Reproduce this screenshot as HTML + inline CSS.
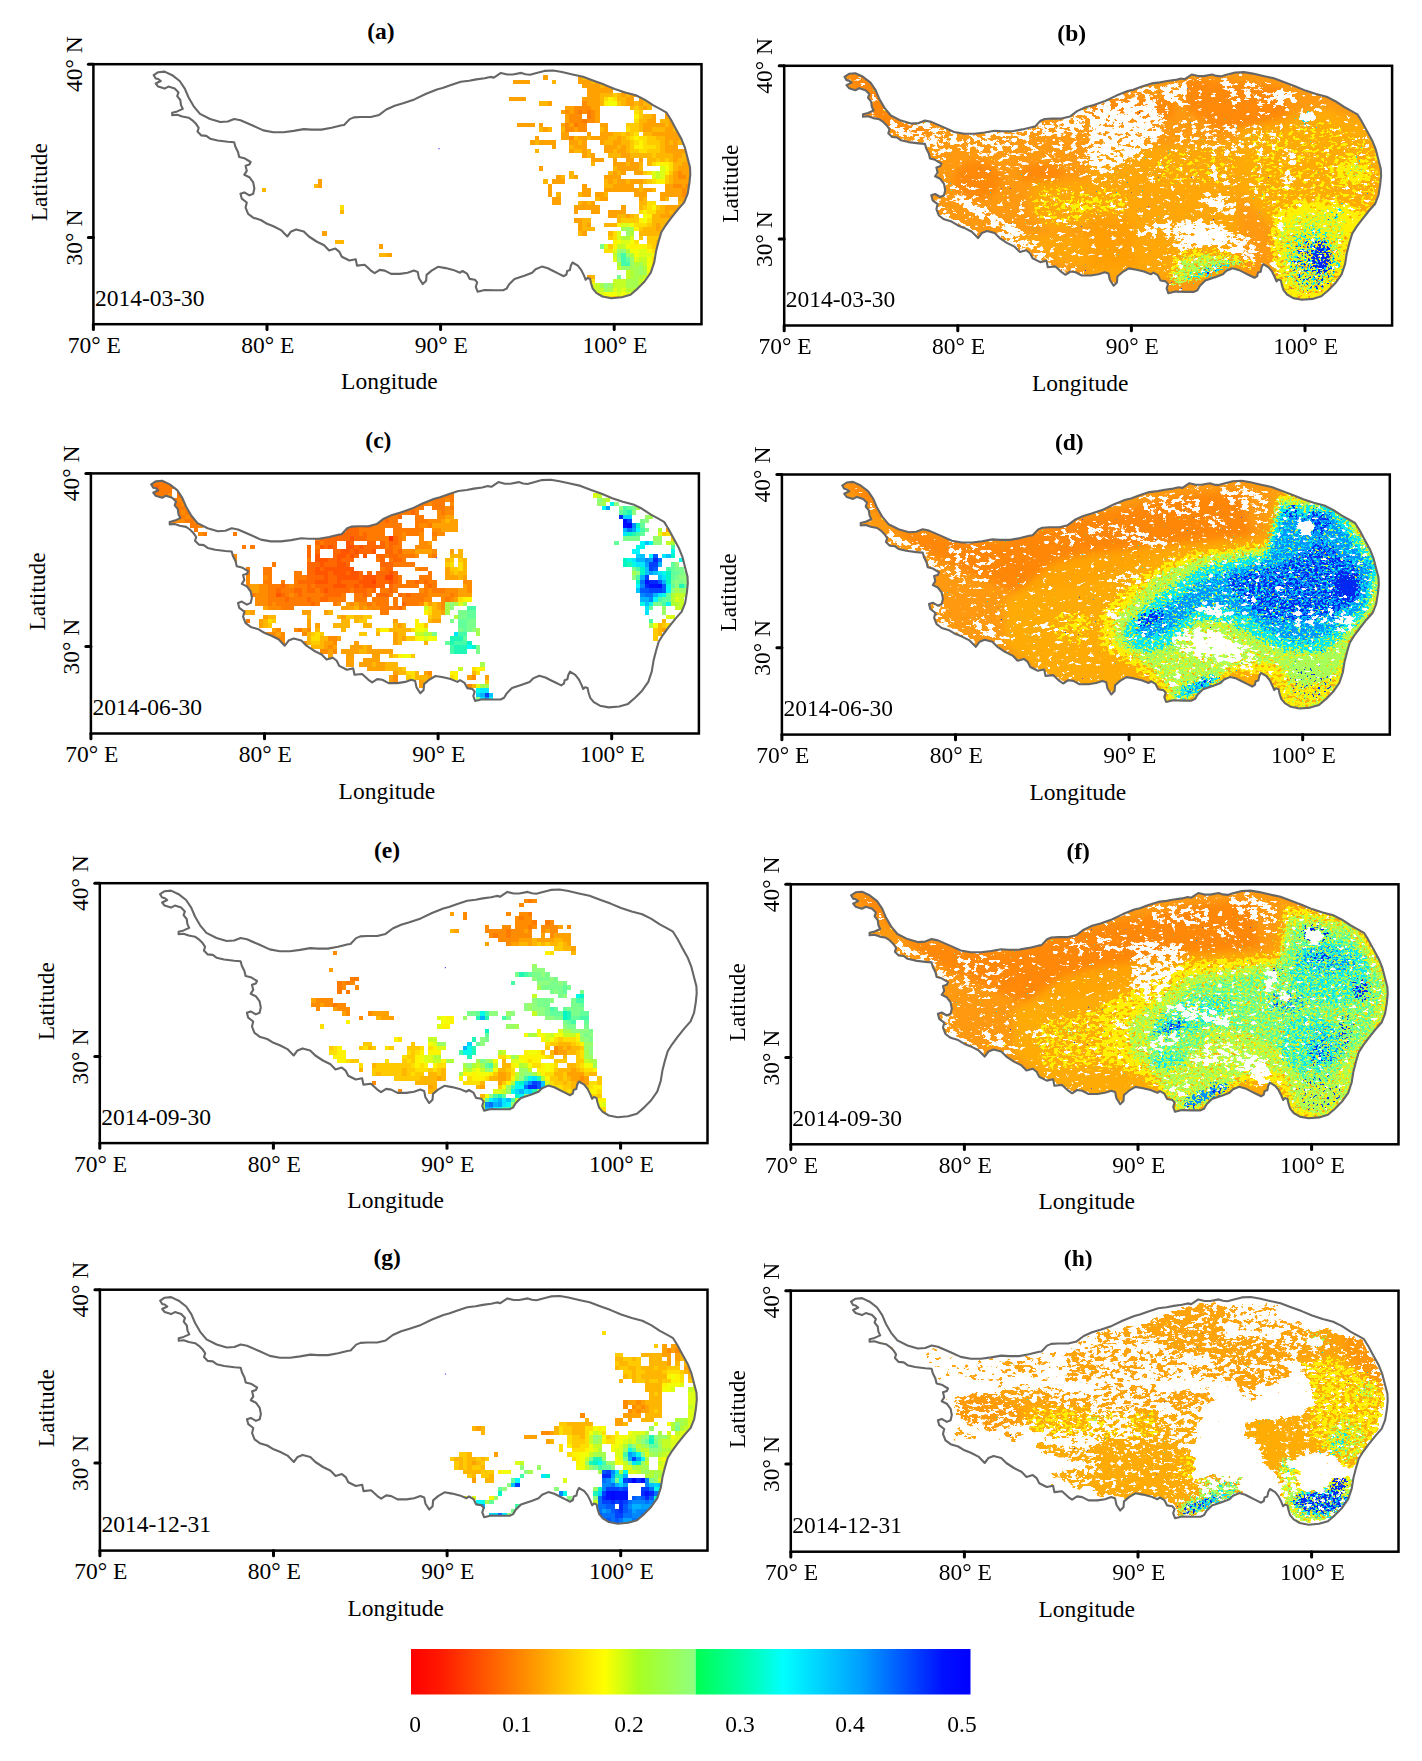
<!DOCTYPE html>
<html lang="en"><head><meta charset="utf-8"><title>Figure</title>
<style>html,body{margin:0;padding:0;background:#fff}svg{display:block}text{font-family:"Liberation Serif","Times New Roman",serif;font-size:23.5px;fill:#000}</style></head><body>
<svg width="1422" height="1761" viewBox="0 0 1422 1761">
<rect width="1422" height="1761" fill="#fff"/>
<defs><clipPath id="oc"><path d="M60.3 11.0L64.8 8.0L71.2 7.4L78.8 11.0L86.3 16.8L91.4 24.4L95.2 33.3L100.3 42.1L106.6 49.7L116.7 54.8L126.9 57.8L134.4 57.3L140.8 54.8L147.1 56.1L159.8 61.6L169.9 66.2L180.0 68.0L190.1 68.0L200.3 66.7L210.4 64.9L218.0 65.4L228.1 65.4L238.2 63.6L248.4 61.1L250.7 60.8L256.3 54.9L260.5 53.2L267.5 52.8L277.4 52.8L285.8 50.7L292.9 45.3L301.3 41.5L309.7 39.1L321.0 35.2L332.2 29.8L343.5 25.3L349.1 23.9L357.6 20.8L367.4 17.6L375.8 16.6L382.9 15.2L391.3 14.1L396.9 12.7L400.5 13.4L407.5 8.7L413.8 10.3L419.4 10.3L427.9 8.7L432.1 10.1L436.6 10.6L442.2 9.0L451.0 6.7L459.8 6.3L468.6 7.8L479.1 10.2L489.7 12.5L500.2 16.5L510.8 20.4L521.3 24.8L531.9 28.3L542.4 31.0L551.2 35.4L560.0 41.2L567.0 45.0L573.2 48.5L577.6 55.6L582.8 65.2L588.1 74.9L591.6 83.7L594.3 94.3L596.6 103.0L596.9 110.1L596.0 118.9L594.3 129.4L590.8 138.2L584.6 145.2L577.6 154.0L572.3 161.1L567.9 168.1L565.3 176.9L562.6 187.4L560.9 198.0L557.4 208.5L551.2 217.3L544.2 224.4L537.1 230.5L528.3 233.1L517.8 234.0L509.0 232.3L502.9 228.7L499.3 224.4L497.6 219.1L496.7 214.7L494.1 213.8L492.3 215.6L490.5 211.2L487.9 205.9L484.4 201.5L479.1 198.3L477.4 201.5L476.5 205.9L473.8 206.8L473.0 210.3L470.3 212.0L465.1 209.4L459.8 206.8L454.5 204.1L448.4 202.4L442.2 205.0L438.7 208.5L431.6 211.2L421.1 214.7L415.8 220.0L413.2 224.4L409.7 226.1L401.8 226.1L391.2 225.8L384.2 227.5L382.4 222.6L383.8 218.2L381.5 215.6L376.3 214.7L373.6 209.4L369.2 206.8L366.6 208.5L359.8 205.7L352.2 203.9L344.6 202.6L338.2 206.4L333.2 210.7L332.7 216.6L329.4 219.9L325.6 214.0L324.3 207.7L320.5 206.4L314.2 208.5L306.6 209.7L297.7 209.7L291.4 206.4L286.3 205.7L281.3 209.0L277.5 206.4L271.2 200.6L263.6 201.4L262.3 195.0L256.0 196.3L248.4 192.5L245.8 187.4L242.0 184.4L235.7 186.2L230.7 181.1L223.1 177.3L215.5 172.3L210.4 167.2L202.8 165.2L197.7 167.2L193.9 172.3L187.6 165.9L180.0 162.1L173.7 159.6L167.4 155.8L159.8 153.5L154.7 149.7L152.2 143.4L153.4 138.3L148.4 134.5L147.1 129.5L150.9 128.2L156.0 131.2L159.8 129.5L161.0 124.4L159.8 118.1L156.0 113.0L150.9 110.5L153.4 106.7L152.2 101.6L156.0 100.4L157.2 97.8L150.9 94.0L145.8 92.8L144.6 87.7L142.0 82.6L140.8 78.1L134.4 77.6L124.3 76.3L116.7 74.5L112.9 71.7L107.9 71.2L104.1 67.4L105.3 63.6L102.8 59.9L99.0 56.1L95.2 53.5L88.9 52.3L83.8 50.5L78.8 51.0L78.8 48.5L83.8 47.2L89.4 44.7L87.6 40.9L86.9 35.8L83.8 32.0L85.1 28.2L81.3 24.4L75.0 22.4L71.2 24.4L64.8 22.4L62.3 19.3L67.4 16.8L64.8 14.8L62.3 14.3Z"/></clipPath><filter id="f-dorange" filterUnits="userSpaceOnUse" x="0" y="0" width="608" height="260"><feGaussianBlur stdDeviation="3.5"/></filter>
<filter id="f-lorange" filterUnits="userSpaceOnUse" x="0" y="0" width="608" height="260"><feGaussianBlur stdDeviation="3.5"/></filter>
<filter id="f-yellow" filterUnits="userSpaceOnUse" x="0" y="0" width="608" height="260" color-interpolation-filters="sRGB">
<feGaussianBlur in="SourceAlpha" stdDeviation="3.5" result="den"/>
<feTurbulence type="fractalNoise" baseFrequency="0.22 0.32" numOctaves="3" seed="17" result="n"/>
<feColorMatrix in="n" type="matrix" values="0 0 0 0 0 0 0 0 0 0 0 0 0 0 0 0 0 0 1 0" result="na"/>
<feComposite in="den" in2="na" operator="arithmetic" k1="0" k2="1" k3="1.4" k4="-0.7" result="s"/>
<feComponentTransfer in="s" result="t"><feFuncA type="linear" slope="14" intercept="-6.5"/></feComponentTransfer>
<feFlood flood-color="#fff200" result="c"/>
<feComposite in="c" in2="t" operator="in"/>
</filter>
<filter id="f-lgreen" filterUnits="userSpaceOnUse" x="0" y="0" width="608" height="260" color-interpolation-filters="sRGB">
<feGaussianBlur in="SourceAlpha" stdDeviation="3.0" result="den"/>
<feTurbulence type="fractalNoise" baseFrequency="0.35 0.45" numOctaves="2" seed="24" result="n"/>
<feColorMatrix in="n" type="matrix" values="0 0 0 0 0 0 0 0 0 0 0 0 0 0 0 0 0 0 1 0" result="na"/>
<feComposite in="den" in2="na" operator="arithmetic" k1="0" k2="1" k3="1.4" k4="-0.7" result="s"/>
<feComponentTransfer in="s" result="t"><feFuncA type="linear" slope="14" intercept="-6.5"/></feComponentTransfer>
<feFlood flood-color="#a8ff58" result="c"/>
<feComposite in="c" in2="t" operator="in"/>
</filter>
<filter id="f-green" filterUnits="userSpaceOnUse" x="0" y="0" width="608" height="260" color-interpolation-filters="sRGB">
<feGaussianBlur in="SourceAlpha" stdDeviation="3.0" result="den"/>
<feTurbulence type="fractalNoise" baseFrequency="0.35 0.45" numOctaves="2" seed="31" result="n"/>
<feColorMatrix in="n" type="matrix" values="0 0 0 0 0 0 0 0 0 0 0 0 0 0 0 0 0 0 1 0" result="na"/>
<feComposite in="den" in2="na" operator="arithmetic" k1="0" k2="1" k3="1.4" k4="-0.7" result="s"/>
<feComponentTransfer in="s" result="t"><feFuncA type="linear" slope="14" intercept="-6.5"/></feComponentTransfer>
<feFlood flood-color="#4cffa8" result="c"/>
<feComposite in="c" in2="t" operator="in"/>
</filter>
<filter id="f-cyan" filterUnits="userSpaceOnUse" x="0" y="0" width="608" height="260" color-interpolation-filters="sRGB">
<feGaussianBlur in="SourceAlpha" stdDeviation="3.0" result="den"/>
<feTurbulence type="fractalNoise" baseFrequency="0.35 0.45" numOctaves="2" seed="38" result="n"/>
<feColorMatrix in="n" type="matrix" values="0 0 0 0 0 0 0 0 0 0 0 0 0 0 0 0 0 0 1 0" result="na"/>
<feComposite in="den" in2="na" operator="arithmetic" k1="0" k2="1" k3="1.4" k4="-0.7" result="s"/>
<feComponentTransfer in="s" result="t"><feFuncA type="linear" slope="14" intercept="-6.5"/></feComponentTransfer>
<feFlood flood-color="#00e4f4" result="c"/>
<feComposite in="c" in2="t" operator="in"/>
</filter>
<filter id="f-sky" filterUnits="userSpaceOnUse" x="0" y="0" width="608" height="260" color-interpolation-filters="sRGB">
<feGaussianBlur in="SourceAlpha" stdDeviation="3.0" result="den"/>
<feTurbulence type="fractalNoise" baseFrequency="0.35 0.45" numOctaves="2" seed="45" result="n"/>
<feColorMatrix in="n" type="matrix" values="0 0 0 0 0 0 0 0 0 0 0 0 0 0 0 0 0 0 1 0" result="na"/>
<feComposite in="den" in2="na" operator="arithmetic" k1="0" k2="1" k3="1.4" k4="-0.7" result="s"/>
<feComponentTransfer in="s" result="t"><feFuncA type="linear" slope="14" intercept="-6.5"/></feComponentTransfer>
<feFlood flood-color="#0090ff" result="c"/>
<feComposite in="c" in2="t" operator="in"/>
</filter>
<filter id="f-blue" filterUnits="userSpaceOnUse" x="0" y="0" width="608" height="260" color-interpolation-filters="sRGB">
<feGaussianBlur in="SourceAlpha" stdDeviation="3.0" result="den"/>
<feTurbulence type="fractalNoise" baseFrequency="0.35 0.45" numOctaves="2" seed="52" result="n"/>
<feColorMatrix in="n" type="matrix" values="0 0 0 0 0 0 0 0 0 0 0 0 0 0 0 0 0 0 1 0" result="na"/>
<feComposite in="den" in2="na" operator="arithmetic" k1="0" k2="1" k3="1.4" k4="-0.7" result="s"/>
<feComponentTransfer in="s" result="t"><feFuncA type="linear" slope="14" intercept="-6.5"/></feComponentTransfer>
<feFlood flood-color="#0028f0" result="c"/>
<feComposite in="c" in2="t" operator="in"/>
</filter>
<filter id="f-whiteinv" filterUnits="userSpaceOnUse" x="0" y="0" width="608" height="260" color-interpolation-filters="sRGB">
<feComponentTransfer in="SourceAlpha" result="inv"><feFuncA type="table" tableValues="1 0"/></feComponentTransfer><feGaussianBlur in="inv" stdDeviation="2.0" result="den"/>
<feTurbulence type="fractalNoise" baseFrequency="0.15 0.24" numOctaves="4" seed="59" result="n"/>
<feColorMatrix in="n" type="matrix" values="0 0 0 0 0 0 0 0 0 0 0 0 0 0 0 0 0 0 1 0" result="na"/>
<feComposite in="den" in2="na" operator="arithmetic" k1="0" k2="1" k3="1.4" k4="-0.7" result="s"/>
<feComponentTransfer in="s" result="t"><feFuncA type="linear" slope="14" intercept="-6.5"/></feComponentTransfer>
<feFlood flood-color="#ffffff" result="c"/>
<feComposite in="c" in2="t" operator="in"/>
</filter>
<filter id="f-white" filterUnits="userSpaceOnUse" x="0" y="0" width="608" height="260" color-interpolation-filters="sRGB">
<feGaussianBlur in="SourceAlpha" stdDeviation="2.0" result="den"/>
<feTurbulence type="fractalNoise" baseFrequency="0.15 0.24" numOctaves="4" seed="66" result="n"/>
<feColorMatrix in="n" type="matrix" values="0 0 0 0 0 0 0 0 0 0 0 0 0 0 0 0 0 0 1 0" result="na"/>
<feComposite in="den" in2="na" operator="arithmetic" k1="0" k2="1" k3="1.4" k4="-0.5" result="s"/>
<feComponentTransfer in="s" result="t"><feFuncA type="linear" slope="14" intercept="-6.5"/></feComponentTransfer>
<feFlood flood-color="#ffffff" result="c"/>
<feComposite in="c" in2="t" operator="in"/>
</filter></defs>
<g id="panel-a">
<g transform="translate(93.4 64.2)">
<g clip-path="url(#oc)" shape-rendering="crispEdges"><path fill="#ffa100" d="M484.6 -1.9H493.3V2.4H484.6ZM497.6 -1.9H523.6V2.4H497.6ZM527.9 -1.9H540.9V2.4H527.9ZM545.3 -1.9H554.0V2.4H545.3ZM562.6 -1.9H610.3V2.4H562.6ZM488.9 2.4H514.9V6.8H488.9ZM527.9 2.4H549.6V6.8H527.9ZM554.0 2.4H558.3V6.8H554.0ZM562.6 2.4H567.0V6.8H562.6ZM575.6 2.4H584.3V6.8H575.6ZM588.6 2.4H593.0V6.8H588.6ZM597.3 2.4H610.3V6.8H597.3ZM488.9 6.8H501.9V11.1H488.9ZM510.6 6.8H527.9V11.1H510.6ZM532.3 6.8H580.0V11.1H532.3ZM588.6 6.8H593.0V11.1H588.6ZM597.3 6.8H606.0V11.1H597.3ZM449.9 11.1H454.2V15.4H449.9ZM484.6 11.1H488.9V15.4H484.6ZM493.3 11.1H501.9V15.4H493.3ZM506.3 11.1H545.3V15.4H506.3ZM549.6 11.1H558.3V15.4H549.6ZM562.6 11.1H571.3V15.4H562.6ZM580.0 11.1H588.6V15.4H580.0ZM597.3 11.1H601.6V15.4H597.3ZM419.6 15.4H436.9V19.8H419.6ZM484.6 15.4H497.6V19.8H484.6ZM501.9 15.4H532.3V19.8H501.9ZM536.6 15.4H545.3V19.8H536.6ZM549.6 15.4H593.0V19.8H549.6ZM601.6 15.4H610.3V19.8H601.6ZM488.9 19.8H506.3V24.1H488.9ZM510.6 19.8H514.9V24.1H510.6ZM519.3 19.8H540.9V24.1H519.3ZM545.3 19.8H554.0V24.1H545.3ZM567.0 19.8H571.3V24.1H567.0ZM580.0 19.8H588.6V24.1H580.0ZM597.3 19.8H601.6V24.1H597.3ZM493.3 24.1H519.3V28.4H493.3ZM527.9 24.1H532.3V28.4H527.9ZM540.9 24.1H549.6V28.4H540.9ZM554.0 24.1H562.6V28.4H554.0ZM567.0 24.1H571.3V28.4H567.0ZM575.6 24.1H606.0V28.4H575.6ZM493.3 28.4H506.3V32.8H493.3ZM527.9 28.4H532.3V32.8H527.9ZM536.6 28.4H554.0V32.8H536.6ZM567.0 28.4H588.6V32.8H567.0ZM597.3 28.4H601.6V32.8H597.3ZM606.0 28.4H610.3V32.8H606.0ZM415.2 32.8H432.6V37.1H415.2ZM488.9 32.8H506.3V37.1H488.9ZM532.3 32.8H540.9V37.1H532.3ZM545.3 32.8H554.0V37.1H545.3ZM558.3 32.8H575.6V37.1H558.3ZM580.0 32.8H610.3V37.1H580.0ZM454.2 37.1H458.6V41.5H454.2ZM493.3 37.1H506.3V41.5H493.3ZM532.3 37.1H540.9V41.5H532.3ZM545.3 37.1H549.6V41.5H545.3ZM558.3 37.1H562.6V41.5H558.3ZM567.0 37.1H584.3V41.5H567.0ZM588.6 37.1H597.3V41.5H588.6ZM471.6 41.5H480.3V45.8H471.6ZM497.6 41.5H506.3V45.8H497.6ZM549.6 41.5H554.0V45.8H549.6ZM567.0 41.5H571.3V45.8H567.0ZM580.0 41.5H597.3V45.8H580.0ZM601.6 41.5H610.3V45.8H601.6ZM467.2 45.8H471.6V50.1H467.2ZM475.9 45.8H480.3V50.1H475.9ZM501.9 45.8H506.3V50.1H501.9ZM571.3 45.8H575.6V50.1H571.3ZM580.0 45.8H584.3V50.1H580.0ZM588.6 45.8H610.3V50.1H588.6ZM471.6 50.1H475.9V54.5H471.6ZM501.9 50.1H506.3V54.5H501.9ZM558.3 50.1H562.6V54.5H558.3ZM571.3 50.1H597.3V54.5H571.3ZM601.6 50.1H610.3V54.5H601.6ZM471.6 54.5H475.9V58.8H471.6ZM501.9 54.5H506.3V58.8H501.9ZM554.0 54.5H562.6V58.8H554.0ZM575.6 54.5H593.0V58.8H575.6ZM597.3 54.5H601.6V58.8H597.3ZM606.0 54.5H610.3V58.8H606.0ZM423.9 58.8H441.2V63.1H423.9ZM445.6 58.8H449.9V63.1H445.6ZM467.2 58.8H471.6V63.1H467.2ZM475.9 58.8H480.3V63.1H475.9ZM506.3 58.8H514.9V63.1H506.3ZM549.6 58.8H571.3V63.1H549.6ZM575.6 58.8H580.0V63.1H575.6ZM584.3 58.8H588.6V63.1H584.3ZM601.6 58.8H610.3V63.1H601.6ZM449.9 63.1H454.2V67.5H449.9ZM480.3 63.1H484.6V67.5H480.3ZM510.6 63.1H514.9V67.5H510.6ZM549.6 63.1H558.3V67.5H549.6ZM571.3 63.1H580.0V67.5H571.3ZM584.3 63.1H610.3V67.5H584.3ZM467.2 67.5H475.9V71.8H467.2ZM493.3 67.5H497.6V71.8H493.3ZM506.3 67.5H519.3V71.8H506.3ZM558.3 67.5H588.6V71.8H558.3ZM593.0 67.5H601.6V71.8H593.0ZM606.0 67.5H610.3V71.8H606.0ZM441.2 71.8H445.6V76.1H441.2ZM467.2 71.8H475.9V76.1H467.2ZM484.6 71.8H493.3V76.1H484.6ZM497.6 71.8H514.9V76.1H497.6ZM523.6 71.8H527.9V76.1H523.6ZM571.3 71.8H610.3V76.1H571.3ZM436.9 76.1H441.2V80.5H436.9ZM445.6 76.1H462.9V80.5H445.6ZM475.9 76.1H484.6V80.5H475.9ZM488.9 76.1H493.3V80.5H488.9ZM506.3 76.1H510.6V80.5H506.3ZM519.3 76.1H527.9V80.5H519.3ZM571.3 76.1H575.6V80.5H571.3ZM580.0 76.1H584.3V80.5H580.0ZM588.6 76.1H593.0V80.5H588.6ZM597.3 76.1H606.0V80.5H597.3ZM458.6 80.5H462.9V84.8H458.6ZM480.3 80.5H493.3V84.8H480.3ZM510.6 80.5H523.6V84.8H510.6ZM527.9 80.5H532.3V84.8H527.9ZM571.3 80.5H584.3V84.8H571.3ZM593.0 80.5H597.3V84.8H593.0ZM601.6 80.5H606.0V84.8H601.6ZM475.9 84.8H480.3V89.1H475.9ZM488.9 84.8H493.3V89.1H488.9ZM510.6 84.8H519.3V89.1H510.6ZM523.6 84.8H532.3V89.1H523.6ZM571.3 84.8H610.3V89.1H571.3ZM488.9 89.1H493.3V93.5H488.9ZM497.6 89.1H501.9V93.5H497.6ZM527.9 89.1H536.6V93.5H527.9ZM580.0 89.1H588.6V93.5H580.0ZM601.6 89.1H610.3V93.5H601.6ZM497.6 93.5H510.6V97.8H497.6ZM519.3 93.5H523.6V97.8H519.3ZM532.3 93.5H540.9V97.8H532.3ZM545.3 93.5H549.6V97.8H545.3ZM580.0 93.5H584.3V97.8H580.0ZM593.0 93.5H601.6V97.8H593.0ZM606.0 93.5H610.3V97.8H606.0ZM519.3 97.8H532.3V102.1H519.3ZM536.6 97.8H545.3V102.1H536.6ZM588.6 97.8H610.3V102.1H588.6ZM445.6 102.1H449.9V106.5H445.6ZM523.6 102.1H545.3V106.5H523.6ZM584.3 102.1H606.0V106.5H584.3ZM519.3 106.5H523.6V110.8H519.3ZM527.9 106.5H532.3V110.8H527.9ZM540.9 106.5H549.6V110.8H540.9ZM580.0 106.5H584.3V110.8H580.0ZM588.6 106.5H601.6V110.8H588.6ZM606.0 106.5H610.3V110.8H606.0ZM462.9 110.8H467.2V115.1H462.9ZM480.3 110.8H484.6V115.1H480.3ZM510.6 110.8H527.9V115.1H510.6ZM580.0 110.8H584.3V115.1H580.0ZM593.0 110.8H610.3V115.1H593.0ZM224.5 115.1H228.8V119.5H224.5ZM458.6 115.1H471.6V119.5H458.6ZM514.9 115.1H519.3V119.5H514.9ZM523.6 115.1H532.3V119.5H523.6ZM536.6 115.1H549.6V119.5H536.6ZM580.0 115.1H610.3V119.5H580.0ZM224.5 119.5H228.8V123.8H224.5ZM454.2 119.5H458.6V123.8H454.2ZM488.9 119.5H493.3V123.8H488.9ZM519.3 119.5H540.9V123.8H519.3ZM571.3 119.5H580.0V123.8H571.3ZM588.6 119.5H593.0V123.8H588.6ZM601.6 119.5H610.3V123.8H601.6ZM454.2 123.8H458.6V128.2H454.2ZM488.9 123.8H497.6V128.2H488.9ZM510.6 123.8H545.3V128.2H510.6ZM549.6 123.8H558.3V128.2H549.6ZM571.3 123.8H588.6V128.2H571.3ZM593.0 123.8H610.3V128.2H593.0ZM454.2 128.2H458.6V132.5H454.2ZM488.9 128.2H497.6V132.5H488.9ZM501.9 128.2H510.6V132.5H501.9ZM540.9 128.2H554.0V132.5H540.9ZM567.0 128.2H588.6V132.5H567.0ZM597.3 128.2H606.0V132.5H597.3ZM458.6 132.5H467.2V136.8H458.6ZM506.3 132.5H514.9V136.8H506.3ZM545.3 132.5H549.6V136.8H545.3ZM567.0 132.5H571.3V136.8H567.0ZM584.3 132.5H593.0V136.8H584.3ZM597.3 132.5H610.3V136.8H597.3ZM458.6 136.8H467.2V141.2H458.6ZM488.9 136.8H493.3V141.2H488.9ZM497.6 136.8H501.9V141.2H497.6ZM588.6 136.8H606.0V141.2H588.6ZM480.3 141.2H506.3V145.5H480.3ZM527.9 141.2H532.3V145.5H527.9ZM571.3 141.2H601.6V145.5H571.3ZM480.3 145.5H484.6V149.8H480.3ZM497.6 145.5H506.3V149.8H497.6ZM514.9 145.5H532.3V149.8H514.9ZM571.3 145.5H575.6V149.8H571.3ZM580.0 145.5H584.3V149.8H580.0ZM588.6 145.5H610.3V149.8H588.6ZM514.9 149.8H523.6V154.2H514.9ZM532.3 149.8H536.6V154.2H532.3ZM567.0 149.8H580.0V154.2H567.0ZM588.6 149.8H606.0V154.2H588.6ZM480.3 154.2H488.9V158.5H480.3ZM575.6 154.2H580.0V158.5H575.6ZM588.6 154.2H606.0V158.5H588.6ZM484.6 158.5H488.9V162.8H484.6ZM493.3 158.5H497.6V162.8H493.3ZM562.6 158.5H567.0V162.8H562.6ZM571.3 158.5H575.6V162.8H571.3ZM580.0 158.5H584.3V162.8H580.0ZM588.6 158.5H601.6V162.8H588.6ZM484.6 162.8H488.9V167.2H484.6ZM562.6 162.8H567.0V167.2H562.6ZM571.3 162.8H584.3V167.2H571.3ZM593.0 162.8H601.6V167.2H593.0ZM228.8 167.2H233.2V171.5H228.8ZM488.9 167.2H493.3V171.5H488.9ZM567.0 167.2H597.3V171.5H567.0ZM575.6 171.5H588.6V175.8H575.6ZM593.0 171.5H597.3V175.8H593.0ZM571.3 175.8H593.0V180.2H571.3ZM285.2 180.2H289.5V184.5H285.2ZM571.3 180.2H575.6V184.5H571.3ZM580.0 180.2H584.3V184.5H580.0ZM588.6 180.2H593.0V184.5H588.6ZM567.0 184.5H571.3V188.8H567.0ZM575.6 184.5H584.3V188.8H575.6ZM293.8 188.8H298.2V193.2H293.8ZM571.3 188.8H575.6V193.2H571.3ZM580.0 188.8H588.6V193.2H580.0ZM567.0 193.2H571.3V197.5H567.0ZM575.6 193.2H584.3V197.5H575.6ZM571.3 197.5H584.3V201.8H571.3ZM567.0 201.8H571.3V206.2H567.0ZM575.6 201.8H580.0V206.2H575.6ZM567.0 206.2H571.3V210.5H567.0ZM575.6 206.2H580.0V210.5H575.6ZM493.3 210.5H497.6V214.8H493.3ZM571.3 210.5H575.6V214.8H571.3ZM567.0 214.8H575.6V219.2H567.0ZM567.0 219.2H575.6V223.5H567.0ZM562.6 223.5H571.3V227.9H562.6ZM558.3 227.9H571.3V232.2H558.3ZM497.6 232.2H501.9V236.5H497.6ZM558.3 232.2H567.0V236.5H558.3Z"/><path fill="#ffb600" d="M493.3 -1.9H497.6V2.4H493.3ZM523.6 -1.9H527.9V2.4H523.6ZM540.9 -1.9H545.3V2.4H540.9ZM554.0 -1.9H562.6V2.4H554.0ZM484.6 2.4H488.9V6.8H484.6ZM514.9 2.4H527.9V6.8H514.9ZM549.6 2.4H554.0V6.8H549.6ZM558.3 2.4H562.6V6.8H558.3ZM567.0 2.4H575.6V6.8H567.0ZM584.3 2.4H588.6V6.8H584.3ZM593.0 2.4H597.3V6.8H593.0ZM484.6 6.8H488.9V11.1H484.6ZM501.9 6.8H510.6V11.1H501.9ZM527.9 6.8H532.3V11.1H527.9ZM580.0 6.8H588.6V11.1H580.0ZM593.0 6.8H597.3V11.1H593.0ZM606.0 6.8H610.3V11.1H606.0ZM488.9 11.1H493.3V15.4H488.9ZM501.9 11.1H506.3V15.4H501.9ZM545.3 11.1H549.6V15.4H545.3ZM558.3 11.1H562.6V15.4H558.3ZM571.3 11.1H580.0V15.4H571.3ZM588.6 11.1H597.3V15.4H588.6ZM601.6 11.1H610.3V15.4H601.6ZM458.6 15.4H462.9V19.8H458.6ZM497.6 15.4H501.9V19.8H497.6ZM532.3 15.4H536.6V19.8H532.3ZM545.3 15.4H549.6V19.8H545.3ZM593.0 15.4H601.6V19.8H593.0ZM506.3 19.8H510.6V24.1H506.3ZM514.9 19.8H519.3V24.1H514.9ZM540.9 19.8H545.3V24.1H540.9ZM554.0 19.8H567.0V24.1H554.0ZM571.3 19.8H580.0V24.1H571.3ZM588.6 19.8H597.3V24.1H588.6ZM601.6 19.8H610.3V24.1H601.6ZM532.3 24.1H540.9V28.4H532.3ZM549.6 24.1H554.0V28.4H549.6ZM562.6 24.1H567.0V28.4H562.6ZM571.3 24.1H575.6V28.4H571.3ZM606.0 24.1H610.3V28.4H606.0ZM506.3 28.4H519.3V32.8H506.3ZM523.6 28.4H527.9V32.8H523.6ZM532.3 28.4H536.6V32.8H532.3ZM554.0 28.4H567.0V32.8H554.0ZM588.6 28.4H597.3V32.8H588.6ZM601.6 28.4H606.0V32.8H601.6ZM506.3 32.8H510.6V37.1H506.3ZM523.6 32.8H532.3V37.1H523.6ZM554.0 32.8H558.3V37.1H554.0ZM575.6 32.8H580.0V37.1H575.6ZM445.6 37.1H454.2V41.5H445.6ZM506.3 37.1H510.6V41.5H506.3ZM527.9 37.1H532.3V41.5H527.9ZM540.9 37.1H545.3V41.5H540.9ZM549.6 37.1H558.3V41.5H549.6ZM562.6 37.1H567.0V41.5H562.6ZM584.3 37.1H588.6V41.5H584.3ZM597.3 37.1H610.3V41.5H597.3ZM536.6 41.5H540.9V45.8H536.6ZM545.3 41.5H549.6V45.8H545.3ZM554.0 41.5H558.3V45.8H554.0ZM571.3 41.5H580.0V45.8H571.3ZM597.3 41.5H601.6V45.8H597.3ZM575.6 45.8H580.0V50.1H575.6ZM584.3 45.8H588.6V50.1H584.3ZM549.6 50.1H558.3V54.5H549.6ZM597.3 50.1H601.6V54.5H597.3ZM545.3 54.5H554.0V58.8H545.3ZM567.0 54.5H575.6V58.8H567.0ZM593.0 54.5H597.3V58.8H593.0ZM601.6 54.5H606.0V58.8H601.6ZM545.3 58.8H549.6V63.1H545.3ZM571.3 58.8H575.6V63.1H571.3ZM580.0 58.8H584.3V63.1H580.0ZM588.6 58.8H601.6V63.1H588.6ZM445.6 63.1H449.9V67.5H445.6ZM454.2 63.1H458.6V67.5H454.2ZM467.2 63.1H471.6V67.5H467.2ZM506.3 63.1H510.6V67.5H506.3ZM545.3 63.1H549.6V67.5H545.3ZM558.3 63.1H571.3V67.5H558.3ZM580.0 63.1H584.3V67.5H580.0ZM519.3 67.5H527.9V71.8H519.3ZM532.3 67.5H536.6V71.8H532.3ZM549.6 67.5H558.3V71.8H549.6ZM588.6 67.5H593.0V71.8H588.6ZM601.6 67.5H606.0V71.8H601.6ZM480.3 71.8H484.6V76.1H480.3ZM493.3 71.8H497.6V76.1H493.3ZM514.9 71.8H523.6V76.1H514.9ZM527.9 71.8H532.3V76.1H527.9ZM562.6 71.8H571.3V76.1H562.6ZM441.2 76.1H445.6V80.5H441.2ZM484.6 76.1H488.9V80.5H484.6ZM510.6 76.1H519.3V80.5H510.6ZM527.9 76.1H536.6V80.5H527.9ZM567.0 76.1H571.3V80.5H567.0ZM575.6 76.1H580.0V80.5H575.6ZM584.3 76.1H588.6V80.5H584.3ZM593.0 76.1H597.3V80.5H593.0ZM606.0 76.1H610.3V80.5H606.0ZM475.9 80.5H480.3V84.8H475.9ZM523.6 80.5H527.9V84.8H523.6ZM532.3 80.5H536.6V84.8H532.3ZM567.0 80.5H571.3V84.8H567.0ZM597.3 80.5H601.6V84.8H597.3ZM606.0 80.5H610.3V84.8H606.0ZM441.2 84.8H445.6V89.1H441.2ZM480.3 84.8H488.9V89.1H480.3ZM493.3 84.8H497.6V89.1H493.3ZM519.3 84.8H523.6V89.1H519.3ZM532.3 84.8H536.6V89.1H532.3ZM567.0 84.8H571.3V89.1H567.0ZM493.3 89.1H497.6V93.5H493.3ZM514.9 89.1H527.9V93.5H514.9ZM536.6 89.1H558.3V93.5H536.6ZM562.6 89.1H580.0V93.5H562.6ZM588.6 89.1H601.6V93.5H588.6ZM554.0 93.5H562.6V97.8H554.0ZM567.0 93.5H571.3V97.8H567.0ZM575.6 93.5H580.0V97.8H575.6ZM584.3 93.5H593.0V97.8H584.3ZM601.6 93.5H606.0V97.8H601.6ZM497.6 97.8H501.9V102.1H497.6ZM532.3 97.8H536.6V102.1H532.3ZM545.3 97.8H549.6V102.1H545.3ZM554.0 97.8H558.3V102.1H554.0ZM580.0 97.8H588.6V102.1H580.0ZM519.3 102.1H523.6V106.5H519.3ZM545.3 102.1H549.6V106.5H545.3ZM580.0 102.1H584.3V106.5H580.0ZM606.0 102.1H610.3V106.5H606.0ZM475.9 106.5H480.3V110.8H475.9ZM514.9 106.5H519.3V110.8H514.9ZM523.6 106.5H527.9V110.8H523.6ZM601.6 106.5H606.0V110.8H601.6ZM467.2 110.8H471.6V115.1H467.2ZM475.9 110.8H480.3V115.1H475.9ZM575.6 110.8H580.0V115.1H575.6ZM449.9 115.1H454.2V119.5H449.9ZM510.6 115.1H514.9V119.5H510.6ZM519.3 115.1H523.6V119.5H519.3ZM532.3 115.1H536.6V119.5H532.3ZM549.6 115.1H554.0V119.5H549.6ZM575.6 115.1H580.0V119.5H575.6ZM220.2 119.5H224.5V123.8H220.2ZM510.6 119.5H519.3V123.8H510.6ZM545.3 119.5H549.6V123.8H545.3ZM168.1 123.8H172.5V128.2H168.1ZM545.3 123.8H549.6V128.2H545.3ZM558.3 123.8H562.6V128.2H558.3ZM462.9 128.2H467.2V132.5H462.9ZM484.6 128.2H488.9V132.5H484.6ZM510.6 128.2H514.9V132.5H510.6ZM606.0 128.2H610.3V132.5H606.0ZM501.9 132.5H506.3V136.8H501.9ZM549.6 132.5H554.0V136.8H549.6ZM571.3 132.5H575.6V136.8H571.3ZM484.6 136.8H488.9V141.2H484.6ZM493.3 136.8H497.6V141.2H493.3ZM545.3 136.8H554.0V141.2H545.3ZM584.3 136.8H588.6V141.2H584.3ZM606.0 136.8H610.3V141.2H606.0ZM545.3 141.2H549.6V145.5H545.3ZM567.0 141.2H571.3V145.5H567.0ZM601.6 141.2H610.3V145.5H601.6ZM246.2 145.5H250.5V149.8H246.2ZM562.6 145.5H571.3V149.8H562.6ZM575.6 145.5H580.0V149.8H575.6ZM584.3 145.5H588.6V149.8H584.3ZM523.6 149.8H532.3V154.2H523.6ZM536.6 149.8H540.9V154.2H536.6ZM558.3 149.8H567.0V154.2H558.3ZM580.0 149.8H588.6V154.2H580.0ZM488.9 154.2H497.6V158.5H488.9ZM523.6 154.2H527.9V158.5H523.6ZM558.3 154.2H575.6V158.5H558.3ZM580.0 154.2H588.6V158.5H580.0ZM488.9 158.5H493.3V162.8H488.9ZM510.6 158.5H523.6V162.8H510.6ZM558.3 158.5H562.6V162.8H558.3ZM567.0 158.5H571.3V162.8H567.0ZM575.6 158.5H580.0V162.8H575.6ZM584.3 158.5H588.6V162.8H584.3ZM488.9 162.8H501.9V167.2H488.9ZM549.6 162.8H562.6V167.2H549.6ZM567.0 162.8H571.3V167.2H567.0ZM584.3 162.8H593.0V167.2H584.3ZM484.6 167.2H488.9V171.5H484.6ZM514.9 167.2H519.3V171.5H514.9ZM545.3 167.2H567.0V171.5H545.3ZM567.0 171.5H575.6V175.8H567.0ZM588.6 171.5H593.0V175.8H588.6ZM241.8 175.8H250.5V180.2H241.8ZM562.6 175.8H571.3V180.2H562.6ZM562.6 180.2H571.3V184.5H562.6ZM575.6 180.2H580.0V184.5H575.6ZM584.3 180.2H588.6V184.5H584.3ZM562.6 184.5H567.0V188.8H562.6ZM571.3 184.5H575.6V188.8H571.3ZM584.3 184.5H588.6V188.8H584.3ZM285.2 188.8H293.8V193.2H285.2ZM562.6 188.8H571.3V193.2H562.6ZM575.6 188.8H580.0V193.2H575.6ZM562.6 193.2H567.0V197.5H562.6ZM571.3 193.2H575.6V197.5H571.3ZM567.0 197.5H571.3V201.8H567.0ZM562.6 201.8H567.0V206.2H562.6ZM571.3 201.8H575.6V206.2H571.3ZM571.3 206.2H575.6V210.5H571.3ZM497.6 210.5H501.9V214.8H497.6ZM562.6 210.5H571.3V214.8H562.6ZM575.6 210.5H580.0V214.8H575.6ZM562.6 214.8H567.0V219.2H562.6ZM558.3 219.2H567.0V223.5H558.3ZM558.3 223.5H562.6V227.9H558.3ZM554.0 227.9H558.3V232.2H554.0ZM501.9 232.2H506.3V236.5H501.9ZM549.6 232.2H558.3V236.5H549.6Z"/><path fill="#ffca00" d="M519.3 28.4H523.6V32.8H519.3ZM523.6 37.1H527.9V41.5H523.6ZM540.9 41.5H545.3V45.8H540.9ZM545.3 45.8H549.6V50.1H545.3ZM545.3 50.1H549.6V54.5H545.3ZM532.3 58.8H545.3V63.1H532.3ZM536.6 63.1H545.3V67.5H536.6ZM527.9 67.5H532.3V71.8H527.9ZM536.6 67.5H540.9V71.8H536.6ZM532.3 71.8H536.6V76.1H532.3ZM554.0 71.8H562.6V76.1H554.0ZM536.6 76.1H540.9V80.5H536.6ZM554.0 76.1H567.0V80.5H554.0ZM536.6 80.5H540.9V84.8H536.6ZM562.6 80.5H567.0V84.8H562.6ZM536.6 84.8H545.3V89.1H536.6ZM554.0 84.8H567.0V89.1H554.0ZM558.3 89.1H562.6V93.5H558.3ZM562.6 93.5H567.0V97.8H562.6ZM571.3 93.5H575.6V97.8H571.3ZM549.6 106.5H554.0V110.8H549.6ZM575.6 106.5H580.0V110.8H575.6ZM571.3 110.8H575.6V115.1H571.3ZM554.0 115.1H558.3V119.5H554.0ZM571.3 115.1H575.6V119.5H571.3ZM549.6 141.2H554.0V145.5H549.6ZM562.6 141.2H567.0V145.5H562.6ZM540.9 149.8H545.3V154.2H540.9ZM527.9 154.2H545.3V158.5H527.9ZM554.0 158.5H558.3V162.8H554.0ZM545.3 162.8H549.6V167.2H545.3ZM514.9 171.5H519.3V175.8H514.9ZM545.3 171.5H549.6V175.8H545.3ZM554.0 171.5H567.0V175.8H554.0ZM554.0 175.8H562.6V180.2H554.0ZM514.9 180.2H519.3V184.5H514.9ZM558.3 180.2H562.6V184.5H558.3ZM562.6 197.5H567.0V201.8H562.6ZM562.6 206.2H567.0V210.5H562.6ZM558.3 214.8H562.6V219.2H558.3ZM554.0 219.2H558.3V223.5H554.0ZM554.0 223.5H558.3V227.9H554.0ZM549.6 227.9H554.0V232.2H549.6ZM519.3 232.2H527.9V236.5H519.3ZM545.3 232.2H549.6V236.5H545.3Z"/><path fill="#ffdf00" d="M510.6 32.8H514.9V37.1H510.6ZM519.3 32.8H523.6V37.1H519.3ZM540.9 45.8H545.3V50.1H540.9ZM540.9 54.5H545.3V58.8H540.9ZM532.3 63.1H536.6V67.5H532.3ZM540.9 67.5H545.3V71.8H540.9ZM536.6 71.8H540.9V76.1H536.6ZM545.3 71.8H554.0V76.1H545.3ZM540.9 76.1H545.3V80.5H540.9ZM549.6 76.1H554.0V80.5H549.6ZM549.6 80.5H562.6V84.8H549.6ZM545.3 84.8H554.0V89.1H545.3ZM558.3 97.8H562.6V102.1H558.3ZM575.6 97.8H580.0V102.1H575.6ZM575.6 102.1H580.0V106.5H575.6ZM554.0 106.5H558.3V110.8H554.0ZM558.3 115.1H562.6V119.5H558.3ZM554.0 136.8H562.6V141.2H554.0ZM246.2 141.2H250.5V145.5H246.2ZM554.0 141.2H558.3V145.5H554.0ZM545.3 145.5H549.6V149.8H545.3ZM554.0 145.5H562.6V149.8H554.0ZM554.0 154.2H558.3V158.5H554.0ZM540.9 158.5H554.0V162.8H540.9ZM519.3 167.2H523.6V171.5H519.3ZM519.3 171.5H523.6V175.8H519.3ZM540.9 175.8H545.3V180.2H540.9ZM554.0 180.2H558.3V184.5H554.0ZM510.6 184.5H519.3V188.8H510.6ZM558.3 184.5H562.6V188.8H558.3ZM558.3 193.2H562.6V197.5H558.3ZM558.3 197.5H562.6V201.8H558.3ZM558.3 206.2H562.6V210.5H558.3ZM558.3 210.5H562.6V214.8H558.3ZM497.6 214.8H501.9V219.2H497.6ZM554.0 214.8H558.3V219.2H554.0ZM549.6 223.5H554.0V227.9H549.6ZM497.6 227.9H501.9V232.2H497.6ZM545.3 227.9H549.6V232.2H545.3ZM506.3 232.2H519.3V236.5H506.3ZM527.9 232.2H545.3V236.5H527.9Z"/><path fill="#fff400" d="M514.9 32.8H519.3V37.1H514.9ZM510.6 37.1H514.9V41.5H510.6ZM540.9 50.1H545.3V54.5H540.9ZM540.9 71.8H545.3V76.1H540.9ZM545.3 76.1H549.6V80.5H545.3ZM540.9 80.5H549.6V84.8H540.9ZM562.6 97.8H575.6V102.1H562.6ZM571.3 106.5H575.6V110.8H571.3ZM562.6 115.1H571.3V119.5H562.6ZM558.3 141.2H562.6V145.5H558.3ZM549.6 145.5H554.0V149.8H549.6ZM554.0 149.8H558.3V154.2H554.0ZM545.3 154.2H549.6V158.5H545.3ZM523.6 158.5H527.9V162.8H523.6ZM540.9 162.8H545.3V167.2H540.9ZM519.3 175.8H523.6V180.2H519.3ZM519.3 180.2H523.6V184.5H519.3ZM536.6 180.2H554.0V184.5H536.6ZM554.0 184.5H558.3V188.8H554.0ZM558.3 188.8H562.6V193.2H558.3ZM558.3 201.8H562.6V206.2H558.3ZM501.9 227.9H506.3V232.2H501.9ZM540.9 227.9H545.3V232.2H540.9Z"/><path fill="#ff8c00" d="M488.9 37.1H493.3V41.5H488.9ZM480.3 41.5H497.6V45.8H480.3ZM471.6 45.8H475.9V50.1H471.6ZM480.3 45.8H484.6V50.1H480.3ZM488.9 45.8H493.3V50.1H488.9ZM497.6 45.8H501.9V50.1H497.6ZM475.9 50.1H488.9V54.5H475.9ZM497.6 50.1H501.9V54.5H497.6ZM475.9 54.5H488.9V58.8H475.9ZM493.3 54.5H501.9V58.8H493.3ZM471.6 58.8H475.9V63.1H471.6ZM484.6 58.8H493.3V63.1H484.6ZM471.6 63.1H480.3V67.5H471.6ZM484.6 63.1H493.3V67.5H484.6ZM475.9 71.8H480.3V76.1H475.9ZM584.3 106.5H588.6V110.8H584.3ZM584.3 110.8H593.0V115.1H584.3ZM580.0 119.5H588.6V123.8H580.0ZM593.0 119.5H601.6V123.8H593.0ZM588.6 123.8H593.0V128.2H588.6ZM588.6 128.2H597.3V132.5H588.6ZM593.0 132.5H597.3V136.8H593.0Z"/><path fill="#f3ff07" d="M514.9 37.1H523.6V41.5H514.9ZM571.3 102.1H575.6V106.5H571.3ZM549.6 149.8H554.0V154.2H549.6ZM549.6 154.2H554.0V158.5H549.6ZM536.6 158.5H540.9V162.8H536.6ZM523.6 175.8H527.9V180.2H523.6ZM536.6 175.8H540.9V180.2H536.6ZM532.3 180.2H536.6V184.5H532.3ZM536.6 184.5H545.3V188.8H536.6ZM540.9 188.8H545.3V193.2H540.9ZM554.0 193.2H558.3V197.5H554.0ZM554.0 197.5H558.3V201.8H554.0ZM554.0 201.8H558.3V206.2H554.0ZM554.0 206.2H558.3V210.5H554.0ZM554.0 210.5H558.3V214.8H554.0ZM549.6 219.2H554.0V223.5H549.6ZM545.3 223.5H549.6V227.9H545.3ZM510.6 227.9H523.6V232.2H510.6ZM527.9 227.9H532.3V232.2H527.9Z"/><path fill="#ff7a00" d="M484.6 45.8H488.9V50.1H484.6ZM493.3 45.8H497.6V50.1H493.3ZM493.3 50.1H497.6V54.5H493.3ZM488.9 54.5H493.3V58.8H488.9ZM480.3 58.8H484.6V63.1H480.3Z"/><path fill="#dbff16" d="M567.0 102.1H571.3V106.5H567.0ZM558.3 106.5H562.6V110.8H558.3ZM567.0 106.5H571.3V110.8H567.0ZM558.3 110.8H562.6V115.1H558.3ZM567.0 110.8H571.3V115.1H567.0ZM527.9 158.5H536.6V162.8H527.9ZM523.6 167.2H527.9V171.5H523.6ZM523.6 171.5H527.9V175.8H523.6ZM536.6 171.5H540.9V175.8H536.6ZM527.9 175.8H536.6V180.2H527.9ZM510.6 180.2H514.9V184.5H510.6ZM519.3 184.5H523.6V188.8H519.3ZM545.3 184.5H554.0V188.8H545.3ZM545.3 188.8H558.3V193.2H545.3ZM519.3 193.2H523.6V197.5H519.3ZM540.9 193.2H545.3V197.5H540.9ZM549.6 214.8H554.0V219.2H549.6ZM497.6 219.2H501.9V223.5H497.6ZM545.3 219.2H549.6V223.5H545.3ZM519.3 223.5H523.6V227.9H519.3ZM527.9 223.5H532.3V227.9H527.9ZM506.3 227.9H510.6V232.2H506.3ZM523.6 227.9H527.9V232.2H523.6ZM532.3 227.9H540.9V232.2H532.3Z"/><path fill="#c3ff24" d="M562.6 106.5H567.0V110.8H562.6ZM562.6 110.8H567.0V115.1H562.6ZM523.6 180.2H532.3V184.5H523.6ZM519.3 188.8H523.6V193.2H519.3ZM545.3 193.2H554.0V197.5H545.3ZM549.6 197.5H554.0V201.8H549.6ZM523.6 201.8H527.9V206.2H523.6ZM532.3 206.2H536.6V210.5H532.3ZM532.3 210.5H536.6V214.8H532.3ZM549.6 210.5H554.0V214.8H549.6ZM519.3 214.8H532.3V219.2H519.3ZM545.3 214.8H549.6V219.2H545.3ZM501.9 219.2H506.3V223.5H501.9ZM519.3 219.2H532.3V223.5H519.3ZM497.6 223.5H510.6V227.9H497.6ZM523.6 223.5H527.9V227.9H523.6ZM540.9 223.5H545.3V227.9H540.9Z"/><path fill="#a4ff4e" d="M527.9 162.8H532.3V167.2H527.9ZM536.6 162.8H540.9V167.2H536.6ZM545.3 197.5H549.6V201.8H545.3ZM536.6 201.8H545.3V206.2H536.6ZM540.9 206.2H545.3V210.5H540.9ZM549.6 206.2H554.0V210.5H549.6ZM540.9 210.5H545.3V214.8H540.9ZM532.3 214.8H545.3V219.2H532.3ZM506.3 219.2H510.6V223.5H506.3ZM532.3 219.2H545.3V223.5H532.3ZM514.9 223.5H519.3V227.9H514.9Z"/><path fill="#9aff67" d="M532.3 162.8H536.6V167.2H532.3ZM532.3 167.2H536.6V171.5H532.3ZM523.6 184.5H527.9V188.8H523.6ZM532.3 188.8H536.6V193.2H532.3ZM536.6 193.2H540.9V197.5H536.6ZM536.6 197.5H540.9V201.8H536.6ZM527.9 201.8H536.6V206.2H527.9ZM545.3 201.8H549.6V206.2H545.3ZM545.3 206.2H549.6V210.5H545.3ZM514.9 219.2H519.3V223.5H514.9ZM510.6 223.5H514.9V227.9H510.6Z"/><path fill="#aeff35" d="M536.6 167.2H540.9V171.5H536.6ZM527.9 171.5H536.6V175.8H527.9ZM532.3 184.5H536.6V188.8H532.3ZM536.6 188.8H540.9V193.2H536.6ZM523.6 197.5H527.9V201.8H523.6ZM540.9 197.5H545.3V201.8H540.9ZM549.6 201.8H554.0V206.2H549.6ZM536.6 206.2H540.9V210.5H536.6ZM536.6 210.5H540.9V214.8H536.6ZM545.3 210.5H549.6V214.8H545.3ZM532.3 223.5H540.9V227.9H532.3Z"/><path fill="#7aff8d" d="M506.3 180.2H510.6V184.5H506.3ZM523.6 188.8H527.9V193.2H523.6ZM523.6 210.5H527.9V214.8H523.6Z"/><path fill="#90ff80" d="M527.9 184.5H532.3V188.8H527.9ZM523.6 193.2H527.9V197.5H523.6ZM510.6 219.2H514.9V223.5H510.6Z"/><path fill="#44fca7" d="M527.9 188.8H532.3V193.2H527.9ZM527.9 193.2H532.3V197.5H527.9ZM527.9 197.5H536.6V201.8H527.9Z"/><path fill="#63ff9b" d="M532.3 193.2H536.6V197.5H532.3Z"/></g><rect x="345" y="83.8" width="1.2" height="1.2" fill="#5050ff"/>
<path d="M60.3 11.0L64.8 8.0L71.2 7.4L78.8 11.0L86.3 16.8L91.4 24.4L95.2 33.3L100.3 42.1L106.6 49.7L116.7 54.8L126.9 57.8L134.4 57.3L140.8 54.8L147.1 56.1L159.8 61.6L169.9 66.2L180.0 68.0L190.1 68.0L200.3 66.7L210.4 64.9L218.0 65.4L228.1 65.4L238.2 63.6L248.4 61.1L250.7 60.8L256.3 54.9L260.5 53.2L267.5 52.8L277.4 52.8L285.8 50.7L292.9 45.3L301.3 41.5L309.7 39.1L321.0 35.2L332.2 29.8L343.5 25.3L349.1 23.9L357.6 20.8L367.4 17.6L375.8 16.6L382.9 15.2L391.3 14.1L396.9 12.7L400.5 13.4L407.5 8.7L413.8 10.3L419.4 10.3L427.9 8.7L432.1 10.1L436.6 10.6L442.2 9.0L451.0 6.7L459.8 6.3L468.6 7.8L479.1 10.2L489.7 12.5L500.2 16.5L510.8 20.4L521.3 24.8L531.9 28.3L542.4 31.0L551.2 35.4L560.0 41.2L567.0 45.0L573.2 48.5L577.6 55.6L582.8 65.2L588.1 74.9L591.6 83.7L594.3 94.3L596.6 103.0L596.9 110.1L596.0 118.9L594.3 129.4L590.8 138.2L584.6 145.2L577.6 154.0L572.3 161.1L567.9 168.1L565.3 176.9L562.6 187.4L560.9 198.0L557.4 208.5L551.2 217.3L544.2 224.4L537.1 230.5L528.3 233.1L517.8 234.0L509.0 232.3L502.9 228.7L499.3 224.4L497.6 219.1L496.7 214.7L494.1 213.8L492.3 215.6L490.5 211.2L487.9 205.9L484.4 201.5L479.1 198.3L477.4 201.5L476.5 205.9L473.8 206.8L473.0 210.3L470.3 212.0L465.1 209.4L459.8 206.8L454.5 204.1L448.4 202.4L442.2 205.0L438.7 208.5L431.6 211.2L421.1 214.7L415.8 220.0L413.2 224.4L409.7 226.1L401.8 226.1L391.2 225.8L384.2 227.5L382.4 222.6L383.8 218.2L381.5 215.6L376.3 214.7L373.6 209.4L369.2 206.8L366.6 208.5L359.8 205.7L352.2 203.9L344.6 202.6L338.2 206.4L333.2 210.7L332.7 216.6L329.4 219.9L325.6 214.0L324.3 207.7L320.5 206.4L314.2 208.5L306.6 209.7L297.7 209.7L291.4 206.4L286.3 205.7L281.3 209.0L277.5 206.4L271.2 200.6L263.6 201.4L262.3 195.0L256.0 196.3L248.4 192.5L245.8 187.4L242.0 184.4L235.7 186.2L230.7 181.1L223.1 177.3L215.5 172.3L210.4 167.2L202.8 165.2L197.7 167.2L193.9 172.3L187.6 165.9L180.0 162.1L173.7 159.6L167.4 155.8L159.8 153.5L154.7 149.7L152.2 143.4L153.4 138.3L148.4 134.5L147.1 129.5L150.9 128.2L156.0 131.2L159.8 129.5L161.0 124.4L159.8 118.1L156.0 113.0L150.9 110.5L153.4 106.7L152.2 101.6L156.0 100.4L157.2 97.8L150.9 94.0L145.8 92.8L144.6 87.7L142.0 82.6L140.8 78.1L134.4 77.6L124.3 76.3L116.7 74.5L112.9 71.7L107.9 71.2L104.1 67.4L105.3 63.6L102.8 59.9L99.0 56.1L95.2 53.5L88.9 52.3L83.8 50.5L78.8 51.0L78.8 48.5L83.8 47.2L89.4 44.7L87.6 40.9L86.9 35.8L83.8 32.0L85.1 28.2L81.3 24.4L75.0 22.4L71.2 24.4L64.8 22.4L62.3 19.3L67.4 16.8L64.8 14.8L62.3 14.3Z" fill="none" stroke="#666" stroke-width="2.1" stroke-linejoin="round"/>
</g>
<rect x="93.4" y="64.2" width="608.1" height="260.0" fill="none" stroke="#000" stroke-width="2.5"/>
<line x1="93.4" y1="324.2" x2="93.4" y2="329.4" stroke="#000" stroke-width="3" stroke-linecap="round"/>
<text x="94.2" y="352.7" text-anchor="middle">70° E</text>
<line x1="267.0" y1="324.2" x2="267.0" y2="329.4" stroke="#000" stroke-width="3" stroke-linecap="round"/>
<text x="267.8" y="352.7" text-anchor="middle">80° E</text>
<line x1="440.6" y1="324.2" x2="440.6" y2="329.4" stroke="#000" stroke-width="3" stroke-linecap="round"/>
<text x="441.4" y="352.7" text-anchor="middle">90° E</text>
<line x1="614.2" y1="324.2" x2="614.2" y2="329.4" stroke="#000" stroke-width="3" stroke-linecap="round"/>
<text x="615.0" y="352.7" text-anchor="middle">100° E</text>
<line x1="88.4" y1="64.2" x2="93.4" y2="64.2" stroke="#000" stroke-width="3" stroke-linecap="round"/>
<text transform="translate(81.6 64.2) rotate(-90)" text-anchor="middle">40° N</text>
<line x1="88.4" y1="237.5" x2="93.4" y2="237.5" stroke="#000" stroke-width="3" stroke-linecap="round"/>
<text transform="translate(81.6 237.5) rotate(-90)" text-anchor="middle">30° N</text>
<text x="389.4" y="389.2" text-anchor="middle">Longitude</text>
<text transform="translate(47.4 182.2) rotate(-90)" text-anchor="middle">Latitude</text>
<text x="94.9" y="305.8">2014-03-30</text>
<text x="380.9" y="39.2" text-anchor="middle" font-weight="bold" font-size="20">(a)</text>
</g>
<g id="panel-b">
<g transform="translate(784.2 65.8)">
<g clip-path="url(#oc)"><rect x="0" y="0" width="608" height="260" fill="#ff9a10"/><g filter="url(#f-dorange)" fill="#ff7400"><path d="M60.7 5.6L90.6 12.0L112.0 54.8L150.4 63.3L137.6 69.7L103.4 63.3L82.0 48.4Z" fill-opacity="0.515"/><ellipse cx="193.2" cy="114.6" rx="23.5" ry="19.2" fill-opacity="0.436"/><ellipse cx="257.3" cy="108.2" rx="21.4" ry="10.7" fill-opacity="0.436"/><path d="M401.0 12.0L497.2 20.6L507.9 63.3L433.1 63.3L401.0 42.0Z" fill-opacity="0.436"/><path d="M304.8 31.3L390.3 31.3L390.3 52.6L304.8 52.6Z" fill-opacity="0.388"/><path d="M304.8 148.8L347.6 153.1L351.8 202.3L304.8 202.3Z" fill-opacity="0.414"/></g><g filter="url(#f-lorange)" fill="#ffb400"><path d="M246.6 114.6L304.8 114.6L304.8 161.7L268.0 165.9L246.6 148.8Z" fill-opacity="0.475"/><path d="M225.3 168.1L304.8 170.2L304.8 204.4L278.7 198.0L246.6 183.0Z" fill-opacity="0.475"/><path d="M454.4 63.3L539.9 42.0L604.1 63.3L604.1 148.8L561.3 170.2L497.2 170.2L454.4 127.5Z" fill-opacity="0.621"/><path d="M304.8 84.7L454.4 74.0L454.4 213.0L304.8 213.0Z" fill-opacity="0.515"/></g><g filter="url(#f-yellow)" fill="#fff200"><path d="M246.6 118.9L304.8 118.9L304.8 157.4L268.0 161.7L246.6 148.8Z" fill-opacity="0.388"/><ellipse cx="295.8" cy="141.4" rx="17.1" ry="3.0" fill-opacity="0.565"/><ellipse cx="209.2" cy="92.2" rx="6.4" ry="3.8" fill-opacity="0.388"/><path d="M465.1 69.7L539.9 52.6L604.1 84.7L604.1 148.8L561.3 170.2L497.2 165.9L465.1 127.5Z" fill-opacity="0.356"/><ellipse cx="567.7" cy="106.1" rx="19.2" ry="12.8" fill-opacity="0.493"/><ellipse cx="324.0" cy="136.0" rx="21.4" ry="12.8" fill-opacity="0.475"/><path d="M368.9 84.7L454.4 84.7L454.4 118.9L368.9 118.9Z" fill-opacity="0.337"/><path d="M386.0 185.2L411.7 180.9L441.6 183.0L467.3 191.6L475.8 204.4L454.4 200.1L433.1 204.4L416.0 213.0L390.3 221.5L381.8 213.0Z" fill-opacity="0.515"/><path d="M488.6 148.8L518.6 136.0L550.6 136.0L582.7 148.8L582.7 191.6L561.3 234.3L518.6 245.0L497.2 234.3L488.6 204.4L484.4 178.8Z" fill-opacity="0.658"/></g><g filter="url(#f-lgreen)" fill="#a8ff58"><ellipse cx="572.0" cy="103.9" rx="8.6" ry="8.6" fill-opacity="0.436"/><path d="M394.6 191.6L424.5 187.3L454.4 191.6L467.3 200.1L441.6 202.3L420.2 213.0L390.3 221.5L383.9 215.1Z" fill-opacity="0.565"/><path d="M492.9 157.4L518.6 144.6L548.5 144.6L563.5 153.1L557.0 191.6L546.4 219.4L518.6 230.1L503.6 223.7L497.2 204.4L492.9 178.8Z" fill-opacity="0.414"/></g><g filter="url(#f-green)" fill="#4cffa8"><ellipse cx="334.7" cy="146.3" rx="6.4" ry="1.3" fill-opacity="0.515"/></g><g filter="url(#f-cyan)" fill="#00e4f4"><ellipse cx="575.2" cy="96.5" rx="8.6" ry="3.0" fill-opacity="0.436" transform="rotate(10 575.2 96.5)"/><ellipse cx="424.5" cy="205.5" rx="27.8" ry="5.6" fill-opacity="0.493" transform="rotate(-20 424.5 205.5)"/><ellipse cx="527.1" cy="191.6" rx="27.8" ry="34.2" fill-opacity="0.356"/><ellipse cx="556.0" cy="200.1" rx="3.0" ry="6.4" fill-opacity="0.515"/><ellipse cx="552.8" cy="146.7" rx="8.6" ry="8.6" fill-opacity="0.414"/><ellipse cx="521.8" cy="52.6" rx="9.6" ry="6.4" fill-opacity="0.475"/></g><g filter="url(#f-sky)" fill="#0090ff"><ellipse cx="531.4" cy="195.9" rx="19.2" ry="23.5" fill-opacity="0.25"/></g><g filter="url(#f-blue)" fill="#0028f0"><ellipse cx="430.9" cy="202.3" rx="12.8" ry="3.0" fill-opacity="0.457" transform="rotate(-25 430.9 202.3)"/><ellipse cx="396.7" cy="221.5" rx="8.6" ry="1.7" fill-opacity="0.436"/><ellipse cx="529.3" cy="198.0" rx="23.5" ry="27.8" fill-opacity="0.325"/><ellipse cx="536.7" cy="191.6" rx="9.0" ry="15.0" fill-opacity="0.457"/><ellipse cx="547.4" cy="148.8" rx="4.3" ry="5.3" fill-opacity="0.356"/><ellipse cx="520.7" cy="56.9" rx="5.3" ry="1.7" fill-opacity="0.515"/></g><g filter="url(#f-white)" fill="#ffffff"><path d="M60.7 5.6L90.6 12.0L103.4 52.6L90.6 54.8L64.9 24.9Z" fill-opacity="0.067"/><path d="M101.3 50.5L120.5 56.9L137.6 54.8L150.4 56.9L167.5 65.5L178.2 67.6L171.8 80.4L159.0 93.3L150.4 89.0L141.9 78.3L120.5 74.0L103.4 63.3Z" fill-opacity="0.315"/><path d="M178.2 67.6L206.0 64.4L235.9 63.3L257.3 54.8L278.7 50.5L304.8 39.8L304.8 63.3L278.7 69.7L246.6 69.7L214.6 84.7L193.2 89.0L180.4 84.7Z" fill-opacity="0.315"/><path d="M193.2 89.0L214.6 84.7L246.6 69.7L304.8 63.3L304.8 110.4L257.3 99.7L214.6 106.1Z" fill-opacity="0.156"/><ellipse cx="178.2" cy="122.8" rx="15.0" ry="1.9" fill-opacity="0.421"/><path d="M150.4 99.7L159.0 101.8L163.3 118.9L159.0 129.6L150.4 127.5Z" fill-opacity="0.275"/><path d="M165.4 127.5L180.4 129.6L197.5 140.3L214.6 153.1L227.4 157.4L235.9 165.9L227.4 172.4L214.6 163.8L201.7 155.2L184.6 146.7L171.8 138.1Z" fill-opacity="0.458"/><path d="M150.4 129.6L159.0 138.1L163.3 148.8L180.4 157.4L197.5 165.9L210.3 168.1L223.1 170.2L235.9 183.0L257.3 193.7L278.7 202.3L304.8 207.6L304.8 215.1L274.4 210.8L253.0 198.0L231.7 187.3L210.3 176.6L193.2 172.4L171.8 161.7L154.7 151.0Z" fill-opacity="0.458"/><path d="M223.1 168.1L235.9 163.8L253.0 176.6L270.1 187.3L265.9 195.9L248.8 189.5L231.7 180.9Z" fill-opacity="0.293"/><ellipse cx="274.4" cy="153.1" rx="8.6" ry="3.0" fill-opacity="0.315"/><ellipse cx="238.1" cy="142.4" rx="6.4" ry="6.4" fill-opacity="0.236"/><path d="M304.8 42.0L326.2 37.7L347.6 33.4L368.9 37.7L381.8 50.5L377.5 69.7L364.7 84.7L347.6 93.3L330.5 101.8L317.6 106.1L304.8 101.8Z" fill-opacity="0.436"/><path d="M375.3 20.6L403.1 14.2L405.3 24.9L398.9 39.8L386.0 35.5Z" fill-opacity="0.458"/><path d="M304.8 20.6L375.3 20.6L386.0 35.5L368.9 37.7L347.6 33.4L304.8 42.0Z" fill-opacity="0.257"/><path d="M433.1 14.2L441.6 12.0L458.7 35.5L450.2 39.8Z" fill-opacity="0.365"/><path d="M452.3 18.4L467.3 16.3L484.4 33.4L475.8 39.8L463.0 31.3Z" fill-opacity="0.315"/><ellipse cx="497.2" cy="31.3" rx="15.0" ry="8.1" fill-opacity="0.39"/><ellipse cx="521.8" cy="51.6" rx="7.1" ry="4.3" fill-opacity="0.8"/><ellipse cx="535.7" cy="43.0" rx="4.3" ry="5.3" fill-opacity="0.275"/><ellipse cx="504.7" cy="91.1" rx="5.1" ry="9.6" fill-opacity="0.458" transform="rotate(-15 504.7 91.1)"/><ellipse cx="503.6" cy="113.6" rx="5.8" ry="8.1" fill-opacity="0.421"/><ellipse cx="364.7" cy="112.5" rx="4.3" ry="4.7" fill-opacity="0.5"/><ellipse cx="435.2" cy="110.4" rx="10.7" ry="5.1" fill-opacity="0.39" transform="rotate(35 435.2 110.4)"/><path d="M416.0 131.7L424.5 125.3L441.6 131.7L452.3 144.6L445.9 148.8L433.1 144.6L420.2 140.3Z" fill-opacity="0.421"/><ellipse cx="475.8" cy="125.3" rx="12.8" ry="6.0" fill-opacity="0.236" transform="rotate(35 475.8 125.3)"/><path d="M349.7 168.1L368.9 157.4L394.6 153.1L416.0 153.1L441.6 161.7L463.0 170.2L473.7 183.0L471.5 195.9L454.4 191.6L437.3 183.0L420.2 180.9L403.1 185.2L390.3 183.0L386.0 170.2L368.9 168.1L356.1 172.4Z" fill-opacity="0.375"/><ellipse cx="420.2" cy="168.1" rx="23.5" ry="8.1" fill-opacity="0.458" transform="rotate(10 420.2 168.1)"/><ellipse cx="328.3" cy="139.2" rx="4.7" ry="3.6" fill-opacity="0.5"/><path d="M304.8 101.8L317.6 106.1L330.5 101.8L326.2 118.9L304.8 114.6Z" fill-opacity="0.188"/><ellipse cx="558.1" cy="144.6" rx="11.8" ry="4.7" fill-opacity="0.188"/><ellipse cx="497.2" cy="159.5" rx="4.3" ry="6.4" fill-opacity="0.275"/><ellipse cx="490.8" cy="204.4" rx="6.0" ry="7.5" fill-opacity="0.275"/><path d="M390.3 52.6L497.2 63.3L492.9 84.7L454.4 89.0L394.6 80.4Z" fill-opacity="0.188"/></g></g>
<path d="M60.3 11.0L64.8 8.0L71.2 7.4L78.8 11.0L86.3 16.8L91.4 24.4L95.2 33.3L100.3 42.1L106.6 49.7L116.7 54.8L126.9 57.8L134.4 57.3L140.8 54.8L147.1 56.1L159.8 61.6L169.9 66.2L180.0 68.0L190.1 68.0L200.3 66.7L210.4 64.9L218.0 65.4L228.1 65.4L238.2 63.6L248.4 61.1L250.7 60.8L256.3 54.9L260.5 53.2L267.5 52.8L277.4 52.8L285.8 50.7L292.9 45.3L301.3 41.5L309.7 39.1L321.0 35.2L332.2 29.8L343.5 25.3L349.1 23.9L357.6 20.8L367.4 17.6L375.8 16.6L382.9 15.2L391.3 14.1L396.9 12.7L400.5 13.4L407.5 8.7L413.8 10.3L419.4 10.3L427.9 8.7L432.1 10.1L436.6 10.6L442.2 9.0L451.0 6.7L459.8 6.3L468.6 7.8L479.1 10.2L489.7 12.5L500.2 16.5L510.8 20.4L521.3 24.8L531.9 28.3L542.4 31.0L551.2 35.4L560.0 41.2L567.0 45.0L573.2 48.5L577.6 55.6L582.8 65.2L588.1 74.9L591.6 83.7L594.3 94.3L596.6 103.0L596.9 110.1L596.0 118.9L594.3 129.4L590.8 138.2L584.6 145.2L577.6 154.0L572.3 161.1L567.9 168.1L565.3 176.9L562.6 187.4L560.9 198.0L557.4 208.5L551.2 217.3L544.2 224.4L537.1 230.5L528.3 233.1L517.8 234.0L509.0 232.3L502.9 228.7L499.3 224.4L497.6 219.1L496.7 214.7L494.1 213.8L492.3 215.6L490.5 211.2L487.9 205.9L484.4 201.5L479.1 198.3L477.4 201.5L476.5 205.9L473.8 206.8L473.0 210.3L470.3 212.0L465.1 209.4L459.8 206.8L454.5 204.1L448.4 202.4L442.2 205.0L438.7 208.5L431.6 211.2L421.1 214.7L415.8 220.0L413.2 224.4L409.7 226.1L401.8 226.1L391.2 225.8L384.2 227.5L382.4 222.6L383.8 218.2L381.5 215.6L376.3 214.7L373.6 209.4L369.2 206.8L366.6 208.5L359.8 205.7L352.2 203.9L344.6 202.6L338.2 206.4L333.2 210.7L332.7 216.6L329.4 219.9L325.6 214.0L324.3 207.7L320.5 206.4L314.2 208.5L306.6 209.7L297.7 209.7L291.4 206.4L286.3 205.7L281.3 209.0L277.5 206.4L271.2 200.6L263.6 201.4L262.3 195.0L256.0 196.3L248.4 192.5L245.8 187.4L242.0 184.4L235.7 186.2L230.7 181.1L223.1 177.3L215.5 172.3L210.4 167.2L202.8 165.2L197.7 167.2L193.9 172.3L187.6 165.9L180.0 162.1L173.7 159.6L167.4 155.8L159.8 153.5L154.7 149.7L152.2 143.4L153.4 138.3L148.4 134.5L147.1 129.5L150.9 128.2L156.0 131.2L159.8 129.5L161.0 124.4L159.8 118.1L156.0 113.0L150.9 110.5L153.4 106.7L152.2 101.6L156.0 100.4L157.2 97.8L150.9 94.0L145.8 92.8L144.6 87.7L142.0 82.6L140.8 78.1L134.4 77.6L124.3 76.3L116.7 74.5L112.9 71.7L107.9 71.2L104.1 67.4L105.3 63.6L102.8 59.9L99.0 56.1L95.2 53.5L88.9 52.3L83.8 50.5L78.8 51.0L78.8 48.5L83.8 47.2L89.4 44.7L87.6 40.9L86.9 35.8L83.8 32.0L85.1 28.2L81.3 24.4L75.0 22.4L71.2 24.4L64.8 22.4L62.3 19.3L67.4 16.8L64.8 14.8L62.3 14.3Z" fill="none" stroke="#666" stroke-width="2.1" stroke-linejoin="round"/>
</g>
<rect x="784.2" y="65.8" width="607.9" height="259.7" fill="none" stroke="#000" stroke-width="2.5"/>
<line x1="784.2" y1="325.5" x2="784.2" y2="330.7" stroke="#000" stroke-width="3" stroke-linecap="round"/>
<text x="785.0" y="354.0" text-anchor="middle">70° E</text>
<line x1="957.8" y1="325.5" x2="957.8" y2="330.7" stroke="#000" stroke-width="3" stroke-linecap="round"/>
<text x="958.6" y="354.0" text-anchor="middle">80° E</text>
<line x1="1131.4" y1="325.5" x2="1131.4" y2="330.7" stroke="#000" stroke-width="3" stroke-linecap="round"/>
<text x="1132.2" y="354.0" text-anchor="middle">90° E</text>
<line x1="1305.0" y1="325.5" x2="1305.0" y2="330.7" stroke="#000" stroke-width="3" stroke-linecap="round"/>
<text x="1305.8" y="354.0" text-anchor="middle">100° E</text>
<line x1="779.2" y1="65.8" x2="784.2" y2="65.8" stroke="#000" stroke-width="3" stroke-linecap="round"/>
<text transform="translate(772.4 65.8) rotate(-90)" text-anchor="middle">40° N</text>
<line x1="779.2" y1="239.1" x2="784.2" y2="239.1" stroke="#000" stroke-width="3" stroke-linecap="round"/>
<text transform="translate(772.4 239.1) rotate(-90)" text-anchor="middle">30° N</text>
<text x="1080.2" y="390.5" text-anchor="middle">Longitude</text>
<text transform="translate(738.2 183.7) rotate(-90)" text-anchor="middle">Latitude</text>
<text x="785.7" y="307.1">2014-03-30</text>
<text x="1071.7" y="40.8" text-anchor="middle" font-weight="bold" font-size="20">(b)</text>
</g>
<g id="panel-c">
<g transform="translate(90.9 473.4)">
<g clip-path="url(#oc)" shape-rendering="crispEdges"><path fill="#ff8c00" d="M254.8 -1.9H267.8V2.4H254.8ZM341.5 -1.9H345.9V2.4H341.5ZM358.9 -1.9H363.2V2.4H358.9ZM293.8 2.4H298.2V6.8H293.8ZM324.2 2.4H328.5V6.8H324.2ZM345.9 2.4H350.2V6.8H345.9ZM81.4 6.8H85.8V11.1H81.4ZM254.8 6.8H259.2V11.1H254.8ZM263.5 6.8H267.8V11.1H263.5ZM280.8 6.8H285.2V11.1H280.8ZM289.5 6.8H302.5V11.1H289.5ZM306.9 6.8H311.2V11.1H306.9ZM319.9 6.8H324.2V11.1H319.9ZM345.9 6.8H354.5V11.1H345.9ZM85.8 11.1H90.1V15.4H85.8ZM259.2 11.1H272.2V15.4H259.2ZM285.2 11.1H289.5V15.4H285.2ZM319.9 11.1H324.2V15.4H319.9ZM341.5 11.1H345.9V15.4H341.5ZM350.2 11.1H354.5V15.4H350.2ZM259.2 15.4H263.5V19.8H259.2ZM267.8 15.4H272.2V19.8H267.8ZM328.5 15.4H332.9V19.8H328.5ZM337.2 15.4H345.9V19.8H337.2ZM350.2 15.4H354.5V19.8H350.2ZM77.1 19.8H81.4V24.1H77.1ZM254.8 19.8H259.2V24.1H254.8ZM289.5 19.8H293.8V24.1H289.5ZM328.5 19.8H332.9V24.1H328.5ZM337.2 19.8H341.5V24.1H337.2ZM350.2 19.8H354.5V24.1H350.2ZM85.8 24.1H90.1V28.4H85.8ZM254.8 24.1H263.5V28.4H254.8ZM328.5 24.1H332.9V28.4H328.5ZM354.5 24.1H358.9V28.4H354.5ZM59.8 28.4H64.1V32.8H59.8ZM68.4 28.4H81.4V32.8H68.4ZM90.1 28.4H98.8V32.8H90.1ZM337.2 28.4H341.5V32.8H337.2ZM358.9 28.4H363.2V32.8H358.9ZM68.4 32.8H72.8V37.1H68.4ZM94.4 32.8H103.1V37.1H94.4ZM354.5 32.8H358.9V37.1H354.5ZM68.4 37.1H72.8V41.5H68.4ZM77.1 37.1H81.4V41.5H77.1ZM90.1 37.1H94.4V41.5H90.1ZM103.1 37.1H107.4V41.5H103.1ZM285.2 37.1H289.5V41.5H285.2ZM345.9 37.1H350.2V41.5H345.9ZM354.5 37.1H363.2V41.5H354.5ZM68.4 41.5H72.8V45.8H68.4ZM77.1 41.5H85.8V45.8H77.1ZM94.4 41.5H98.8V45.8H94.4ZM345.9 41.5H354.5V45.8H345.9ZM81.4 45.8H94.4V50.1H81.4ZM103.1 45.8H107.4V50.1H103.1ZM285.2 45.8H289.5V50.1H285.2ZM337.2 45.8H350.2V50.1H337.2ZM107.4 50.1H111.8V54.5H107.4ZM328.5 50.1H337.2V54.5H328.5ZM341.5 54.5H350.2V58.8H341.5ZM107.4 58.8H111.8V63.1H107.4ZM311.2 58.8H315.5V63.1H311.2ZM328.5 58.8H332.9V63.1H328.5ZM345.9 58.8H354.5V63.1H345.9ZM311.2 63.1H315.5V67.5H311.2ZM328.5 63.1H332.9V67.5H328.5ZM341.5 63.1H345.9V67.5H341.5ZM328.5 67.5H337.2V71.8H328.5ZM324.2 71.8H341.5V76.1H324.2ZM311.2 76.1H324.2V80.5H311.2ZM341.5 76.1H345.9V80.5H341.5ZM142.1 80.5H146.5V84.8H142.1ZM324.2 80.5H328.5V84.8H324.2ZM337.2 80.5H341.5V84.8H337.2ZM142.1 84.8H146.5V89.1H142.1ZM324.2 93.5H328.5V97.8H324.2ZM155.1 102.1H159.5V106.5H155.1ZM172.5 102.1H176.8V106.5H172.5ZM155.1 106.5H159.5V110.8H155.1ZM371.9 106.5H380.6V110.8H371.9ZM155.1 110.8H159.5V115.1H155.1ZM168.1 110.8H176.8V115.1H168.1ZM198.5 110.8H202.8V115.1H198.5ZM376.2 110.8H380.6V115.1H376.2ZM168.1 115.1H176.8V119.5H168.1ZM328.5 115.1H332.9V119.5H328.5ZM337.2 115.1H341.5V119.5H337.2ZM354.5 115.1H367.5V119.5H354.5ZM376.2 115.1H380.6V119.5H376.2ZM163.8 119.5H176.8V123.8H163.8ZM198.5 119.5H202.8V123.8H198.5ZM337.2 119.5H358.9V123.8H337.2ZM363.2 119.5H367.5V123.8H363.2ZM163.8 123.8H176.8V128.2H163.8ZM332.9 123.8H341.5V128.2H332.9ZM350.2 123.8H354.5V128.2H350.2ZM358.9 123.8H363.2V128.2H358.9ZM163.8 128.2H176.8V132.5H163.8ZM181.1 128.2H185.5V132.5H181.1ZM246.2 128.2H250.5V132.5H246.2ZM259.2 128.2H263.5V132.5H259.2ZM267.8 128.2H276.5V132.5H267.8ZM280.8 128.2H285.2V132.5H280.8ZM328.5 128.2H332.9V132.5H328.5ZM350.2 128.2H354.5V132.5H350.2ZM176.8 132.5H189.8V136.8H176.8ZM267.8 132.5H272.2V136.8H267.8ZM276.5 132.5H289.5V136.8H276.5ZM311.2 132.5H315.5V136.8H311.2ZM350.2 132.5H354.5V136.8H350.2ZM185.5 154.2H189.8V158.5H185.5ZM202.8 154.2H207.1V158.5H202.8ZM215.8 154.2H220.2V158.5H215.8ZM172.5 158.5H185.5V162.8H172.5ZM189.8 158.5H194.1V162.8H189.8ZM211.5 158.5H215.8V162.8H211.5ZM181.1 162.8H194.1V167.2H181.1ZM237.5 162.8H246.2V167.2H237.5ZM189.8 167.2H194.1V171.5H189.8ZM211.5 167.2H215.8V171.5H211.5ZM241.8 167.2H246.2V171.5H241.8ZM237.5 171.5H241.8V175.8H237.5ZM228.8 175.8H237.5V180.2H228.8ZM241.8 175.8H246.2V180.2H241.8ZM337.2 197.5H341.5V201.8H337.2ZM302.5 201.8H306.9V206.2H302.5ZM380.6 201.8H384.9V206.2H380.6ZM302.5 206.2H306.9V210.5H302.5ZM376.2 210.5H380.6V214.8H376.2Z"/><path fill="#ff7a00" d="M267.8 -1.9H341.5V2.4H267.8ZM345.9 -1.9H358.9V2.4H345.9ZM59.8 2.4H85.8V6.8H59.8ZM254.8 2.4H293.8V6.8H254.8ZM298.2 2.4H324.2V6.8H298.2ZM328.5 2.4H345.9V6.8H328.5ZM350.2 2.4H363.2V6.8H350.2ZM59.8 6.8H81.4V11.1H59.8ZM85.8 6.8H90.1V11.1H85.8ZM259.2 6.8H263.5V11.1H259.2ZM267.8 6.8H280.8V11.1H267.8ZM285.2 6.8H289.5V11.1H285.2ZM302.5 6.8H306.9V11.1H302.5ZM311.2 6.8H319.9V11.1H311.2ZM324.2 6.8H345.9V11.1H324.2ZM354.5 6.8H363.2V11.1H354.5ZM59.8 11.1H64.1V15.4H59.8ZM68.4 11.1H85.8V15.4H68.4ZM90.1 11.1H94.4V15.4H90.1ZM254.8 11.1H259.2V15.4H254.8ZM272.2 11.1H285.2V15.4H272.2ZM289.5 11.1H319.9V15.4H289.5ZM324.2 11.1H341.5V15.4H324.2ZM345.9 11.1H350.2V15.4H345.9ZM354.5 11.1H363.2V15.4H354.5ZM59.8 15.4H64.1V19.8H59.8ZM68.4 15.4H81.4V19.8H68.4ZM85.8 15.4H90.1V19.8H85.8ZM254.8 15.4H259.2V19.8H254.8ZM263.5 15.4H267.8V19.8H263.5ZM272.2 15.4H328.5V19.8H272.2ZM332.9 15.4H337.2V19.8H332.9ZM345.9 15.4H350.2V19.8H345.9ZM354.5 15.4H363.2V19.8H354.5ZM59.8 19.8H77.1V24.1H59.8ZM85.8 19.8H98.8V24.1H85.8ZM259.2 19.8H289.5V24.1H259.2ZM293.8 19.8H298.2V24.1H293.8ZM302.5 19.8H306.9V24.1H302.5ZM311.2 19.8H328.5V24.1H311.2ZM332.9 19.8H337.2V24.1H332.9ZM341.5 19.8H350.2V24.1H341.5ZM354.5 19.8H363.2V24.1H354.5ZM64.1 24.1H85.8V28.4H64.1ZM90.1 24.1H98.8V28.4H90.1ZM263.5 24.1H315.5V28.4H263.5ZM332.9 24.1H354.5V28.4H332.9ZM358.9 24.1H363.2V28.4H358.9ZM64.1 28.4H68.4V32.8H64.1ZM81.4 28.4H90.1V32.8H81.4ZM98.8 28.4H103.1V32.8H98.8ZM254.8 28.4H306.9V32.8H254.8ZM315.5 28.4H324.2V32.8H315.5ZM328.5 28.4H337.2V32.8H328.5ZM341.5 28.4H354.5V32.8H341.5ZM64.1 32.8H68.4V37.1H64.1ZM72.8 32.8H94.4V37.1H72.8ZM254.8 32.8H276.5V37.1H254.8ZM280.8 32.8H293.8V37.1H280.8ZM302.5 32.8H306.9V37.1H302.5ZM311.2 32.8H315.5V37.1H311.2ZM319.9 32.8H332.9V37.1H319.9ZM341.5 32.8H354.5V37.1H341.5ZM358.9 32.8H363.2V37.1H358.9ZM72.8 37.1H77.1V41.5H72.8ZM81.4 37.1H90.1V41.5H81.4ZM94.4 37.1H103.1V41.5H94.4ZM254.8 37.1H259.2V41.5H254.8ZM263.5 37.1H267.8V41.5H263.5ZM276.5 37.1H285.2V41.5H276.5ZM289.5 37.1H298.2V41.5H289.5ZM302.5 37.1H319.9V41.5H302.5ZM324.2 37.1H328.5V41.5H324.2ZM350.2 37.1H354.5V41.5H350.2ZM72.8 41.5H77.1V45.8H72.8ZM85.8 41.5H94.4V45.8H85.8ZM98.8 41.5H107.4V45.8H98.8ZM254.8 41.5H259.2V45.8H254.8ZM263.5 41.5H285.2V45.8H263.5ZM289.5 41.5H306.9V45.8H289.5ZM324.2 41.5H332.9V45.8H324.2ZM72.8 45.8H81.4V50.1H72.8ZM94.4 45.8H103.1V50.1H94.4ZM107.4 45.8H111.8V50.1H107.4ZM254.8 45.8H263.5V50.1H254.8ZM267.8 45.8H276.5V50.1H267.8ZM280.8 45.8H285.2V50.1H280.8ZM289.5 45.8H293.8V50.1H289.5ZM298.2 45.8H306.9V50.1H298.2ZM324.2 45.8H337.2V50.1H324.2ZM98.8 50.1H107.4V54.5H98.8ZM267.8 50.1H272.2V54.5H267.8ZM280.8 50.1H311.2V54.5H280.8ZM324.2 50.1H328.5V54.5H324.2ZM337.2 50.1H341.5V54.5H337.2ZM103.1 54.5H107.4V58.8H103.1ZM267.8 54.5H293.8V58.8H267.8ZM302.5 54.5H332.9V58.8H302.5ZM111.8 58.8H116.1V63.1H111.8ZM142.1 58.8H146.5V63.1H142.1ZM267.8 58.8H272.2V63.1H267.8ZM276.5 58.8H293.8V63.1H276.5ZM302.5 58.8H311.2V63.1H302.5ZM315.5 58.8H328.5V63.1H315.5ZM341.5 58.8H345.9V63.1H341.5ZM224.5 63.1H228.8V67.5H224.5ZM276.5 63.1H298.2V67.5H276.5ZM306.9 63.1H311.2V67.5H306.9ZM228.8 67.5H233.2V71.8H228.8ZM293.8 67.5H298.2V71.8H293.8ZM306.9 67.5H311.2V71.8H306.9ZM150.8 71.8H155.1V76.1H150.8ZM159.5 71.8H163.8V76.1H159.5ZM224.5 71.8H228.8V76.1H224.5ZM293.8 71.8H298.2V76.1H293.8ZM302.5 71.8H311.2V76.1H302.5ZM302.5 76.1H306.9V80.5H302.5ZM293.8 80.5H298.2V84.8H293.8ZM306.9 80.5H324.2V84.8H306.9ZM341.5 80.5H345.9V84.8H341.5ZM215.8 84.8H220.2V89.1H215.8ZM285.2 84.8H289.5V89.1H285.2ZM298.2 84.8H302.5V89.1H298.2ZM311.2 84.8H315.5V89.1H311.2ZM142.1 89.1H146.5V93.5H142.1ZM181.1 89.1H185.5V93.5H181.1ZM302.5 89.1H324.2V93.5H302.5ZM155.1 93.5H159.5V97.8H155.1ZM172.5 93.5H181.1V97.8H172.5ZM289.5 93.5H293.8V97.8H289.5ZM328.5 93.5H337.2V97.8H328.5ZM155.1 97.8H159.5V102.1H155.1ZM172.5 97.8H181.1V102.1H172.5ZM202.8 97.8H211.5V102.1H202.8ZM337.2 97.8H341.5V102.1H337.2ZM176.8 102.1H181.1V106.5H176.8ZM202.8 102.1H215.8V106.5H202.8ZM306.9 102.1H311.2V106.5H306.9ZM328.5 102.1H341.5V106.5H328.5ZM172.5 106.5H181.1V110.8H172.5ZM189.8 106.5H194.1V110.8H189.8ZM202.8 106.5H207.1V110.8H202.8ZM306.9 106.5H311.2V110.8H306.9ZM315.5 106.5H324.2V110.8H315.5ZM328.5 106.5H332.9V110.8H328.5ZM337.2 106.5H345.9V110.8H337.2ZM176.8 110.8H189.8V115.1H176.8ZM194.1 110.8H198.5V115.1H194.1ZM202.8 110.8H215.8V115.1H202.8ZM220.2 110.8H224.5V115.1H220.2ZM302.5 110.8H328.5V115.1H302.5ZM332.9 110.8H337.2V115.1H332.9ZM341.5 110.8H345.9V115.1H341.5ZM176.8 115.1H185.5V119.5H176.8ZM189.8 115.1H202.8V119.5H189.8ZM211.5 115.1H215.8V119.5H211.5ZM224.5 115.1H228.8V119.5H224.5ZM259.2 115.1H263.5V119.5H259.2ZM276.5 115.1H280.8V119.5H276.5ZM289.5 115.1H298.2V119.5H289.5ZM302.5 115.1H306.9V119.5H302.5ZM332.9 115.1H337.2V119.5H332.9ZM341.5 115.1H354.5V119.5H341.5ZM159.5 119.5H163.8V123.8H159.5ZM176.8 119.5H185.5V123.8H176.8ZM194.1 119.5H198.5V123.8H194.1ZM202.8 119.5H207.1V123.8H202.8ZM211.5 119.5H233.2V123.8H211.5ZM250.5 119.5H254.8V123.8H250.5ZM263.5 119.5H272.2V123.8H263.5ZM276.5 119.5H280.8V123.8H276.5ZM298.2 119.5H302.5V123.8H298.2ZM311.2 119.5H315.5V123.8H311.2ZM319.9 119.5H337.2V123.8H319.9ZM358.9 119.5H363.2V123.8H358.9ZM176.8 123.8H194.1V128.2H176.8ZM198.5 123.8H215.8V128.2H198.5ZM220.2 123.8H228.8V128.2H220.2ZM237.5 123.8H254.8V128.2H237.5ZM263.5 123.8H276.5V128.2H263.5ZM280.8 123.8H298.2V128.2H280.8ZM302.5 123.8H306.9V128.2H302.5ZM311.2 123.8H332.9V128.2H311.2ZM354.5 123.8H358.9V128.2H354.5ZM176.8 128.2H181.1V132.5H176.8ZM185.5 128.2H220.2V132.5H185.5ZM224.5 128.2H228.8V132.5H224.5ZM241.8 128.2H246.2V132.5H241.8ZM276.5 128.2H280.8V132.5H276.5ZM285.2 128.2H298.2V132.5H285.2ZM302.5 128.2H306.9V132.5H302.5ZM315.5 128.2H328.5V132.5H315.5ZM189.8 132.5H202.8V136.8H189.8ZM289.5 132.5H306.9V136.8H289.5ZM289.5 136.8H298.2V141.2H289.5ZM155.1 145.5H159.5V149.8H155.1ZM207.1 154.2H211.5V158.5H207.1Z"/><path fill="#ff6700" d="M64.1 11.1H68.4V15.4H64.1ZM64.1 15.4H68.4V19.8H64.1ZM90.1 15.4H94.4V19.8H90.1ZM298.2 19.8H302.5V24.1H298.2ZM306.9 19.8H311.2V24.1H306.9ZM59.8 24.1H64.1V28.4H59.8ZM315.5 24.1H328.5V28.4H315.5ZM306.9 28.4H315.5V32.8H306.9ZM324.2 28.4H328.5V32.8H324.2ZM276.5 32.8H280.8V37.1H276.5ZM293.8 32.8H302.5V37.1H293.8ZM306.9 32.8H311.2V37.1H306.9ZM315.5 32.8H319.9V37.1H315.5ZM259.2 37.1H263.5V41.5H259.2ZM267.8 37.1H276.5V41.5H267.8ZM298.2 37.1H302.5V41.5H298.2ZM319.9 37.1H324.2V41.5H319.9ZM259.2 41.5H263.5V45.8H259.2ZM285.2 41.5H289.5V45.8H285.2ZM306.9 41.5H311.2V45.8H306.9ZM263.5 45.8H267.8V50.1H263.5ZM276.5 45.8H280.8V50.1H276.5ZM293.8 45.8H298.2V50.1H293.8ZM254.8 50.1H267.8V54.5H254.8ZM272.2 50.1H280.8V54.5H272.2ZM254.8 54.5H267.8V58.8H254.8ZM237.5 58.8H246.2V63.1H237.5ZM250.5 58.8H267.8V63.1H250.5ZM272.2 58.8H276.5V63.1H272.2ZM228.8 63.1H259.2V67.5H228.8ZM263.5 63.1H276.5V67.5H263.5ZM302.5 63.1H306.9V67.5H302.5ZM224.5 67.5H228.8V71.8H224.5ZM233.2 67.5H246.2V71.8H233.2ZM259.2 67.5H263.5V71.8H259.2ZM276.5 67.5H285.2V71.8H276.5ZM289.5 67.5H293.8V71.8H289.5ZM298.2 67.5H306.9V71.8H298.2ZM215.8 71.8H220.2V76.1H215.8ZM233.2 71.8H237.5V76.1H233.2ZM241.8 71.8H246.2V76.1H241.8ZM263.5 71.8H267.8V76.1H263.5ZM272.2 71.8H293.8V76.1H272.2ZM298.2 71.8H302.5V76.1H298.2ZM215.8 76.1H220.2V80.5H215.8ZM224.5 76.1H228.8V80.5H224.5ZM241.8 76.1H250.5V80.5H241.8ZM259.2 76.1H263.5V80.5H259.2ZM267.8 76.1H280.8V80.5H267.8ZM293.8 76.1H302.5V80.5H293.8ZM306.9 76.1H311.2V80.5H306.9ZM215.8 80.5H220.2V84.8H215.8ZM241.8 80.5H246.2V84.8H241.8ZM254.8 80.5H259.2V84.8H254.8ZM263.5 80.5H267.8V84.8H263.5ZM285.2 80.5H293.8V84.8H285.2ZM298.2 80.5H306.9V84.8H298.2ZM237.5 84.8H246.2V89.1H237.5ZM250.5 84.8H263.5V89.1H250.5ZM289.5 84.8H293.8V89.1H289.5ZM302.5 84.8H311.2V89.1H302.5ZM215.8 89.1H228.8V93.5H215.8ZM233.2 89.1H246.2V93.5H233.2ZM254.8 89.1H259.2V93.5H254.8ZM289.5 89.1H302.5V93.5H289.5ZM215.8 93.5H224.5V97.8H215.8ZM228.8 93.5H233.2V97.8H228.8ZM293.8 93.5H302.5V97.8H293.8ZM215.8 97.8H224.5V102.1H215.8ZM237.5 97.8H241.8V102.1H237.5ZM254.8 97.8H259.2V102.1H254.8ZM267.8 97.8H272.2V102.1H267.8ZM276.5 97.8H280.8V102.1H276.5ZM285.2 97.8H298.2V102.1H285.2ZM302.5 97.8H306.9V102.1H302.5ZM215.8 102.1H233.2V106.5H215.8ZM237.5 102.1H246.2V106.5H237.5ZM267.8 102.1H272.2V106.5H267.8ZM285.2 102.1H293.8V106.5H285.2ZM302.5 102.1H306.9V106.5H302.5ZM207.1 106.5H224.5V110.8H207.1ZM237.5 106.5H246.2V110.8H237.5ZM250.5 106.5H267.8V110.8H250.5ZM285.2 106.5H298.2V110.8H285.2ZM302.5 106.5H306.9V110.8H302.5ZM324.2 106.5H328.5V110.8H324.2ZM332.9 106.5H337.2V110.8H332.9ZM189.8 110.8H194.1V115.1H189.8ZM215.8 110.8H220.2V115.1H215.8ZM224.5 110.8H241.8V115.1H224.5ZM254.8 110.8H263.5V115.1H254.8ZM267.8 110.8H272.2V115.1H267.8ZM285.2 110.8H293.8V115.1H285.2ZM298.2 110.8H302.5V115.1H298.2ZM337.2 110.8H341.5V115.1H337.2ZM185.5 115.1H189.8V119.5H185.5ZM202.8 115.1H211.5V119.5H202.8ZM215.8 115.1H224.5V119.5H215.8ZM228.8 115.1H233.2V119.5H228.8ZM237.5 115.1H259.2V119.5H237.5ZM263.5 115.1H276.5V119.5H263.5ZM280.8 115.1H285.2V119.5H280.8ZM298.2 115.1H302.5V119.5H298.2ZM189.8 119.5H194.1V123.8H189.8ZM207.1 119.5H211.5V123.8H207.1ZM233.2 119.5H250.5V123.8H233.2ZM272.2 119.5H276.5V123.8H272.2ZM285.2 119.5H298.2V123.8H285.2ZM306.9 119.5H311.2V123.8H306.9ZM315.5 119.5H319.9V123.8H315.5ZM194.1 123.8H198.5V128.2H194.1ZM215.8 123.8H220.2V128.2H215.8ZM228.8 123.8H237.5V128.2H228.8ZM220.2 128.2H224.5V132.5H220.2ZM311.2 128.2H315.5V132.5H311.2ZM306.9 132.5H311.2V136.8H306.9Z"/><path fill="#dbff16" d="M501.9 19.8H506.3V24.1H501.9ZM567.0 58.8H571.3V63.1H567.0ZM584.3 123.8H588.6V128.2H584.3ZM367.5 128.2H371.9V132.5H367.5ZM575.6 141.2H584.3V145.5H575.6ZM332.9 154.2H337.2V158.5H332.9ZM332.9 162.8H337.2V167.2H332.9ZM384.9 210.5H389.2V214.8H384.9Z"/><path fill="#c3ff24" d="M506.3 19.8H510.6V24.1H506.3ZM514.9 24.1H519.3V28.4H514.9ZM575.6 67.5H580.0V71.8H575.6ZM584.3 119.5H593.0V123.8H584.3ZM588.6 123.8H593.0V128.2H588.6ZM588.6 128.2H593.0V132.5H588.6ZM332.9 132.5H337.2V136.8H332.9ZM584.3 132.5H593.0V136.8H584.3ZM324.2 158.5H332.9V162.8H324.2ZM367.5 193.2H371.9V197.5H367.5Z"/><path fill="#90ff80" d="M506.3 24.1H510.6V28.4H506.3ZM523.6 28.4H527.9V32.8H523.6ZM527.9 32.8H532.3V37.1H527.9ZM540.9 37.1H545.3V41.5H540.9ZM554.0 45.8H558.3V50.1H554.0ZM562.6 67.5H571.3V71.8H562.6ZM584.3 89.1H588.6V93.5H584.3ZM545.3 97.8H549.6V102.1H545.3ZM593.0 97.8H597.3V102.1H593.0ZM540.9 102.1H545.3V106.5H540.9ZM588.6 102.1H597.3V106.5H588.6ZM584.3 106.5H588.6V110.8H584.3ZM593.0 106.5H597.3V110.8H593.0ZM584.3 110.8H588.6V115.1H584.3ZM580.0 115.1H584.3V119.5H580.0ZM358.9 128.2H363.2V132.5H358.9ZM358.9 132.5H363.2V136.8H358.9ZM380.6 154.2H384.9V158.5H380.6ZM384.9 223.5H389.2V227.9H384.9Z"/><path fill="#a4ff4e" d="M510.6 24.1H514.9V28.4H510.6ZM510.6 28.4H514.9V32.8H510.6ZM545.3 32.8H549.6V37.1H545.3ZM558.3 41.5H562.6V45.8H558.3ZM540.9 97.8H545.3V102.1H540.9ZM584.3 115.1H588.6V119.5H584.3ZM354.5 128.2H358.9V132.5H354.5ZM363.2 128.2H367.5V132.5H363.2ZM371.9 128.2H376.2V132.5H371.9ZM354.5 132.5H358.9V136.8H354.5ZM354.5 136.8H358.9V141.2H354.5ZM558.3 149.8H562.6V154.2H558.3ZM384.9 154.2H389.2V158.5H384.9ZM332.9 158.5H337.2V162.8H332.9ZM384.9 158.5H389.2V162.8H384.9ZM389.2 188.8H393.6V193.2H389.2ZM389.2 210.5H397.9V214.8H389.2Z"/><path fill="#9aff67" d="M506.3 28.4H510.6V32.8H506.3ZM554.0 41.5H558.3V45.8H554.0ZM562.6 63.1H571.3V67.5H562.6ZM588.6 115.1H597.3V119.5H588.6ZM571.3 132.5H575.6V136.8H571.3ZM571.3 136.8H575.6V141.2H571.3Z"/><path fill="#00fce8" d="M519.3 28.4H523.6V32.8H519.3ZM558.3 67.5H562.6V71.8H558.3ZM545.3 71.8H554.0V76.1H545.3ZM580.0 76.1H584.3V80.5H580.0ZM536.6 84.8H540.9V89.1H536.6ZM588.6 84.8H593.0V89.1H588.6ZM540.9 89.1H545.3V93.5H540.9ZM571.3 97.8H575.6V102.1H571.3ZM575.6 110.8H580.0V115.1H575.6ZM571.3 119.5H575.6V123.8H571.3ZM549.6 128.2H554.0V132.5H549.6ZM558.3 128.2H562.6V132.5H558.3ZM575.6 128.2H580.0V132.5H575.6ZM384.9 214.8H389.2V219.2H384.9Z"/><path fill="#00f9ff" d="M510.6 32.8H514.9V37.1H510.6ZM545.3 54.5H549.6V58.8H545.3ZM549.6 67.5H554.0V71.8H549.6ZM540.9 76.1H549.6V80.5H540.9ZM558.3 80.5H562.6V84.8H558.3ZM545.3 110.8H549.6V115.1H545.3ZM575.6 115.1H580.0V119.5H575.6ZM562.6 123.8H567.0V128.2H562.6ZM376.2 171.5H380.6V175.8H376.2ZM397.9 223.5H402.2V227.9H397.9Z"/><path fill="#00a0ff" d="M514.9 32.8H519.3V37.1H514.9ZM540.9 54.5H545.3V58.8H540.9ZM558.3 84.8H562.6V89.1H558.3ZM554.0 89.1H558.3V93.5H554.0ZM558.3 97.8H562.6V102.1H558.3Z"/><path fill="#44fca7" d="M532.3 32.8H536.6V37.1H532.3ZM532.3 37.1H536.6V41.5H532.3ZM549.6 54.5H554.0V58.8H549.6ZM545.3 58.8H549.6V63.1H545.3ZM580.0 71.8H584.3V76.1H580.0ZM545.3 93.5H549.6V97.8H545.3ZM575.6 93.5H580.0V97.8H575.6ZM545.3 102.1H549.6V106.5H545.3ZM567.0 123.8H571.3V128.2H567.0ZM571.3 128.2H575.6V132.5H571.3ZM376.2 132.5H384.9V136.8H376.2ZM558.3 145.5H562.6V149.8H558.3ZM367.5 158.5H376.2V162.8H367.5ZM363.2 167.2H376.2V171.5H363.2ZM358.9 171.5H363.2V175.8H358.9ZM358.9 175.8H363.2V180.2H358.9Z"/><path fill="#63ff9b" d="M536.6 32.8H540.9V37.1H536.6ZM527.9 37.1H532.3V41.5H527.9ZM549.6 50.1H554.0V54.5H549.6ZM549.6 58.8H554.0V63.1H549.6ZM523.6 67.5H527.9V71.8H523.6ZM580.0 89.1H584.3V93.5H580.0ZM580.0 93.5H584.3V97.8H580.0ZM580.0 97.8H588.6V102.1H580.0ZM580.0 102.1H584.3V106.5H580.0ZM580.0 110.8H584.3V115.1H580.0ZM593.0 110.8H597.3V115.1H593.0ZM575.6 119.5H580.0V123.8H575.6ZM571.3 123.8H580.0V128.2H571.3ZM558.3 132.5H562.6V136.8H558.3ZM376.2 136.8H384.9V141.2H376.2ZM376.2 141.2H384.9V145.5H376.2ZM367.5 145.5H376.2V149.8H367.5ZM367.5 149.8H376.2V154.2H367.5ZM371.9 154.2H376.2V158.5H371.9ZM371.9 162.8H376.2V167.2H371.9ZM354.5 167.2H358.9V171.5H354.5Z"/><path fill="#7aff8d" d="M540.9 32.8H545.3V37.1H540.9ZM549.6 45.8H554.0V50.1H549.6ZM554.0 54.5H558.3V58.8H554.0ZM532.3 63.1H549.6V67.5H532.3ZM540.9 93.5H545.3V97.8H540.9ZM584.3 93.5H593.0V97.8H584.3ZM588.6 97.8H593.0V102.1H588.6ZM584.3 102.1H588.6V106.5H584.3ZM580.0 106.5H584.3V110.8H580.0ZM588.6 106.5H593.0V110.8H588.6ZM562.6 128.2H571.3V132.5H562.6ZM367.5 136.8H376.2V141.2H367.5ZM367.5 141.2H376.2V145.5H367.5ZM358.9 145.5H363.2V149.8H358.9ZM376.2 145.5H384.9V149.8H376.2ZM376.2 149.8H384.9V154.2H376.2ZM367.5 154.2H371.9V158.5H367.5ZM376.2 154.2H380.6V158.5H376.2ZM341.5 158.5H345.9V162.8H341.5ZM384.9 171.5H389.2V175.8H384.9ZM384.9 175.8H389.2V180.2H384.9Z"/><path fill="#1ef8b4" d="M536.6 37.1H540.9V41.5H536.6ZM540.9 58.8H545.3V63.1H540.9ZM536.6 89.1H540.9V93.5H536.6ZM588.6 110.8H593.0V115.1H588.6ZM358.9 162.8H371.9V167.2H358.9ZM358.9 167.2H363.2V171.5H358.9ZM363.2 171.5H376.2V175.8H363.2ZM363.2 175.8H376.2V180.2H363.2Z"/><path fill="#ffa100" d="M354.5 41.5H363.2V45.8H354.5ZM350.2 45.8H354.5V50.1H350.2ZM358.9 45.8H367.5V50.1H358.9ZM341.5 50.1H367.5V54.5H341.5ZM350.2 54.5H367.5V58.8H350.2ZM575.6 54.5H580.0V58.8H575.6ZM337.2 67.5H341.5V71.8H337.2ZM324.2 76.1H341.5V80.5H324.2ZM358.9 76.1H363.2V80.5H358.9ZM354.5 93.5H358.9V97.8H354.5ZM354.5 97.8H358.9V102.1H354.5ZM354.5 102.1H367.5V106.5H354.5ZM371.9 102.1H376.2V106.5H371.9ZM159.5 110.8H168.1V115.1H159.5ZM371.9 110.8H376.2V115.1H371.9ZM159.5 115.1H168.1V119.5H159.5ZM367.5 115.1H376.2V119.5H367.5ZM367.5 119.5H380.6V123.8H367.5ZM363.2 123.8H367.5V128.2H363.2ZM254.8 128.2H259.2V132.5H254.8ZM263.5 128.2H267.8V132.5H263.5ZM337.2 128.2H341.5V132.5H337.2ZM345.9 128.2H350.2V132.5H345.9ZM172.5 132.5H176.8V136.8H172.5ZM250.5 132.5H263.5V136.8H250.5ZM272.2 132.5H276.5V136.8H272.2ZM345.9 132.5H350.2V136.8H345.9ZM150.8 136.8H155.1V141.2H150.8ZM159.5 136.8H163.8V141.2H159.5ZM211.5 136.8H220.2V141.2H211.5ZM233.2 136.8H237.5V141.2H233.2ZM350.2 136.8H354.5V141.2H350.2ZM172.5 141.2H176.8V145.5H172.5ZM250.5 141.2H254.8V145.5H250.5ZM168.1 145.5H172.5V149.8H168.1ZM215.8 145.5H220.2V149.8H215.8ZM302.5 145.5H306.9V149.8H302.5ZM341.5 145.5H350.2V149.8H341.5ZM168.1 149.8H172.5V154.2H168.1ZM215.8 149.8H220.2V154.2H215.8ZM224.5 149.8H228.8V154.2H224.5ZM306.9 149.8H311.2V154.2H306.9ZM181.1 154.2H185.5V158.5H181.1ZM211.5 154.2H215.8V158.5H211.5ZM571.3 154.2H575.6V158.5H571.3ZM185.5 158.5H189.8V162.8H185.5ZM302.5 158.5H306.9V162.8H302.5ZM246.2 162.8H250.5V167.2H246.2ZM302.5 162.8H306.9V167.2H302.5ZM311.2 162.8H315.5V167.2H311.2ZM233.2 167.2H241.8V171.5H233.2ZM263.5 167.2H267.8V171.5H263.5ZM302.5 167.2H306.9V171.5H302.5ZM233.2 171.5H237.5V175.8H233.2ZM241.8 171.5H246.2V175.8H241.8ZM259.2 171.5H272.2V175.8H259.2ZM276.5 171.5H280.8V175.8H276.5ZM237.5 175.8H241.8V180.2H237.5ZM250.5 175.8H267.8V180.2H250.5ZM276.5 175.8H302.5V180.2H276.5ZM237.5 180.2H241.8V184.5H237.5ZM254.8 180.2H263.5V184.5H254.8ZM280.8 180.2H289.5V184.5H280.8ZM254.8 184.5H263.5V188.8H254.8ZM272.2 184.5H289.5V188.8H272.2ZM254.8 188.8H263.5V193.2H254.8ZM267.8 188.8H280.8V193.2H267.8ZM285.2 188.8H293.8V193.2H285.2ZM276.5 193.2H293.8V197.5H276.5ZM302.5 197.5H306.9V201.8H302.5ZM332.9 197.5H337.2V201.8H332.9ZM298.2 201.8H302.5V206.2H298.2ZM337.2 201.8H341.5V206.2H337.2ZM376.2 201.8H380.6V206.2H376.2ZM393.6 201.8H397.9V206.2H393.6ZM298.2 206.2H302.5V210.5H298.2ZM328.5 206.2H332.9V210.5H328.5ZM328.5 210.5H332.9V214.8H328.5Z"/><path fill="#0028ff" d="M527.9 41.5H532.3V45.8H527.9ZM562.6 84.8H567.0V89.1H562.6ZM558.3 106.5H567.0V110.8H558.3ZM554.0 110.8H558.3V115.1H554.0Z"/><path fill="#00d5ff" d="M532.3 41.5H540.9V45.8H532.3ZM545.3 80.5H549.6V84.8H545.3ZM384.9 219.2H389.2V223.5H384.9Z"/><path fill="#ffb600" d="M354.5 45.8H358.9V50.1H354.5ZM367.5 76.1H371.9V80.5H367.5ZM358.9 80.5H371.9V84.8H358.9ZM354.5 84.8H358.9V89.1H354.5ZM371.9 84.8H376.2V89.1H371.9ZM371.9 89.1H376.2V93.5H371.9ZM371.9 93.5H376.2V97.8H371.9ZM358.9 97.8H363.2V102.1H358.9ZM367.5 97.8H376.2V102.1H367.5ZM367.5 102.1H371.9V106.5H367.5ZM341.5 128.2H345.9V132.5H341.5ZM263.5 132.5H267.8V136.8H263.5ZM341.5 132.5H345.9V136.8H341.5ZM155.1 136.8H159.5V141.2H155.1ZM237.5 136.8H241.8V141.2H237.5ZM341.5 136.8H350.2V141.2H341.5ZM176.8 141.2H185.5V145.5H176.8ZM215.8 141.2H220.2V145.5H215.8ZM246.2 141.2H250.5V145.5H246.2ZM263.5 141.2H272.2V145.5H263.5ZM341.5 141.2H350.2V145.5H341.5ZM172.5 145.5H176.8V149.8H172.5ZM250.5 145.5H259.2V149.8H250.5ZM263.5 145.5H267.8V149.8H263.5ZM337.2 145.5H341.5V149.8H337.2ZM571.3 145.5H575.6V149.8H571.3ZM172.5 149.8H176.8V154.2H172.5ZM241.8 149.8H259.2V154.2H241.8ZM272.2 149.8H280.8V154.2H272.2ZM302.5 149.8H306.9V154.2H302.5ZM311.2 149.8H315.5V154.2H311.2ZM567.0 149.8H571.3V154.2H567.0ZM224.5 154.2H228.8V158.5H224.5ZM250.5 154.2H254.8V158.5H250.5ZM298.2 154.2H319.9V158.5H298.2ZM567.0 154.2H571.3V158.5H567.0ZM215.8 158.5H220.2V162.8H215.8ZM285.2 158.5H289.5V162.8H285.2ZM306.9 158.5H315.5V162.8H306.9ZM567.0 158.5H571.3V162.8H567.0ZM215.8 162.8H220.2V167.2H215.8ZM228.8 162.8H237.5V167.2H228.8ZM306.9 162.8H311.2V167.2H306.9ZM215.8 167.2H220.2V171.5H215.8ZM228.8 167.2H233.2V171.5H228.8ZM306.9 167.2H311.2V171.5H306.9ZM332.9 167.2H337.2V171.5H332.9ZM220.2 171.5H233.2V175.8H220.2ZM272.2 171.5H276.5V175.8H272.2ZM267.8 175.8H276.5V180.2H267.8ZM298.2 180.2H302.5V184.5H298.2ZM280.8 188.8H285.2V193.2H280.8ZM293.8 188.8H306.9V193.2H293.8ZM293.8 193.2H311.2V197.5H293.8ZM306.9 197.5H315.5V201.8H306.9ZM324.2 197.5H328.5V201.8H324.2ZM380.6 197.5H384.9V201.8H380.6ZM324.2 201.8H337.2V206.2H324.2ZM332.9 206.2H337.2V210.5H332.9ZM380.6 210.5H384.9V214.8H380.6Z"/><path fill="#0008ff" d="M532.3 45.8H536.6V50.1H532.3ZM567.0 110.8H571.3V115.1H567.0Z"/><path fill="#0040ff" d="M536.6 45.8H540.9V50.1H536.6ZM558.3 89.1H567.0V93.5H558.3ZM558.3 93.5H562.6V97.8H558.3ZM554.0 102.1H558.3V106.5H554.0ZM558.3 115.1H571.3V119.5H558.3ZM393.6 219.2H397.9V223.5H393.6Z"/><path fill="#0010ff" d="M532.3 50.1H536.6V54.5H532.3ZM554.0 106.5H558.3V110.8H554.0ZM558.3 110.8H567.0V115.1H558.3Z"/><path fill="#0000ff" d="M536.6 50.1H540.9V54.5H536.6Z"/><path fill="#0088ff" d="M540.9 50.1H545.3V54.5H540.9ZM554.0 84.8H558.3V89.1H554.0ZM549.6 110.8H554.0V115.1H549.6ZM549.6 119.5H554.0V123.8H549.6ZM558.3 123.8H562.6V128.2H558.3ZM393.6 223.5H397.9V227.9H393.6Z"/><path fill="#00f6c5" d="M545.3 50.1H549.6V54.5H545.3ZM536.6 58.8H540.9V63.1H536.6ZM580.0 80.5H584.3V84.8H580.0ZM532.3 84.8H536.6V89.1H532.3ZM532.3 89.1H536.6V93.5H532.3ZM549.6 93.5H554.0V97.8H549.6ZM549.6 97.8H554.0V102.1H549.6ZM575.6 97.8H580.0V102.1H575.6ZM575.6 102.1H580.0V106.5H575.6ZM545.3 106.5H549.6V110.8H545.3ZM575.6 106.5H580.0V110.8H575.6ZM376.2 167.2H380.6V171.5H376.2ZM380.6 171.5H384.9V175.8H380.6Z"/><path fill="#00b2ff" d="M532.3 54.5H536.6V58.8H532.3ZM545.3 84.8H554.0V89.1H545.3ZM567.0 89.1H571.3V93.5H567.0ZM549.6 102.1H554.0V106.5H549.6ZM571.3 106.5H575.6V110.8H571.3ZM562.6 119.5H567.0V123.8H562.6ZM549.6 123.8H558.3V128.2H549.6ZM389.2 219.2H393.6V223.5H389.2Z"/><path fill="#0070ff" d="M536.6 54.5H540.9V58.8H536.6ZM567.0 84.8H571.3V89.1H567.0ZM549.6 106.5H554.0V110.8H549.6ZM554.0 119.5H562.6V123.8H554.0Z"/><path fill="#aeff35" d="M567.0 54.5H571.3V58.8H567.0ZM580.0 67.5H584.3V71.8H580.0ZM580.0 119.5H584.3V123.8H580.0ZM593.0 119.5H597.3V123.8H593.0ZM580.0 123.8H584.3V128.2H580.0ZM580.0 128.2H588.6V132.5H580.0ZM363.2 141.2H367.5V145.5H363.2ZM337.2 158.5H341.5V162.8H337.2Z"/><path fill="#ff5500" d="M246.2 58.8H250.5V63.1H246.2ZM259.2 63.1H263.5V67.5H259.2ZM254.8 67.5H259.2V71.8H254.8ZM228.8 71.8H233.2V76.1H228.8ZM237.5 71.8H241.8V76.1H237.5ZM254.8 71.8H263.5V76.1H254.8ZM267.8 71.8H272.2V76.1H267.8ZM250.5 76.1H259.2V80.5H250.5ZM263.5 76.1H267.8V80.5H263.5ZM280.8 76.1H285.2V80.5H280.8ZM224.5 80.5H228.8V84.8H224.5ZM246.2 80.5H254.8V84.8H246.2ZM259.2 80.5H263.5V84.8H259.2ZM272.2 80.5H276.5V84.8H272.2ZM224.5 84.8H237.5V89.1H224.5ZM246.2 84.8H250.5V89.1H246.2ZM228.8 89.1H233.2V93.5H228.8ZM246.2 89.1H254.8V93.5H246.2ZM224.5 93.5H228.8V97.8H224.5ZM233.2 93.5H263.5V97.8H233.2ZM224.5 97.8H237.5V102.1H224.5ZM241.8 97.8H254.8V102.1H241.8ZM259.2 97.8H267.8V102.1H259.2ZM298.2 97.8H302.5V102.1H298.2ZM233.2 102.1H237.5V106.5H233.2ZM246.2 102.1H267.8V106.5H246.2ZM272.2 102.1H285.2V106.5H272.2ZM224.5 106.5H237.5V110.8H224.5ZM246.2 106.5H250.5V110.8H246.2ZM267.8 106.5H280.8V110.8H267.8ZM298.2 106.5H302.5V110.8H298.2ZM241.8 110.8H254.8V115.1H241.8ZM263.5 110.8H267.8V115.1H263.5ZM272.2 110.8H285.2V115.1H272.2ZM233.2 115.1H237.5V119.5H233.2ZM185.5 119.5H189.8V123.8H185.5Z"/><path fill="#00e7ff" d="M532.3 58.8H536.6V63.1H532.3ZM571.3 80.5H575.6V84.8H571.3ZM540.9 84.8H545.3V89.1H540.9ZM545.3 89.1H554.0V93.5H545.3ZM567.0 97.8H571.3V102.1H567.0ZM571.3 102.1H575.6V106.5H571.3ZM567.0 119.5H571.3V123.8H567.0ZM554.0 132.5H558.3V136.8H554.0ZM554.0 136.8H558.3V141.2H554.0ZM363.2 158.5H367.5V162.8H363.2ZM389.2 214.8H397.9V219.2H389.2ZM389.2 223.5H393.6V227.9H389.2Z"/><path fill="#ffca00" d="M571.3 58.8H575.6V63.1H571.3ZM580.0 63.1H584.3V67.5H580.0ZM358.9 84.8H363.2V89.1H358.9ZM367.5 84.8H371.9V89.1H367.5ZM354.5 89.1H358.9V93.5H354.5ZM358.9 93.5H367.5V97.8H358.9ZM363.2 97.8H367.5V102.1H363.2ZM332.9 128.2H337.2V132.5H332.9ZM254.8 141.2H263.5V145.5H254.8ZM272.2 141.2H280.8V145.5H272.2ZM337.2 141.2H341.5V145.5H337.2ZM181.1 145.5H185.5V149.8H181.1ZM267.8 145.5H276.5V149.8H267.8ZM176.8 149.8H181.1V154.2H176.8ZM332.9 149.8H337.2V154.2H332.9ZM571.3 149.8H575.6V154.2H571.3ZM285.2 154.2H289.5V158.5H285.2ZM562.6 154.2H567.0V158.5H562.6ZM575.6 154.2H580.0V158.5H575.6ZM220.2 158.5H224.5V162.8H220.2ZM228.8 158.5H233.2V162.8H228.8ZM267.8 158.5H276.5V162.8H267.8ZM562.6 158.5H567.0V162.8H562.6ZM315.5 162.8H324.2V167.2H315.5ZM562.6 162.8H567.0V167.2H562.6ZM220.2 167.2H228.8V171.5H220.2ZM302.5 180.2H306.9V184.5H302.5ZM319.9 180.2H324.2V184.5H319.9ZM311.2 193.2H315.5V197.5H311.2ZM315.5 201.8H319.9V206.2H315.5ZM393.6 206.2H397.9V210.5H393.6Z"/><path fill="#ffdf00" d="M575.6 58.8H580.0V63.1H575.6ZM358.9 89.1H363.2V93.5H358.9ZM367.5 89.1H371.9V93.5H367.5ZM367.5 93.5H371.9V97.8H367.5ZM367.5 123.8H371.9V128.2H367.5ZM337.2 132.5H341.5V136.8H337.2ZM337.2 136.8H341.5V141.2H337.2ZM176.8 145.5H181.1V149.8H176.8ZM575.6 149.8H580.0V154.2H575.6ZM319.9 154.2H324.2V158.5H319.9ZM224.5 158.5H228.8V162.8H224.5ZM220.2 162.8H228.8V167.2H220.2ZM380.6 193.2H384.9V197.5H380.6ZM315.5 197.5H324.2V201.8H315.5ZM384.9 197.5H389.2V201.8H384.9ZM319.9 201.8H324.2V206.2H319.9ZM358.9 201.8H363.2V206.2H358.9Z"/><path fill="#ff3000" d="M298.2 63.1H302.5V67.5H298.2Z"/><path fill="#00c3ff" d="M554.0 67.5H558.3V71.8H554.0ZM549.6 80.5H554.0V84.8H549.6ZM575.6 80.5H580.0V84.8H575.6ZM554.0 93.5H558.3V97.8H554.0ZM554.0 97.8H558.3V102.1H554.0ZM562.6 97.8H567.0V102.1H562.6ZM567.0 102.1H571.3V106.5H567.0ZM545.3 115.1H549.6V119.5H545.3ZM554.0 128.2H558.3V132.5H554.0ZM397.9 219.2H402.2V223.5H397.9Z"/><path fill="#0058ff" d="M562.6 80.5H567.0V84.8H562.6ZM562.6 93.5H567.0V97.8H562.6ZM567.0 106.5H571.3V110.8H567.0ZM571.3 110.8H575.6V115.1H571.3ZM549.6 115.1H558.3V119.5H549.6ZM571.3 115.1H575.6V119.5H571.3Z"/><path fill="#ff4300" d="M293.8 102.1H302.5V106.5H293.8ZM280.8 106.5H285.2V110.8H280.8Z"/><path fill="#fff400" d="M371.9 123.8H380.6V128.2H371.9ZM332.9 136.8H337.2V141.2H332.9ZM324.2 145.5H328.5V149.8H324.2ZM324.2 149.8H332.9V154.2H324.2ZM580.0 149.8H584.3V154.2H580.0ZM289.5 154.2H298.2V158.5H289.5ZM324.2 162.8H328.5V167.2H324.2ZM306.9 180.2H311.2V184.5H306.9ZM384.9 193.2H393.6V197.5H384.9ZM358.9 197.5H367.5V201.8H358.9ZM363.2 201.8H367.5V206.2H363.2Z"/><path fill="#f3ff07" d="M562.6 149.8H567.0V154.2H562.6ZM324.2 154.2H332.9V158.5H324.2ZM328.5 162.8H332.9V167.2H328.5ZM337.2 162.8H345.9V167.2H337.2ZM311.2 180.2H319.9V184.5H311.2Z"/></g><rect x="345" y="83.8" width="1.2" height="1.2" fill="#5050ff"/>
<path d="M60.3 11.0L64.8 8.0L71.2 7.4L78.8 11.0L86.3 16.8L91.4 24.4L95.2 33.3L100.3 42.1L106.6 49.7L116.7 54.8L126.9 57.8L134.4 57.3L140.8 54.8L147.1 56.1L159.8 61.6L169.9 66.2L180.0 68.0L190.1 68.0L200.3 66.7L210.4 64.9L218.0 65.4L228.1 65.4L238.2 63.6L248.4 61.1L250.7 60.8L256.3 54.9L260.5 53.2L267.5 52.8L277.4 52.8L285.8 50.7L292.9 45.3L301.3 41.5L309.7 39.1L321.0 35.2L332.2 29.8L343.5 25.3L349.1 23.9L357.6 20.8L367.4 17.6L375.8 16.6L382.9 15.2L391.3 14.1L396.9 12.7L400.5 13.4L407.5 8.7L413.8 10.3L419.4 10.3L427.9 8.7L432.1 10.1L436.6 10.6L442.2 9.0L451.0 6.7L459.8 6.3L468.6 7.8L479.1 10.2L489.7 12.5L500.2 16.5L510.8 20.4L521.3 24.8L531.9 28.3L542.4 31.0L551.2 35.4L560.0 41.2L567.0 45.0L573.2 48.5L577.6 55.6L582.8 65.2L588.1 74.9L591.6 83.7L594.3 94.3L596.6 103.0L596.9 110.1L596.0 118.9L594.3 129.4L590.8 138.2L584.6 145.2L577.6 154.0L572.3 161.1L567.9 168.1L565.3 176.9L562.6 187.4L560.9 198.0L557.4 208.5L551.2 217.3L544.2 224.4L537.1 230.5L528.3 233.1L517.8 234.0L509.0 232.3L502.9 228.7L499.3 224.4L497.6 219.1L496.7 214.7L494.1 213.8L492.3 215.6L490.5 211.2L487.9 205.9L484.4 201.5L479.1 198.3L477.4 201.5L476.5 205.9L473.8 206.8L473.0 210.3L470.3 212.0L465.1 209.4L459.8 206.8L454.5 204.1L448.4 202.4L442.2 205.0L438.7 208.5L431.6 211.2L421.1 214.7L415.8 220.0L413.2 224.4L409.7 226.1L401.8 226.1L391.2 225.8L384.2 227.5L382.4 222.6L383.8 218.2L381.5 215.6L376.3 214.7L373.6 209.4L369.2 206.8L366.6 208.5L359.8 205.7L352.2 203.9L344.6 202.6L338.2 206.4L333.2 210.7L332.7 216.6L329.4 219.9L325.6 214.0L324.3 207.7L320.5 206.4L314.2 208.5L306.6 209.7L297.7 209.7L291.4 206.4L286.3 205.7L281.3 209.0L277.5 206.4L271.2 200.6L263.6 201.4L262.3 195.0L256.0 196.3L248.4 192.5L245.8 187.4L242.0 184.4L235.7 186.2L230.7 181.1L223.1 177.3L215.5 172.3L210.4 167.2L202.8 165.2L197.7 167.2L193.9 172.3L187.6 165.9L180.0 162.1L173.7 159.6L167.4 155.8L159.8 153.5L154.7 149.7L152.2 143.4L153.4 138.3L148.4 134.5L147.1 129.5L150.9 128.2L156.0 131.2L159.8 129.5L161.0 124.4L159.8 118.1L156.0 113.0L150.9 110.5L153.4 106.7L152.2 101.6L156.0 100.4L157.2 97.8L150.9 94.0L145.8 92.8L144.6 87.7L142.0 82.6L140.8 78.1L134.4 77.6L124.3 76.3L116.7 74.5L112.9 71.7L107.9 71.2L104.1 67.4L105.3 63.6L102.8 59.9L99.0 56.1L95.2 53.5L88.9 52.3L83.8 50.5L78.8 51.0L78.8 48.5L83.8 47.2L89.4 44.7L87.6 40.9L86.9 35.8L83.8 32.0L85.1 28.2L81.3 24.4L75.0 22.4L71.2 24.4L64.8 22.4L62.3 19.3L67.4 16.8L64.8 14.8L62.3 14.3Z" fill="none" stroke="#666" stroke-width="2.1" stroke-linejoin="round"/>
</g>
<rect x="90.9" y="473.4" width="608.0" height="260.1" fill="none" stroke="#000" stroke-width="2.5"/>
<line x1="90.9" y1="733.5" x2="90.9" y2="738.7" stroke="#000" stroke-width="3" stroke-linecap="round"/>
<text x="91.7" y="762.0" text-anchor="middle">70° E</text>
<line x1="264.5" y1="733.5" x2="264.5" y2="738.7" stroke="#000" stroke-width="3" stroke-linecap="round"/>
<text x="265.3" y="762.0" text-anchor="middle">80° E</text>
<line x1="438.1" y1="733.5" x2="438.1" y2="738.7" stroke="#000" stroke-width="3" stroke-linecap="round"/>
<text x="438.9" y="762.0" text-anchor="middle">90° E</text>
<line x1="611.7" y1="733.5" x2="611.7" y2="738.7" stroke="#000" stroke-width="3" stroke-linecap="round"/>
<text x="612.5" y="762.0" text-anchor="middle">100° E</text>
<line x1="85.9" y1="473.4" x2="90.9" y2="473.4" stroke="#000" stroke-width="3" stroke-linecap="round"/>
<text transform="translate(79.1 473.4) rotate(-90)" text-anchor="middle">40° N</text>
<line x1="85.9" y1="646.6" x2="90.9" y2="646.6" stroke="#000" stroke-width="3" stroke-linecap="round"/>
<text transform="translate(79.1 646.6) rotate(-90)" text-anchor="middle">30° N</text>
<text x="386.9" y="798.5" text-anchor="middle">Longitude</text>
<text transform="translate(44.9 591.4) rotate(-90)" text-anchor="middle">Latitude</text>
<text x="92.4" y="715.1">2014-06-30</text>
<text x="378.4" y="448.4" text-anchor="middle" font-weight="bold" font-size="20">(c)</text>
</g>
<g id="panel-d">
<g transform="translate(781.9 474.5)">
<g clip-path="url(#oc)"><rect x="0" y="0" width="608" height="260" fill="#ff9a10"/><g filter="url(#f-dorange)" fill="#ff7400"><path d="M60.0 7.1L89.9 15.6L107.0 51.9L149.7 58.4L213.9 66.9L256.6 54.1L304.1 41.3L406.3 19.9L459.7 15.6L470.4 62.6L384.9 77.6L304.1 109.7L235.2 118.2L192.5 101.1L162.6 88.3L128.4 69.0Z" fill-opacity="0.493"/></g><g filter="url(#f-lorange)" fill="#ffb400"><path d="M222.9 126.8L272.0 88.3L304.1 79.7L389.6 69.0L485.8 62.6L492.2 19.9L582.0 41.3L603.4 105.4L582.0 169.5L571.3 244.3L517.9 244.3L485.8 212.3L389.6 233.6L304.1 212.3L261.3 201.6L222.9 169.5Z" fill-opacity="0.621"/></g><g filter="url(#f-yellow)" fill="#fff200"><ellipse cx="288.7" cy="152.4" rx="21.4" ry="17.1" fill-opacity="0.436"/><ellipse cx="299.4" cy="148.1" rx="8.6" ry="3.8" fill-opacity="0.515"/><path d="M316.9 135.3L368.2 92.6L411.0 75.5L485.8 66.9L496.5 15.6L571.3 24.2L607.6 94.7L594.8 148.1L582.0 173.8L577.7 244.3L528.6 244.3L496.5 233.6L487.9 203.7L453.7 199.4L411.0 225.1L385.3 233.6L376.8 212.3L346.9 190.9L316.9 173.8Z" fill-opacity="0.621"/></g><g filter="url(#f-lgreen)" fill="#a8ff58"><path d="M329.8 143.9L372.5 101.1L415.3 81.9L483.7 71.2L496.5 22.0L564.9 28.4L603.4 94.7L590.5 143.9L569.2 169.5L552.1 201.6L517.9 212.3L496.5 190.9L453.7 190.9L415.3 223.0L389.6 229.4L385.3 212.3L357.5 186.6L331.9 169.5Z" fill-opacity="0.621"/><path d="M496.5 190.9L569.2 169.5L573.4 244.3L507.2 244.3Z" fill-opacity="0.356"/></g><g filter="url(#f-cyan)" fill="#00e4f4"><path d="M342.6 148.1L376.8 118.2L419.5 90.4L483.7 77.6L496.5 28.4L556.3 30.6L599.1 92.6L586.3 139.6L560.6 165.2L539.2 180.2L496.5 175.9L466.6 161.0L445.2 148.1L415.3 148.1L389.6 173.8L357.5 180.2L340.4 165.2Z" fill-opacity="0.621"/><ellipse cx="415.3" cy="212.3" rx="27.8" ry="7.5" fill-opacity="0.621" transform="rotate(-25 415.3 212.3)"/></g><g filter="url(#f-sky)" fill="#0090ff"><path d="M353.3 152.4L381.1 131.0L423.8 101.1L483.7 84.0L500.8 37.0L549.9 37.0L592.7 92.6L582.0 135.3L556.3 156.7L528.6 169.5L496.5 165.2L470.8 148.1L440.9 135.3L415.3 135.3L389.6 156.7L368.2 167.4L353.3 161.0Z" fill-opacity="0.565"/><ellipse cx="419.5" cy="210.1" rx="21.4" ry="4.7" fill-opacity="0.565" transform="rotate(-25 419.5 210.1)"/></g><g filter="url(#f-blue)" fill="#0028f0"><path d="M440.9 101.1L483.7 92.6L517.9 79.7L539.2 62.6L552.1 71.2L582.0 96.8L577.7 126.8L549.9 143.9L517.9 148.1L487.9 148.1L466.6 135.3L449.5 118.2Z" fill-opacity="0.475"/><ellipse cx="564.9" cy="111.8" rx="10.7" ry="12.8" fill-opacity="0.7"/><ellipse cx="368.2" cy="143.9" rx="17.1" ry="8.6" fill-opacity="0.515" transform="rotate(-25 368.2 143.9)"/><ellipse cx="535.0" cy="47.7" rx="15.0" ry="12.8" fill-opacity="0.493"/><ellipse cx="423.8" cy="208.0" rx="15.0" ry="3.0" fill-opacity="0.515" transform="rotate(-25 423.8 208.0)"/><ellipse cx="509.3" cy="37.0" rx="10.7" ry="8.6" fill-opacity="0.436"/><ellipse cx="528.6" cy="208.0" rx="25.7" ry="17.1" fill-opacity="0.267"/></g><g filter="url(#f-white)" fill="#ffffff"><path d="M100.6 54.1L115.5 62.6L128.4 66.9L141.2 71.2L141.2 78.7L124.1 73.3L107.0 66.9Z" fill-opacity="0.421"/><path d="M141.2 79.7L156.1 84.0L158.3 99.0L149.7 101.1Z" fill-opacity="0.315"/><path d="M149.7 126.8L162.6 135.3L158.3 141.7L171.1 152.4L192.5 165.2L213.9 171.7L222.4 178.1L235.2 184.5L256.6 195.2L278.0 203.7L304.1 209.1L304.1 214.4L273.7 210.1L252.3 197.3L231.0 186.6L209.6 175.9L192.5 171.7L171.1 161.0L154.0 150.3Z" fill-opacity="0.458"/><path d="M188.2 143.9L205.3 148.1L222.4 161.0L226.7 169.5L213.9 167.4L201.0 158.8L188.2 152.4Z" fill-opacity="0.365"/><ellipse cx="188.2" cy="90.4" rx="27.8" ry="21.4" fill-opacity="0.188"/><path d="M263.0 56.2L304.1 51.9L304.1 71.2L263.0 71.2Z" fill-opacity="0.156"/><ellipse cx="265.2" cy="154.5" rx="12.8" ry="6.4" fill-opacity="0.236"/><path d="M357.5 24.2L389.6 17.7L415.3 22.0L419.5 39.1L389.6 41.3L364.0 37.0Z" fill-opacity="0.257"/><path d="M436.6 13.5L453.7 9.2L487.9 22.0L485.8 37.0L466.6 39.1L445.2 28.4Z" fill-opacity="0.293"/><ellipse cx="434.5" cy="46.6" rx="15.0" ry="5.1" fill-opacity="0.315" transform="rotate(30 434.5 46.6)"/><path d="M304.1 51.9L329.8 49.8L368.2 56.2L389.6 69.0L385.3 75.5L357.5 71.2L325.5 62.6L304.1 64.8Z" fill-opacity="0.257"/><ellipse cx="346.9" cy="105.4" rx="21.4" ry="7.5" fill-opacity="0.257"/><ellipse cx="328.7" cy="139.6" rx="7.5" ry="5.1" fill-opacity="0.458"/><ellipse cx="523.2" cy="53.0" rx="8.6" ry="5.6" fill-opacity="0.8" transform="rotate(20 523.2 53.0)"/><ellipse cx="468.7" cy="124.6" rx="8.6" ry="4.3" fill-opacity="0.365"/><ellipse cx="497.6" cy="113.9" rx="4.7" ry="3.6" fill-opacity="0.421"/><path d="M415.3 128.9L432.4 126.8L449.5 137.4L445.2 146.0L428.1 141.7L415.3 137.4Z" fill-opacity="0.39"/><path d="M385.3 161.0L402.4 152.4L423.8 152.4L445.2 161.0L466.6 169.5L475.1 182.3L470.8 197.3L453.7 195.2L440.9 190.9L423.8 186.6L406.7 182.3L393.9 175.9Z" fill-opacity="0.315"/><ellipse cx="432.4" cy="169.5" rx="25.7" ry="9.0" fill-opacity="0.421" transform="rotate(15 432.4 169.5)"/><ellipse cx="562.8" cy="148.1" rx="10.3" ry="9.0" fill-opacity="0.39"/><path d="M505.0 135.3L552.1 135.3L552.1 152.4L505.0 152.4Z" fill-opacity="0.188"/><ellipse cx="391.7" cy="206.9" rx="6.4" ry="5.3" fill-opacity="0.315"/><ellipse cx="359.7" cy="159.9" rx="12.8" ry="1.9" fill-opacity="0.365" transform="rotate(-20 359.7 159.9)"/></g></g>
<path d="M60.3 11.0L64.8 8.0L71.2 7.4L78.8 11.0L86.3 16.8L91.4 24.4L95.2 33.3L100.3 42.1L106.6 49.7L116.7 54.8L126.9 57.8L134.4 57.3L140.8 54.8L147.1 56.1L159.8 61.6L169.9 66.2L180.0 68.0L190.1 68.0L200.3 66.7L210.4 64.9L218.0 65.4L228.1 65.4L238.2 63.6L248.4 61.1L250.7 60.8L256.3 54.9L260.5 53.2L267.5 52.8L277.4 52.8L285.8 50.7L292.9 45.3L301.3 41.5L309.7 39.1L321.0 35.2L332.2 29.8L343.5 25.3L349.1 23.9L357.6 20.8L367.4 17.6L375.8 16.6L382.9 15.2L391.3 14.1L396.9 12.7L400.5 13.4L407.5 8.7L413.8 10.3L419.4 10.3L427.9 8.7L432.1 10.1L436.6 10.6L442.2 9.0L451.0 6.7L459.8 6.3L468.6 7.8L479.1 10.2L489.7 12.5L500.2 16.5L510.8 20.4L521.3 24.8L531.9 28.3L542.4 31.0L551.2 35.4L560.0 41.2L567.0 45.0L573.2 48.5L577.6 55.6L582.8 65.2L588.1 74.9L591.6 83.7L594.3 94.3L596.6 103.0L596.9 110.1L596.0 118.9L594.3 129.4L590.8 138.2L584.6 145.2L577.6 154.0L572.3 161.1L567.9 168.1L565.3 176.9L562.6 187.4L560.9 198.0L557.4 208.5L551.2 217.3L544.2 224.4L537.1 230.5L528.3 233.1L517.8 234.0L509.0 232.3L502.9 228.7L499.3 224.4L497.6 219.1L496.7 214.7L494.1 213.8L492.3 215.6L490.5 211.2L487.9 205.9L484.4 201.5L479.1 198.3L477.4 201.5L476.5 205.9L473.8 206.8L473.0 210.3L470.3 212.0L465.1 209.4L459.8 206.8L454.5 204.1L448.4 202.4L442.2 205.0L438.7 208.5L431.6 211.2L421.1 214.7L415.8 220.0L413.2 224.4L409.7 226.1L401.8 226.1L391.2 225.8L384.2 227.5L382.4 222.6L383.8 218.2L381.5 215.6L376.3 214.7L373.6 209.4L369.2 206.8L366.6 208.5L359.8 205.7L352.2 203.9L344.6 202.6L338.2 206.4L333.2 210.7L332.7 216.6L329.4 219.9L325.6 214.0L324.3 207.7L320.5 206.4L314.2 208.5L306.6 209.7L297.7 209.7L291.4 206.4L286.3 205.7L281.3 209.0L277.5 206.4L271.2 200.6L263.6 201.4L262.3 195.0L256.0 196.3L248.4 192.5L245.8 187.4L242.0 184.4L235.7 186.2L230.7 181.1L223.1 177.3L215.5 172.3L210.4 167.2L202.8 165.2L197.7 167.2L193.9 172.3L187.6 165.9L180.0 162.1L173.7 159.6L167.4 155.8L159.8 153.5L154.7 149.7L152.2 143.4L153.4 138.3L148.4 134.5L147.1 129.5L150.9 128.2L156.0 131.2L159.8 129.5L161.0 124.4L159.8 118.1L156.0 113.0L150.9 110.5L153.4 106.7L152.2 101.6L156.0 100.4L157.2 97.8L150.9 94.0L145.8 92.8L144.6 87.7L142.0 82.6L140.8 78.1L134.4 77.6L124.3 76.3L116.7 74.5L112.9 71.7L107.9 71.2L104.1 67.4L105.3 63.6L102.8 59.9L99.0 56.1L95.2 53.5L88.9 52.3L83.8 50.5L78.8 51.0L78.8 48.5L83.8 47.2L89.4 44.7L87.6 40.9L86.9 35.8L83.8 32.0L85.1 28.2L81.3 24.4L75.0 22.4L71.2 24.4L64.8 22.4L62.3 19.3L67.4 16.8L64.8 14.8L62.3 14.3Z" fill="none" stroke="#666" stroke-width="2.1" stroke-linejoin="round"/>
</g>
<rect x="781.9" y="474.5" width="607.9" height="260.1" fill="none" stroke="#000" stroke-width="2.5"/>
<line x1="781.9" y1="734.6" x2="781.9" y2="739.8" stroke="#000" stroke-width="3" stroke-linecap="round"/>
<text x="782.7" y="763.1" text-anchor="middle">70° E</text>
<line x1="955.5" y1="734.6" x2="955.5" y2="739.8" stroke="#000" stroke-width="3" stroke-linecap="round"/>
<text x="956.3" y="763.1" text-anchor="middle">80° E</text>
<line x1="1129.1" y1="734.6" x2="1129.1" y2="739.8" stroke="#000" stroke-width="3" stroke-linecap="round"/>
<text x="1129.9" y="763.1" text-anchor="middle">90° E</text>
<line x1="1302.7" y1="734.6" x2="1302.7" y2="739.8" stroke="#000" stroke-width="3" stroke-linecap="round"/>
<text x="1303.5" y="763.1" text-anchor="middle">100° E</text>
<line x1="776.9" y1="474.5" x2="781.9" y2="474.5" stroke="#000" stroke-width="3" stroke-linecap="round"/>
<text transform="translate(770.1 474.5) rotate(-90)" text-anchor="middle">40° N</text>
<line x1="776.9" y1="647.8" x2="781.9" y2="647.8" stroke="#000" stroke-width="3" stroke-linecap="round"/>
<text transform="translate(770.1 647.8) rotate(-90)" text-anchor="middle">30° N</text>
<text x="1077.8" y="799.6" text-anchor="middle">Longitude</text>
<text transform="translate(735.9 592.5) rotate(-90)" text-anchor="middle">Latitude</text>
<text x="783.4" y="716.2">2014-06-30</text>
<text x="1069.3" y="449.5" text-anchor="middle" font-weight="bold" font-size="20">(d)</text>
</g>
<g id="panel-e">
<g transform="translate(99.8 883.2)">
<g clip-path="url(#oc)" shape-rendering="crispEdges"><path fill="#ff8c00" d="M423.9 15.4H428.2V19.8H423.9ZM432.6 15.4H436.9V19.8H432.6ZM419.6 19.8H423.9V24.1H419.6ZM363.2 28.4H367.5V32.8H363.2ZM406.6 28.4H410.9V32.8H406.6ZM419.6 28.4H428.2V32.8H419.6ZM363.2 32.8H367.5V37.1H363.2ZM415.2 32.8H419.6V37.1H415.2ZM423.9 32.8H432.6V37.1H423.9ZM415.2 37.1H432.6V41.5H415.2ZM449.9 37.1H454.2V41.5H449.9ZM384.9 41.5H389.2V45.8H384.9ZM402.2 41.5H410.9V45.8H402.2ZM415.2 41.5H428.2V45.8H415.2ZM432.6 41.5H436.9V45.8H432.6ZM441.2 41.5H458.6V45.8H441.2ZM467.2 41.5H471.6V45.8H467.2ZM384.9 45.8H406.6V50.1H384.9ZM410.9 45.8H423.9V50.1H410.9ZM428.2 45.8H432.6V50.1H428.2ZM441.2 45.8H445.6V50.1H441.2ZM449.9 45.8H458.6V50.1H449.9ZM389.2 50.1H393.6V54.5H389.2ZM397.9 50.1H406.6V54.5H397.9ZM410.9 50.1H432.6V54.5H410.9ZM449.9 50.1H454.2V54.5H449.9ZM397.9 54.5H419.6V58.8H397.9ZM406.6 58.8H410.9V63.1H406.6ZM233.2 67.5H237.5V71.8H233.2ZM241.8 97.8H246.2V102.1H241.8ZM250.5 97.8H254.8V102.1H250.5ZM241.8 102.1H246.2V106.5H241.8ZM254.8 102.1H259.2V106.5H254.8ZM215.8 115.1H233.2V119.5H215.8ZM211.5 119.5H220.2V123.8H211.5ZM224.5 119.5H233.2V123.8H224.5ZM237.5 119.5H246.2V123.8H237.5ZM215.8 123.8H220.2V128.2H215.8ZM237.5 123.8H250.5V128.2H237.5ZM246.2 128.2H250.5V132.5H246.2ZM267.8 128.2H272.2V132.5H267.8ZM259.2 132.5H263.5V136.8H259.2ZM454.2 162.8H458.6V167.2H454.2ZM454.2 167.2H458.6V171.5H454.2ZM480.3 193.2H484.6V197.5H480.3ZM272.2 197.5H276.5V201.8H272.2ZM298.2 206.2H302.5V210.5H298.2Z"/><path fill="#ff7a00" d="M428.2 15.4H432.6V19.8H428.2ZM428.2 28.4H432.6V32.8H428.2ZM419.6 32.8H423.9V37.1H419.6ZM432.6 37.1H436.9V41.5H432.6ZM445.6 37.1H449.9V41.5H445.6ZM428.2 41.5H432.6V45.8H428.2ZM406.6 45.8H410.9V50.1H406.6ZM393.6 50.1H397.9V54.5H393.6ZM406.6 50.1H410.9V54.5H406.6ZM250.5 93.5H259.2V97.8H250.5ZM237.5 97.8H241.8V102.1H237.5ZM246.2 97.8H250.5V102.1H246.2ZM237.5 102.1H241.8V106.5H237.5ZM237.5 106.5H241.8V110.8H237.5ZM246.2 106.5H250.5V110.8H246.2ZM233.2 119.5H237.5V123.8H233.2Z"/><path fill="#ffa100" d="M350.2 28.4H354.5V32.8H350.2ZM458.6 41.5H462.9V45.8H458.6ZM354.5 45.8H358.9V50.1H354.5ZM423.9 45.8H428.2V50.1H423.9ZM445.6 45.8H449.9V50.1H445.6ZM441.2 50.1H445.6V54.5H441.2ZM454.2 50.1H471.6V54.5H454.2ZM419.6 54.5H432.6V58.8H419.6ZM436.9 54.5H454.2V58.8H436.9ZM462.9 54.5H471.6V58.8H462.9ZM384.9 58.8H389.2V63.1H384.9ZM410.9 58.8H419.6V63.1H410.9ZM428.2 58.8H432.6V63.1H428.2ZM467.2 58.8H471.6V63.1H467.2ZM471.6 63.1H475.9V67.5H471.6ZM228.8 84.8H233.2V89.1H228.8ZM211.5 115.1H215.8V119.5H211.5ZM220.2 119.5H224.5V123.8H220.2ZM233.2 123.8H237.5V128.2H233.2ZM241.8 128.2H246.2V132.5H241.8ZM272.2 128.2H289.5V132.5H272.2ZM280.8 132.5H293.8V136.8H280.8ZM458.6 162.8H462.9V167.2H458.6ZM467.2 162.8H471.6V167.2H467.2ZM458.6 167.2H467.2V171.5H458.6ZM471.6 184.5H475.9V188.8H471.6ZM397.9 188.8H406.6V193.2H397.9ZM467.2 188.8H484.6V193.2H467.2ZM337.2 193.2H341.5V197.5H337.2ZM397.9 193.2H406.6V197.5H397.9ZM471.6 193.2H480.3V197.5H471.6ZM484.6 193.2H488.9V197.5H484.6ZM397.9 197.5H402.2V201.8H397.9ZM475.9 197.5H488.9V201.8H475.9ZM328.5 201.8H332.9V206.2H328.5ZM380.6 201.8H384.9V206.2H380.6ZM480.3 223.5H493.3V227.9H480.3ZM419.6 227.9H423.9V232.2H419.6ZM484.6 227.9H501.9V232.2H484.6ZM480.3 232.2H484.6V236.5H480.3ZM493.3 232.2H506.3V236.5H493.3Z"/><path fill="#ffb600" d="M350.2 45.8H354.5V50.1H350.2ZM432.6 54.5H436.9V58.8H432.6ZM454.2 54.5H462.9V58.8H454.2ZM419.6 58.8H428.2V63.1H419.6ZM432.6 58.8H436.9V63.1H432.6ZM441.2 58.8H445.6V63.1H441.2ZM449.9 58.8H458.6V63.1H449.9ZM462.9 58.8H467.2V63.1H462.9ZM462.9 63.1H471.6V67.5H462.9ZM471.6 67.5H475.9V71.8H471.6ZM276.5 132.5H280.8V136.8H276.5ZM458.6 158.5H471.6V162.8H458.6ZM267.8 162.8H272.2V167.2H267.8ZM462.9 162.8H467.2V167.2H462.9ZM471.6 162.8H480.3V167.2H471.6ZM449.9 167.2H454.2V171.5H449.9ZM467.2 167.2H475.9V171.5H467.2ZM462.9 171.5H467.2V175.8H462.9ZM402.2 175.8H406.6V180.2H402.2ZM272.2 180.2H276.5V184.5H272.2ZM402.2 180.2H410.9V184.5H402.2ZM467.2 180.2H475.9V184.5H467.2ZM259.2 184.5H263.5V188.8H259.2ZM302.5 184.5H306.9V188.8H302.5ZM341.5 184.5H345.9V188.8H341.5ZM397.9 184.5H406.6V188.8H397.9ZM458.6 184.5H471.6V188.8H458.6ZM475.9 184.5H480.3V188.8H475.9ZM276.5 188.8H280.8V193.2H276.5ZM302.5 188.8H306.9V193.2H302.5ZM328.5 188.8H337.2V193.2H328.5ZM341.5 188.8H345.9V193.2H341.5ZM406.6 188.8H410.9V193.2H406.6ZM454.2 188.8H462.9V193.2H454.2ZM488.9 188.8H497.6V193.2H488.9ZM319.9 193.2H337.2V197.5H319.9ZM341.5 193.2H345.9V197.5H341.5ZM389.2 193.2H397.9V197.5H389.2ZM406.6 193.2H410.9V197.5H406.6ZM458.6 193.2H462.9V197.5H458.6ZM467.2 193.2H471.6V197.5H467.2ZM315.5 197.5H337.2V201.8H315.5ZM380.6 197.5H384.9V201.8H380.6ZM462.9 197.5H467.2V201.8H462.9ZM471.6 197.5H475.9V201.8H471.6ZM332.9 201.8H337.2V206.2H332.9ZM376.2 201.8H380.6V206.2H376.2ZM471.6 201.8H475.9V206.2H471.6ZM480.3 201.8H484.6V206.2H480.3ZM328.5 206.2H337.2V210.5H328.5ZM475.9 206.2H480.3V210.5H475.9ZM380.6 210.5H384.9V214.8H380.6ZM475.9 210.5H484.6V214.8H475.9ZM376.2 214.8H380.6V219.2H376.2ZM475.9 214.8H484.6V219.2H475.9ZM488.9 214.8H493.3V219.2H488.9ZM419.6 219.2H428.2V223.5H419.6ZM436.9 219.2H441.2V223.5H436.9ZM462.9 219.2H471.6V223.5H462.9ZM475.9 219.2H480.3V223.5H475.9ZM484.6 219.2H493.3V223.5H484.6ZM419.6 223.5H423.9V227.9H419.6ZM428.2 223.5H441.2V227.9H428.2ZM471.6 223.5H480.3V227.9H471.6ZM415.2 227.9H419.6V232.2H415.2ZM423.9 227.9H436.9V232.2H423.9ZM441.2 227.9H445.6V232.2H441.2ZM449.9 227.9H458.6V232.2H449.9ZM475.9 227.9H484.6V232.2H475.9ZM501.9 227.9H506.3V232.2H501.9ZM384.9 232.2H393.6V236.5H384.9ZM402.2 232.2H441.2V236.5H402.2ZM445.6 232.2H449.9V236.5H445.6ZM454.2 232.2H480.3V236.5H454.2ZM484.6 232.2H493.3V236.5H484.6Z"/><path fill="#ffca00" d="M436.9 58.8H441.2V63.1H436.9ZM445.6 58.8H449.9V63.1H445.6ZM458.6 58.8H462.9V63.1H458.6ZM454.2 63.1H462.9V67.5H454.2ZM458.6 154.2H462.9V158.5H458.6ZM263.5 158.5H272.2V162.8H263.5ZM311.2 158.5H315.5V162.8H311.2ZM449.9 158.5H458.6V162.8H449.9ZM471.6 158.5H475.9V162.8H471.6ZM228.8 162.8H233.2V167.2H228.8ZM259.2 162.8H263.5V167.2H259.2ZM272.2 162.8H276.5V167.2H272.2ZM289.5 162.8H293.8V167.2H289.5ZM306.9 162.8H319.9V167.2H306.9ZM445.6 162.8H449.9V167.2H445.6ZM480.3 162.8H484.6V167.2H480.3ZM311.2 167.2H315.5V171.5H311.2ZM441.2 167.2H445.6V171.5H441.2ZM475.9 167.2H480.3V171.5H475.9ZM306.9 171.5H315.5V175.8H306.9ZM449.9 171.5H454.2V175.8H449.9ZM475.9 171.5H480.3V175.8H475.9ZM250.5 175.8H259.2V180.2H250.5ZM302.5 175.8H306.9V180.2H302.5ZM311.2 175.8H315.5V180.2H311.2ZM454.2 175.8H467.2V180.2H454.2ZM475.9 175.8H484.6V180.2H475.9ZM276.5 180.2H311.2V184.5H276.5ZM475.9 180.2H480.3V184.5H475.9ZM272.2 184.5H302.5V188.8H272.2ZM306.9 184.5H315.5V188.8H306.9ZM328.5 184.5H332.9V188.8H328.5ZM337.2 184.5H341.5V188.8H337.2ZM406.6 184.5H410.9V188.8H406.6ZM454.2 184.5H458.6V188.8H454.2ZM480.3 184.5H484.6V188.8H480.3ZM272.2 188.8H276.5V193.2H272.2ZM280.8 188.8H302.5V193.2H280.8ZM306.9 188.8H311.2V193.2H306.9ZM315.5 188.8H324.2V193.2H315.5ZM337.2 188.8H341.5V193.2H337.2ZM393.6 188.8H397.9V193.2H393.6ZM462.9 188.8H467.2V193.2H462.9ZM484.6 188.8H488.9V193.2H484.6ZM293.8 193.2H319.9V197.5H293.8ZM449.9 193.2H458.6V197.5H449.9ZM462.9 193.2H467.2V197.5H462.9ZM497.6 193.2H501.9V197.5H497.6ZM402.2 197.5H406.6V201.8H402.2ZM454.2 197.5H462.9V201.8H454.2ZM467.2 197.5H471.6V201.8H467.2ZM497.6 197.5H501.9V201.8H497.6ZM397.9 201.8H402.2V206.2H397.9ZM462.9 201.8H471.6V206.2H462.9ZM475.9 201.8H480.3V206.2H475.9ZM484.6 201.8H488.9V206.2H484.6ZM454.2 206.2H458.6V210.5H454.2ZM462.9 206.2H467.2V210.5H462.9ZM471.6 206.2H475.9V210.5H471.6ZM480.3 206.2H484.6V210.5H480.3ZM441.2 210.5H445.6V214.8H441.2ZM454.2 210.5H475.9V214.8H454.2ZM484.6 210.5H493.3V214.8H484.6ZM497.6 210.5H501.9V214.8H497.6ZM432.6 214.8H436.9V219.2H432.6ZM441.2 214.8H449.9V219.2H441.2ZM454.2 214.8H458.6V219.2H454.2ZM462.9 214.8H475.9V219.2H462.9ZM484.6 214.8H488.9V219.2H484.6ZM493.3 214.8H497.6V219.2H493.3ZM428.2 219.2H436.9V223.5H428.2ZM441.2 219.2H462.9V223.5H441.2ZM471.6 219.2H475.9V223.5H471.6ZM480.3 219.2H484.6V223.5H480.3ZM493.3 219.2H497.6V223.5H493.3ZM415.2 223.5H419.6V227.9H415.2ZM423.9 223.5H428.2V227.9H423.9ZM441.2 223.5H471.6V227.9H441.2ZM493.3 223.5H497.6V227.9H493.3ZM410.9 227.9H415.2V232.2H410.9ZM436.9 227.9H441.2V232.2H436.9ZM445.6 227.9H449.9V232.2H445.6ZM458.6 227.9H475.9V232.2H458.6ZM441.2 232.2H445.6V236.5H441.2ZM449.9 232.2H454.2V236.5H449.9Z"/><path fill="#fff400" d="M445.6 67.5H449.9V71.8H445.6ZM345.9 132.5H354.5V136.8H345.9ZM246.2 136.8H250.5V141.2H246.2ZM350.2 136.8H354.5V141.2H350.2ZM341.5 141.2H350.2V145.5H341.5ZM293.8 154.2H298.2V158.5H293.8ZM441.2 154.2H445.6V158.5H441.2ZM475.9 154.2H480.3V158.5H475.9ZM480.3 158.5H484.6V162.8H480.3ZM237.5 162.8H241.8V167.2H237.5ZM332.9 162.8H337.2V167.2H332.9ZM237.5 167.2H246.2V171.5H237.5ZM319.9 167.2H324.2V171.5H319.9ZM328.5 167.2H341.5V171.5H328.5ZM423.9 167.2H428.2V171.5H423.9ZM436.9 167.2H441.2V171.5H436.9ZM233.2 171.5H246.2V175.8H233.2ZM315.5 171.5H319.9V175.8H315.5ZM419.6 171.5H445.6V175.8H419.6ZM237.5 175.8H246.2V180.2H237.5ZM315.5 175.8H319.9V180.2H315.5ZM341.5 175.8H345.9V180.2H341.5ZM423.9 175.8H428.2V180.2H423.9ZM432.6 175.8H441.2V180.2H432.6ZM315.5 180.2H319.9V184.5H315.5ZM324.2 180.2H328.5V184.5H324.2ZM332.9 180.2H337.2V184.5H332.9ZM410.9 180.2H415.2V184.5H410.9ZM441.2 180.2H445.6V184.5H441.2ZM449.9 180.2H454.2V184.5H449.9ZM436.9 184.5H445.6V188.8H436.9ZM449.9 184.5H454.2V188.8H449.9ZM493.3 184.5H497.6V188.8H493.3ZM363.2 188.8H367.5V193.2H363.2ZM371.9 188.8H376.2V193.2H371.9ZM389.2 188.8H393.6V193.2H389.2ZM441.2 188.8H445.6V193.2H441.2ZM358.9 193.2H363.2V197.5H358.9ZM371.9 193.2H384.9V197.5H371.9ZM410.9 193.2H415.2V197.5H410.9ZM445.6 193.2H449.9V197.5H445.6ZM406.6 197.5H410.9V201.8H406.6ZM493.3 201.8H501.9V206.2H493.3ZM445.6 206.2H449.9V210.5H445.6ZM488.9 206.2H497.6V210.5H488.9ZM380.6 214.8H384.9V219.2H380.6ZM497.6 214.8H506.3V219.2H497.6ZM406.6 227.9H410.9V232.2H406.6Z"/><path fill="#ffdf00" d="M449.9 67.5H454.2V71.8H449.9ZM220.2 141.2H224.5V145.5H220.2ZM298.2 154.2H302.5V158.5H298.2ZM454.2 154.2H458.6V158.5H454.2ZM462.9 154.2H475.9V158.5H462.9ZM445.6 158.5H449.9V162.8H445.6ZM475.9 158.5H480.3V162.8H475.9ZM233.2 162.8H237.5V167.2H233.2ZM263.5 162.8H267.8V167.2H263.5ZM285.2 162.8H289.5V167.2H285.2ZM319.9 162.8H324.2V167.2H319.9ZM328.5 162.8H332.9V167.2H328.5ZM228.8 167.2H237.5V171.5H228.8ZM306.9 167.2H311.2V171.5H306.9ZM315.5 167.2H319.9V171.5H315.5ZM480.3 167.2H484.6V171.5H480.3ZM302.5 171.5H306.9V175.8H302.5ZM397.9 171.5H406.6V175.8H397.9ZM445.6 171.5H449.9V175.8H445.6ZM480.3 171.5H484.6V175.8H480.3ZM246.2 175.8H250.5V180.2H246.2ZM285.2 175.8H289.5V180.2H285.2ZM306.9 175.8H311.2V180.2H306.9ZM428.2 175.8H432.6V180.2H428.2ZM259.2 180.2H263.5V184.5H259.2ZM311.2 180.2H315.5V184.5H311.2ZM319.9 180.2H324.2V184.5H319.9ZM337.2 180.2H345.9V184.5H337.2ZM432.6 180.2H441.2V184.5H432.6ZM454.2 180.2H458.6V184.5H454.2ZM480.3 180.2H484.6V184.5H480.3ZM315.5 184.5H328.5V188.8H315.5ZM332.9 184.5H337.2V188.8H332.9ZM410.9 184.5H415.2V188.8H410.9ZM484.6 184.5H493.3V188.8H484.6ZM311.2 188.8H315.5V193.2H311.2ZM410.9 188.8H415.2V193.2H410.9ZM445.6 188.8H454.2V193.2H445.6ZM367.5 193.2H371.9V197.5H367.5ZM384.9 193.2H389.2V197.5H384.9ZM363.2 197.5H380.6V201.8H363.2ZM449.9 197.5H454.2V201.8H449.9ZM488.9 197.5H497.6V201.8H488.9ZM449.9 201.8H462.9V206.2H449.9ZM488.9 201.8H493.3V206.2H488.9ZM449.9 206.2H454.2V210.5H449.9ZM458.6 206.2H462.9V210.5H458.6ZM467.2 206.2H471.6V210.5H467.2ZM484.6 206.2H488.9V210.5H484.6ZM497.6 206.2H501.9V210.5H497.6ZM436.9 210.5H441.2V214.8H436.9ZM445.6 210.5H454.2V214.8H445.6ZM493.3 210.5H497.6V214.8H493.3ZM423.9 214.8H432.6V219.2H423.9ZM436.9 214.8H441.2V219.2H436.9ZM449.9 214.8H454.2V219.2H449.9ZM458.6 214.8H462.9V219.2H458.6ZM415.2 219.2H419.6V223.5H415.2ZM497.6 223.5H506.3V227.9H497.6ZM380.6 227.9H384.9V232.2H380.6ZM393.6 232.2H402.2V236.5H393.6Z"/><path fill="#9aff67" d="M432.6 80.5H436.9V84.8H432.6ZM428.2 119.5H432.6V123.8H428.2ZM428.2 123.8H432.6V128.2H428.2ZM406.6 128.2H410.9V132.5H406.6ZM363.2 132.5H367.5V136.8H363.2ZM406.6 141.2H415.2V145.5H406.6ZM480.3 154.2H484.6V158.5H480.3ZM337.2 158.5H345.9V162.8H337.2ZM484.6 158.5H493.3V162.8H484.6ZM484.6 162.8H488.9V167.2H484.6ZM410.9 171.5H415.2V175.8H410.9ZM488.9 171.5H493.3V175.8H488.9ZM384.9 175.8H389.2V180.2H384.9ZM384.9 184.5H389.2V188.8H384.9ZM419.6 184.5H428.2V188.8H419.6ZM419.6 188.8H423.9V193.2H419.6ZM406.6 201.8H410.9V206.2H406.6ZM406.6 206.2H410.9V210.5H406.6ZM436.9 206.2H441.2V210.5H436.9ZM410.9 219.2H415.2V223.5H410.9Z"/><path fill="#90ff80" d="M432.6 84.8H445.6V89.1H432.6ZM441.2 89.1H445.6V93.5H441.2ZM432.6 93.5H436.9V97.8H432.6ZM449.9 93.5H454.2V97.8H449.9ZM436.9 97.8H449.9V102.1H436.9ZM458.6 97.8H462.9V102.1H458.6ZM454.2 106.5H458.6V110.8H454.2ZM462.9 110.8H467.2V115.1H462.9ZM432.6 115.1H436.9V119.5H432.6ZM449.9 115.1H454.2V119.5H449.9ZM423.9 119.5H428.2V123.8H423.9ZM432.6 119.5H436.9V123.8H432.6ZM423.9 123.8H428.2V128.2H423.9ZM432.6 123.8H445.6V128.2H432.6ZM389.2 128.2H397.9V132.5H389.2ZM410.9 128.2H415.2V132.5H410.9ZM436.9 128.2H445.6V132.5H436.9ZM445.6 132.5H454.2V136.8H445.6ZM462.9 141.2H467.2V145.5H462.9ZM471.6 145.5H488.9V149.8H471.6ZM480.3 149.8H484.6V154.2H480.3ZM488.9 149.8H493.3V154.2H488.9ZM380.6 154.2H384.9V158.5H380.6ZM484.6 154.2H488.9V158.5H484.6ZM380.6 158.5H384.9V162.8H380.6ZM488.9 162.8H493.3V167.2H488.9ZM488.9 167.2H493.3V171.5H488.9ZM367.5 180.2H371.9V184.5H367.5ZM389.2 184.5H393.6V188.8H389.2ZM423.9 188.8H432.6V193.2H423.9ZM419.6 193.2H423.9V197.5H419.6ZM389.2 210.5H393.6V214.8H389.2ZM423.9 210.5H428.2V214.8H423.9Z"/><path fill="#7aff8d" d="M415.2 89.1H419.6V93.5H415.2ZM432.6 89.1H441.2V93.5H432.6ZM445.6 89.1H449.9V93.5H445.6ZM436.9 93.5H449.9V97.8H436.9ZM454.2 93.5H458.6V97.8H454.2ZM449.9 97.8H458.6V102.1H449.9ZM462.9 97.8H467.2V102.1H462.9ZM441.2 102.1H462.9V106.5H441.2ZM467.2 102.1H471.6V106.5H467.2ZM449.9 106.5H454.2V110.8H449.9ZM458.6 106.5H462.9V110.8H458.6ZM480.3 106.5H484.6V110.8H480.3ZM458.6 110.8H462.9V115.1H458.6ZM436.9 115.1H449.9V119.5H436.9ZM471.6 115.1H475.9V119.5H471.6ZM436.9 119.5H449.9V123.8H436.9ZM471.6 119.5H480.3V123.8H471.6ZM445.6 123.8H449.9V128.2H445.6ZM467.2 123.8H484.6V128.2H467.2ZM367.5 128.2H376.2V132.5H367.5ZM445.6 128.2H449.9V132.5H445.6ZM471.6 128.2H480.3V132.5H471.6ZM406.6 132.5H410.9V136.8H406.6ZM454.2 132.5H462.9V136.8H454.2ZM462.9 136.8H467.2V141.2H462.9ZM467.2 141.2H475.9V145.5H467.2ZM484.6 141.2H488.9V145.5H484.6ZM488.9 145.5H493.3V149.8H488.9ZM484.6 149.8H488.9V154.2H484.6ZM384.9 154.2H389.2V158.5H384.9ZM488.9 154.2H493.3V158.5H488.9ZM380.6 175.8H384.9V180.2H380.6Z"/><path fill="#1ef8b4" d="M419.6 89.1H423.9V93.5H419.6ZM467.2 128.2H471.6V132.5H467.2ZM376.2 132.5H380.6V136.8H376.2ZM384.9 132.5H389.2V136.8H384.9ZM467.2 132.5H471.6V136.8H467.2ZM371.9 154.2H376.2V158.5H371.9ZM371.9 162.8H376.2V167.2H371.9ZM371.9 167.2H376.2V171.5H371.9ZM367.5 171.5H371.9V175.8H367.5ZM436.9 193.2H441.2V197.5H436.9ZM432.6 206.2H436.9V210.5H432.6ZM397.9 210.5H402.2V214.8H397.9Z"/><path fill="#44fca7" d="M423.9 89.1H428.2V93.5H423.9ZM410.9 97.8H415.2V102.1H410.9ZM475.9 115.1H484.6V119.5H475.9ZM449.9 123.8H454.2V128.2H449.9ZM384.9 128.2H389.2V132.5H384.9ZM402.2 132.5H406.6V136.8H402.2ZM480.3 132.5H488.9V136.8H480.3ZM471.6 136.8H475.9V141.2H471.6ZM358.9 167.2H363.2V171.5H358.9ZM389.2 180.2H393.6V184.5H389.2ZM423.9 193.2H428.2V197.5H423.9ZM410.9 201.8H415.2V206.2H410.9ZM393.6 210.5H397.9V214.8H393.6ZM410.9 214.8H415.2V219.2H410.9ZM402.2 223.5H410.9V227.9H402.2Z"/><path fill="#63ff9b" d="M428.2 89.1H432.6V93.5H428.2ZM462.9 102.1H467.2V106.5H462.9ZM462.9 106.5H467.2V110.8H462.9ZM480.3 119.5H484.6V123.8H480.3ZM454.2 123.8H458.6V128.2H454.2ZM462.9 123.8H467.2V128.2H462.9ZM376.2 128.2H380.6V132.5H376.2ZM449.9 128.2H462.9V132.5H449.9ZM480.3 128.2H488.9V132.5H480.3ZM471.6 132.5H480.3V136.8H471.6ZM467.2 136.8H471.6V141.2H467.2ZM484.6 136.8H488.9V141.2H484.6ZM384.9 149.8H389.2V154.2H384.9ZM376.2 158.5H380.6V162.8H376.2ZM384.9 180.2H389.2V184.5H384.9ZM402.2 210.5H406.6V214.8H402.2ZM384.9 214.8H389.2V219.2H384.9Z"/><path fill="#a4ff4e" d="M436.9 102.1H441.2V106.5H436.9ZM415.2 141.2H419.6V145.5H415.2ZM462.9 145.5H471.6V149.8H462.9ZM428.2 149.8H432.6V154.2H428.2ZM484.6 167.2H488.9V171.5H484.6ZM484.6 171.5H488.9V175.8H484.6ZM345.9 175.8H350.2V180.2H345.9ZM376.2 175.8H380.6V180.2H376.2ZM389.2 175.8H393.6V180.2H389.2ZM493.3 175.8H497.6V180.2H493.3ZM363.2 180.2H367.5V184.5H363.2ZM380.6 180.2H384.9V184.5H380.6ZM493.3 180.2H497.6V184.5H493.3ZM358.9 188.8H363.2V193.2H358.9ZM432.6 188.8H436.9V193.2H432.6ZM380.6 219.2H384.9V223.5H380.6ZM389.2 227.9H393.6V232.2H389.2Z"/><path fill="#c3ff24" d="M432.6 110.8H436.9V115.1H432.6ZM432.6 128.2H436.9V132.5H432.6ZM449.9 149.8H454.2V154.2H449.9ZM462.9 149.8H475.9V154.2H462.9ZM328.5 154.2H337.2V158.5H328.5ZM402.2 167.2H406.6V171.5H402.2ZM332.9 175.8H341.5V180.2H332.9ZM484.6 175.8H488.9V180.2H484.6ZM376.2 180.2H380.6V184.5H376.2ZM393.6 180.2H397.9V184.5H393.6ZM423.9 180.2H428.2V184.5H423.9ZM363.2 184.5H367.5V188.8H363.2ZM380.6 184.5H384.9V188.8H380.6ZM428.2 184.5H432.6V188.8H428.2ZM415.2 188.8H419.6V193.2H415.2ZM402.2 206.2H406.6V210.5H402.2ZM415.2 214.8H423.9V219.2H415.2ZM410.9 223.5H415.2V227.9H410.9Z"/><path fill="#00fce8" d="M475.9 110.8H480.3V115.1H475.9ZM380.6 128.2H384.9V132.5H380.6ZM367.5 162.8H371.9V167.2H367.5ZM363.2 167.2H371.9V171.5H363.2ZM428.2 193.2H432.6V197.5H428.2ZM415.2 197.5H419.6V201.8H415.2ZM410.9 206.2H415.2V210.5H410.9ZM397.9 223.5H402.2V227.9H397.9Z"/><path fill="#00f6c5" d="M480.3 110.8H484.6V115.1H480.3ZM462.9 128.2H467.2V132.5H462.9ZM462.9 132.5H467.2V136.8H462.9ZM384.9 145.5H389.2V149.8H384.9ZM419.6 197.5H423.9V201.8H419.6ZM415.2 210.5H419.6V214.8H415.2Z"/><path fill="#dbff16" d="M337.2 132.5H341.5V136.8H337.2ZM337.2 141.2H341.5V145.5H337.2ZM458.6 145.5H462.9V149.8H458.6ZM445.6 149.8H449.9V154.2H445.6ZM445.6 154.2H449.9V158.5H445.6ZM332.9 158.5H337.2V162.8H332.9ZM337.2 162.8H345.9V167.2H337.2ZM324.2 171.5H332.9V175.8H324.2ZM324.2 175.8H332.9V180.2H324.2ZM410.9 175.8H419.6V180.2H410.9ZM371.9 184.5H376.2V188.8H371.9ZM436.9 188.8H441.2V193.2H436.9ZM445.6 197.5H449.9V201.8H445.6ZM445.6 201.8H449.9V206.2H445.6ZM393.6 206.2H402.2V210.5H393.6ZM501.9 219.2H506.3V223.5H501.9ZM402.2 227.9H406.6V232.2H402.2Z"/><path fill="#f3ff07" d="M341.5 132.5H345.9V136.8H341.5ZM341.5 136.8H350.2V141.2H341.5ZM436.9 145.5H441.2V149.8H436.9ZM423.9 149.8H428.2V154.2H423.9ZM436.9 149.8H445.6V154.2H436.9ZM454.2 149.8H462.9V154.2H454.2ZM475.9 149.8H480.3V154.2H475.9ZM449.9 154.2H454.2V158.5H449.9ZM328.5 158.5H332.9V162.8H328.5ZM428.2 167.2H436.9V171.5H428.2ZM319.9 171.5H324.2V175.8H319.9ZM406.6 171.5H410.9V175.8H406.6ZM319.9 175.8H324.2V180.2H319.9ZM393.6 175.8H397.9V180.2H393.6ZM419.6 175.8H423.9V180.2H419.6ZM415.2 180.2H419.6V184.5H415.2ZM428.2 180.2H432.6V184.5H428.2ZM445.6 180.2H449.9V184.5H445.6ZM484.6 180.2H493.3V184.5H484.6ZM376.2 184.5H380.6V188.8H376.2ZM393.6 184.5H397.9V188.8H393.6ZM445.6 184.5H449.9V188.8H445.6ZM367.5 188.8H371.9V193.2H367.5ZM376.2 188.8H389.2V193.2H376.2ZM402.2 201.8H406.6V206.2H402.2ZM384.9 210.5H389.2V214.8H384.9ZM432.6 210.5H436.9V214.8H432.6ZM497.6 219.2H501.9V223.5H497.6Z"/><path fill="#00b2ff" d="M380.6 132.5H384.9V136.8H380.6ZM363.2 162.8H367.5V167.2H363.2ZM419.6 206.2H423.9V210.5H419.6ZM397.9 214.8H402.2V219.2H397.9ZM393.6 219.2H397.9V223.5H393.6ZM384.9 223.5H393.6V227.9H384.9Z"/><path fill="#aeff35" d="M432.6 149.8H436.9V154.2H432.6ZM397.9 167.2H402.2V171.5H397.9ZM332.9 171.5H341.5V175.8H332.9ZM415.2 171.5H419.6V175.8H415.2ZM350.2 175.8H354.5V180.2H350.2ZM488.9 175.8H493.3V180.2H488.9ZM371.9 180.2H376.2V184.5H371.9ZM419.6 180.2H423.9V184.5H419.6ZM367.5 184.5H371.9V188.8H367.5ZM415.2 193.2H419.6V197.5H415.2ZM441.2 193.2H445.6V197.5H441.2ZM410.9 197.5H415.2V201.8H410.9ZM441.2 206.2H445.6V210.5H441.2ZM428.2 210.5H432.6V214.8H428.2ZM380.6 223.5H384.9V227.9H380.6ZM384.9 227.9H389.2V232.2H384.9ZM393.6 227.9H402.2V232.2H393.6Z"/><path fill="#00d5ff" d="M367.5 158.5H371.9V162.8H367.5ZM415.2 206.2H419.6V210.5H415.2ZM428.2 206.2H432.6V210.5H428.2ZM393.6 214.8H397.9V219.2H393.6Z"/><path fill="#00e7ff" d="M432.6 193.2H436.9V197.5H432.6ZM423.9 206.2H428.2V210.5H423.9ZM402.2 214.8H406.6V219.2H402.2ZM402.2 219.2H406.6V223.5H402.2Z"/><path fill="#00c3ff" d="M423.9 197.5H428.2V201.8H423.9ZM441.2 197.5H445.6V201.8H441.2ZM441.2 201.8H445.6V206.2H441.2ZM406.6 214.8H410.9V219.2H406.6Z"/><path fill="#0088ff" d="M428.2 197.5H432.6V201.8H428.2ZM384.9 219.2H389.2V223.5H384.9Z"/><path fill="#0040ff" d="M432.6 197.5H436.9V201.8H432.6Z"/><path fill="#0058ff" d="M436.9 197.5H441.2V201.8H436.9ZM436.9 201.8H441.2V206.2H436.9Z"/><path fill="#00f9ff" d="M415.2 201.8H423.9V206.2H415.2ZM419.6 210.5H423.9V214.8H419.6ZM389.2 214.8H393.6V219.2H389.2ZM406.6 219.2H410.9V223.5H406.6ZM393.6 223.5H397.9V227.9H393.6Z"/><path fill="#0070ff" d="M423.9 201.8H428.2V206.2H423.9ZM389.2 219.2H393.6V223.5H389.2Z"/><path fill="#0028ff" d="M428.2 201.8H436.9V206.2H428.2Z"/><path fill="#00a0ff" d="M397.9 219.2H402.2V223.5H397.9Z"/></g><rect x="345" y="83.8" width="1.2" height="1.2" fill="#5050ff"/>
<path d="M60.3 11.0L64.8 8.0L71.2 7.4L78.8 11.0L86.3 16.8L91.4 24.4L95.2 33.3L100.3 42.1L106.6 49.7L116.7 54.8L126.9 57.8L134.4 57.3L140.8 54.8L147.1 56.1L159.8 61.6L169.9 66.2L180.0 68.0L190.1 68.0L200.3 66.7L210.4 64.9L218.0 65.4L228.1 65.4L238.2 63.6L248.4 61.1L250.7 60.8L256.3 54.9L260.5 53.2L267.5 52.8L277.4 52.8L285.8 50.7L292.9 45.3L301.3 41.5L309.7 39.1L321.0 35.2L332.2 29.8L343.5 25.3L349.1 23.9L357.6 20.8L367.4 17.6L375.8 16.6L382.9 15.2L391.3 14.1L396.9 12.7L400.5 13.4L407.5 8.7L413.8 10.3L419.4 10.3L427.9 8.7L432.1 10.1L436.6 10.6L442.2 9.0L451.0 6.7L459.8 6.3L468.6 7.8L479.1 10.2L489.7 12.5L500.2 16.5L510.8 20.4L521.3 24.8L531.9 28.3L542.4 31.0L551.2 35.4L560.0 41.2L567.0 45.0L573.2 48.5L577.6 55.6L582.8 65.2L588.1 74.9L591.6 83.7L594.3 94.3L596.6 103.0L596.9 110.1L596.0 118.9L594.3 129.4L590.8 138.2L584.6 145.2L577.6 154.0L572.3 161.1L567.9 168.1L565.3 176.9L562.6 187.4L560.9 198.0L557.4 208.5L551.2 217.3L544.2 224.4L537.1 230.5L528.3 233.1L517.8 234.0L509.0 232.3L502.9 228.7L499.3 224.4L497.6 219.1L496.7 214.7L494.1 213.8L492.3 215.6L490.5 211.2L487.9 205.9L484.4 201.5L479.1 198.3L477.4 201.5L476.5 205.9L473.8 206.8L473.0 210.3L470.3 212.0L465.1 209.4L459.8 206.8L454.5 204.1L448.4 202.4L442.2 205.0L438.7 208.5L431.6 211.2L421.1 214.7L415.8 220.0L413.2 224.4L409.7 226.1L401.8 226.1L391.2 225.8L384.2 227.5L382.4 222.6L383.8 218.2L381.5 215.6L376.3 214.7L373.6 209.4L369.2 206.8L366.6 208.5L359.8 205.7L352.2 203.9L344.6 202.6L338.2 206.4L333.2 210.7L332.7 216.6L329.4 219.9L325.6 214.0L324.3 207.7L320.5 206.4L314.2 208.5L306.6 209.7L297.7 209.7L291.4 206.4L286.3 205.7L281.3 209.0L277.5 206.4L271.2 200.6L263.6 201.4L262.3 195.0L256.0 196.3L248.4 192.5L245.8 187.4L242.0 184.4L235.7 186.2L230.7 181.1L223.1 177.3L215.5 172.3L210.4 167.2L202.8 165.2L197.7 167.2L193.9 172.3L187.6 165.9L180.0 162.1L173.7 159.6L167.4 155.8L159.8 153.5L154.7 149.7L152.2 143.4L153.4 138.3L148.4 134.5L147.1 129.5L150.9 128.2L156.0 131.2L159.8 129.5L161.0 124.4L159.8 118.1L156.0 113.0L150.9 110.5L153.4 106.7L152.2 101.6L156.0 100.4L157.2 97.8L150.9 94.0L145.8 92.8L144.6 87.7L142.0 82.6L140.8 78.1L134.4 77.6L124.3 76.3L116.7 74.5L112.9 71.7L107.9 71.2L104.1 67.4L105.3 63.6L102.8 59.9L99.0 56.1L95.2 53.5L88.9 52.3L83.8 50.5L78.8 51.0L78.8 48.5L83.8 47.2L89.4 44.7L87.6 40.9L86.9 35.8L83.8 32.0L85.1 28.2L81.3 24.4L75.0 22.4L71.2 24.4L64.8 22.4L62.3 19.3L67.4 16.8L64.8 14.8L62.3 14.3Z" fill="none" stroke="#666" stroke-width="2.1" stroke-linejoin="round"/>
</g>
<rect x="99.8" y="883.2" width="607.7" height="259.9" fill="none" stroke="#000" stroke-width="2.5"/>
<line x1="99.8" y1="1143.1" x2="99.8" y2="1148.3" stroke="#000" stroke-width="3" stroke-linecap="round"/>
<text x="100.6" y="1171.6" text-anchor="middle">70° E</text>
<line x1="273.4" y1="1143.1" x2="273.4" y2="1148.3" stroke="#000" stroke-width="3" stroke-linecap="round"/>
<text x="274.2" y="1171.6" text-anchor="middle">80° E</text>
<line x1="447.0" y1="1143.1" x2="447.0" y2="1148.3" stroke="#000" stroke-width="3" stroke-linecap="round"/>
<text x="447.8" y="1171.6" text-anchor="middle">90° E</text>
<line x1="620.6" y1="1143.1" x2="620.6" y2="1148.3" stroke="#000" stroke-width="3" stroke-linecap="round"/>
<text x="621.4" y="1171.6" text-anchor="middle">100° E</text>
<line x1="94.8" y1="883.2" x2="99.8" y2="883.2" stroke="#000" stroke-width="3" stroke-linecap="round"/>
<text transform="translate(88.0 883.2) rotate(-90)" text-anchor="middle">40° N</text>
<line x1="94.8" y1="1056.5" x2="99.8" y2="1056.5" stroke="#000" stroke-width="3" stroke-linecap="round"/>
<text transform="translate(88.0 1056.5) rotate(-90)" text-anchor="middle">30° N</text>
<text x="395.6" y="1208.1" text-anchor="middle">Longitude</text>
<text transform="translate(53.8 1001.1) rotate(-90)" text-anchor="middle">Latitude</text>
<text x="101.3" y="1124.7">2014-09-30</text>
<text x="387.1" y="858.2" text-anchor="middle" font-weight="bold" font-size="20">(e)</text>
</g>
<g id="panel-f">
<g transform="translate(790.8 884.3)">
<g clip-path="url(#oc)"><rect x="0" y="0" width="608" height="260" fill="#ff9a10"/><g filter="url(#f-dorange)" fill="#ff7400"><path d="M60.1 7.3L90.0 15.8L107.1 52.1L149.8 58.6L214.0 67.1L256.7 54.3L304.2 41.5L406.4 20.1L459.8 15.8L470.5 62.8L385.0 77.8L304.2 109.9L235.3 118.4L192.6 101.3L162.7 88.5L128.5 69.2Z" fill-opacity="0.475"/></g><g filter="url(#f-lorange)" fill="#ffb400"><path d="M223.0 127.0L272.1 92.8L304.2 84.2L389.7 69.2L485.9 67.1L492.3 20.1L582.1 41.5L603.5 105.6L582.1 169.7L571.4 244.5L518.0 244.5L485.9 212.5L389.7 233.8L304.2 212.5L261.4 201.8L223.0 169.7Z" fill-opacity="0.621"/></g><g filter="url(#f-yellow)" fill="#fff200"><ellipse cx="205.4" cy="161.2" rx="10.7" ry="6.4" fill-opacity="0.436"/><path d="M240.1 139.8L310.6 120.5L310.6 184.7L250.8 186.8Z" fill-opacity="0.457"/><path d="M310.6 118.4L347.0 101.3L394.0 75.7L485.9 69.2L492.3 20.1L577.8 30.8L607.7 101.3L594.9 148.3L582.1 169.7L577.8 244.5L528.7 244.5L496.6 233.8L488.0 203.9L453.8 199.6L411.1 225.3L385.4 233.8L376.9 212.5L347.0 191.1L310.6 180.4Z" fill-opacity="0.621"/></g><g filter="url(#f-lgreen)" fill="#a8ff58"><ellipse cx="280.2" cy="146.2" rx="11.8" ry="5.3" fill-opacity="0.475"/><path d="M336.3 135.5L398.3 88.5L485.9 75.7L496.6 28.6L565.0 37.2L601.3 101.3L588.5 148.3L569.3 169.7L560.7 212.5L530.8 233.8L503.0 225.3L492.3 191.1L453.8 191.1L415.4 223.2L389.7 229.6L357.6 186.8L336.3 169.7Z" fill-opacity="0.59"/></g><g filter="url(#f-green)" fill="#4cffa8"><path d="M355.5 148.3L402.5 97.0L485.9 84.2L503.0 37.2L560.7 45.7L594.9 101.3L582.1 148.3L560.7 169.7L539.3 201.8L509.4 201.8L492.3 169.7L453.8 148.3L423.9 148.3L389.7 182.5L359.8 182.5Z" fill-opacity="0.475"/></g><g filter="url(#f-cyan)" fill="#00e4f4"><ellipse cx="539.3" cy="88.5" rx="42.8" ry="34.2" fill-opacity="0.457"/><ellipse cx="518.0" cy="159.0" rx="32.1" ry="32.1" fill-opacity="0.436"/><ellipse cx="400.4" cy="131.2" rx="42.8" ry="17.1" fill-opacity="0.436" transform="rotate(-20 400.4 131.2)"/><ellipse cx="374.7" cy="176.1" rx="21.4" ry="10.7" fill-opacity="0.436"/></g><g filter="url(#f-sky)" fill="#0090ff"><ellipse cx="535.1" cy="75.7" rx="32.1" ry="17.1" fill-opacity="0.388"/><ellipse cx="496.6" cy="118.4" rx="21.4" ry="12.8" fill-opacity="0.388"/><ellipse cx="535.1" cy="161.2" rx="21.4" ry="21.4" fill-opacity="0.356"/><ellipse cx="381.2" cy="144.1" rx="21.4" ry="8.6" fill-opacity="0.457" transform="rotate(-25 381.2 144.1)"/><ellipse cx="415.4" cy="210.3" rx="27.8" ry="7.5" fill-opacity="0.565" transform="rotate(-25 415.4 210.3)"/></g><g filter="url(#f-blue)" fill="#0028f0"><ellipse cx="524.4" cy="48.9" rx="15.0" ry="10.7" fill-opacity="0.475"/><ellipse cx="569.3" cy="105.6" rx="10.7" ry="12.8" fill-opacity="0.457"/><ellipse cx="530.8" cy="73.5" rx="17.1" ry="6.4" fill-opacity="0.414"/><ellipse cx="381.2" cy="141.9" rx="12.8" ry="5.3" fill-opacity="0.457" transform="rotate(-25 381.2 141.9)"/><ellipse cx="428.2" cy="206.1" rx="10.7" ry="3.8" fill-opacity="0.621" transform="rotate(-20 428.2 206.1)"/><ellipse cx="400.4" cy="222.1" rx="17.1" ry="2.6" fill-opacity="0.515"/><ellipse cx="554.3" cy="148.3" rx="8.6" ry="17.1" fill-opacity="0.356"/><ellipse cx="528.7" cy="169.7" rx="12.8" ry="12.8" fill-opacity="0.356"/><ellipse cx="483.8" cy="88.5" rx="6.4" ry="6.4" fill-opacity="0.436"/><ellipse cx="485.9" cy="118.4" rx="8.6" ry="4.3" fill-opacity="0.414"/><ellipse cx="528.7" cy="208.2" rx="25.7" ry="19.2" fill-opacity="0.267"/></g><g filter="url(#f-white)" fill="#ffffff"><path d="M100.7 54.3L115.6 62.8L128.5 67.1L141.3 71.4L141.3 78.9L124.2 73.5L107.1 67.1Z" fill-opacity="0.421"/><path d="M141.3 79.9L156.2 84.2L158.4 99.2L149.8 101.3Z" fill-opacity="0.315"/><path d="M149.8 127.0L162.7 135.5L158.4 141.9L171.2 152.6L192.6 165.4L214.0 171.9L222.5 178.3L235.3 184.7L256.7 195.4L278.1 203.9L304.2 209.3L304.2 214.6L273.8 210.3L252.4 197.5L231.1 186.8L209.7 176.1L192.6 171.9L171.2 161.2L154.1 150.5Z" fill-opacity="0.458"/><path d="M188.3 144.1L205.4 148.3L222.5 161.2L226.8 169.7L214.0 167.6L201.1 159.0L188.3 152.6Z" fill-opacity="0.365"/><ellipse cx="188.3" cy="90.6" rx="27.8" ry="21.4" fill-opacity="0.188"/><path d="M263.1 56.4L304.2 52.1L304.2 71.4L263.1 71.4Z" fill-opacity="0.156"/><ellipse cx="248.2" cy="148.3" rx="10.7" ry="5.3" fill-opacity="0.236"/><path d="M357.6 24.4L389.7 17.9L415.4 22.2L419.6 39.3L389.7 41.5L364.1 37.2Z" fill-opacity="0.275"/><path d="M436.7 13.7L453.8 9.4L488.0 22.2L485.9 37.2L466.7 39.3L445.3 28.6Z" fill-opacity="0.315"/><ellipse cx="434.6" cy="46.8" rx="15.0" ry="5.1" fill-opacity="0.315" transform="rotate(30 434.6 46.8)"/><path d="M336.3 58.6L368.3 54.3L394.0 62.8L389.7 84.2L374.7 101.3L368.3 118.4L351.2 114.1L338.4 101.3L342.7 79.9Z" fill-opacity="0.365"/><path d="M304.2 52.1L336.3 52.1L336.3 69.2L304.2 69.2Z" fill-opacity="0.236"/><path d="M374.7 122.7L398.3 118.4L423.9 124.8L441.0 133.4L436.7 144.1L419.6 139.8L398.3 135.5L379.0 131.2Z" fill-opacity="0.39"/><ellipse cx="327.7" cy="139.8" rx="7.5" ry="5.1" fill-opacity="0.458"/><path d="M347.0 161.2L368.3 152.6L394.0 146.2L398.3 152.6L376.9 163.3L355.5 169.7Z" fill-opacity="0.315"/><path d="M394.0 169.7L415.4 159.0L441.0 159.0L466.7 169.7L479.5 186.8L475.2 201.8L458.1 191.1L441.0 182.5L419.6 180.4L402.5 182.5Z" fill-opacity="0.293"/><path d="M453.8 174.0L475.2 176.1L481.6 201.8L466.7 199.6Z" fill-opacity="0.275"/><ellipse cx="481.6" cy="97.0" rx="5.6" ry="12.4" fill-opacity="0.5"/><ellipse cx="494.5" cy="112.0" rx="6.0" ry="7.1" fill-opacity="0.421"/><ellipse cx="497.7" cy="84.2" rx="7.5" ry="4.3" fill-opacity="0.275"/><ellipse cx="522.7" cy="52.1" rx="8.6" ry="5.6" fill-opacity="0.8" transform="rotate(20 522.7 52.1)"/><ellipse cx="477.4" cy="122.7" rx="8.6" ry="4.3" fill-opacity="0.275"/><ellipse cx="387.6" cy="207.1" rx="10.7" ry="5.3" fill-opacity="0.275"/></g></g>
<path d="M60.3 11.0L64.8 8.0L71.2 7.4L78.8 11.0L86.3 16.8L91.4 24.4L95.2 33.3L100.3 42.1L106.6 49.7L116.7 54.8L126.9 57.8L134.4 57.3L140.8 54.8L147.1 56.1L159.8 61.6L169.9 66.2L180.0 68.0L190.1 68.0L200.3 66.7L210.4 64.9L218.0 65.4L228.1 65.4L238.2 63.6L248.4 61.1L250.7 60.8L256.3 54.9L260.5 53.2L267.5 52.8L277.4 52.8L285.8 50.7L292.9 45.3L301.3 41.5L309.7 39.1L321.0 35.2L332.2 29.8L343.5 25.3L349.1 23.9L357.6 20.8L367.4 17.6L375.8 16.6L382.9 15.2L391.3 14.1L396.9 12.7L400.5 13.4L407.5 8.7L413.8 10.3L419.4 10.3L427.9 8.7L432.1 10.1L436.6 10.6L442.2 9.0L451.0 6.7L459.8 6.3L468.6 7.8L479.1 10.2L489.7 12.5L500.2 16.5L510.8 20.4L521.3 24.8L531.9 28.3L542.4 31.0L551.2 35.4L560.0 41.2L567.0 45.0L573.2 48.5L577.6 55.6L582.8 65.2L588.1 74.9L591.6 83.7L594.3 94.3L596.6 103.0L596.9 110.1L596.0 118.9L594.3 129.4L590.8 138.2L584.6 145.2L577.6 154.0L572.3 161.1L567.9 168.1L565.3 176.9L562.6 187.4L560.9 198.0L557.4 208.5L551.2 217.3L544.2 224.4L537.1 230.5L528.3 233.1L517.8 234.0L509.0 232.3L502.9 228.7L499.3 224.4L497.6 219.1L496.7 214.7L494.1 213.8L492.3 215.6L490.5 211.2L487.9 205.9L484.4 201.5L479.1 198.3L477.4 201.5L476.5 205.9L473.8 206.8L473.0 210.3L470.3 212.0L465.1 209.4L459.8 206.8L454.5 204.1L448.4 202.4L442.2 205.0L438.7 208.5L431.6 211.2L421.1 214.7L415.8 220.0L413.2 224.4L409.7 226.1L401.8 226.1L391.2 225.8L384.2 227.5L382.4 222.6L383.8 218.2L381.5 215.6L376.3 214.7L373.6 209.4L369.2 206.8L366.6 208.5L359.8 205.7L352.2 203.9L344.6 202.6L338.2 206.4L333.2 210.7L332.7 216.6L329.4 219.9L325.6 214.0L324.3 207.7L320.5 206.4L314.2 208.5L306.6 209.7L297.7 209.7L291.4 206.4L286.3 205.7L281.3 209.0L277.5 206.4L271.2 200.6L263.6 201.4L262.3 195.0L256.0 196.3L248.4 192.5L245.8 187.4L242.0 184.4L235.7 186.2L230.7 181.1L223.1 177.3L215.5 172.3L210.4 167.2L202.8 165.2L197.7 167.2L193.9 172.3L187.6 165.9L180.0 162.1L173.7 159.6L167.4 155.8L159.8 153.5L154.7 149.7L152.2 143.4L153.4 138.3L148.4 134.5L147.1 129.5L150.9 128.2L156.0 131.2L159.8 129.5L161.0 124.4L159.8 118.1L156.0 113.0L150.9 110.5L153.4 106.7L152.2 101.6L156.0 100.4L157.2 97.8L150.9 94.0L145.8 92.8L144.6 87.7L142.0 82.6L140.8 78.1L134.4 77.6L124.3 76.3L116.7 74.5L112.9 71.7L107.9 71.2L104.1 67.4L105.3 63.6L102.8 59.9L99.0 56.1L95.2 53.5L88.9 52.3L83.8 50.5L78.8 51.0L78.8 48.5L83.8 47.2L89.4 44.7L87.6 40.9L86.9 35.8L83.8 32.0L85.1 28.2L81.3 24.4L75.0 22.4L71.2 24.4L64.8 22.4L62.3 19.3L67.4 16.8L64.8 14.8L62.3 14.3Z" fill="none" stroke="#666" stroke-width="2.1" stroke-linejoin="round"/>
</g>
<rect x="790.8" y="884.3" width="607.7" height="260.0" fill="none" stroke="#000" stroke-width="2.5"/>
<line x1="790.8" y1="1144.3" x2="790.8" y2="1149.5" stroke="#000" stroke-width="3" stroke-linecap="round"/>
<text x="791.6" y="1172.8" text-anchor="middle">70° E</text>
<line x1="964.4" y1="1144.3" x2="964.4" y2="1149.5" stroke="#000" stroke-width="3" stroke-linecap="round"/>
<text x="965.2" y="1172.8" text-anchor="middle">80° E</text>
<line x1="1138.0" y1="1144.3" x2="1138.0" y2="1149.5" stroke="#000" stroke-width="3" stroke-linecap="round"/>
<text x="1138.8" y="1172.8" text-anchor="middle">90° E</text>
<line x1="1311.6" y1="1144.3" x2="1311.6" y2="1149.5" stroke="#000" stroke-width="3" stroke-linecap="round"/>
<text x="1312.4" y="1172.8" text-anchor="middle">100° E</text>
<line x1="785.8" y1="884.3" x2="790.8" y2="884.3" stroke="#000" stroke-width="3" stroke-linecap="round"/>
<text transform="translate(779.0 884.3) rotate(-90)" text-anchor="middle">40° N</text>
<line x1="785.8" y1="1057.6" x2="790.8" y2="1057.6" stroke="#000" stroke-width="3" stroke-linecap="round"/>
<text transform="translate(779.0 1057.6) rotate(-90)" text-anchor="middle">30° N</text>
<text x="1086.7" y="1209.3" text-anchor="middle">Longitude</text>
<text transform="translate(744.8 1002.3) rotate(-90)" text-anchor="middle">Latitude</text>
<text x="792.3" y="1125.9">2014-09-30</text>
<text x="1078.2" y="859.3" text-anchor="middle" font-weight="bold" font-size="20">(f)</text>
</g>
<g id="panel-g">
<g transform="translate(99.9 1289.7)">
<g clip-path="url(#oc)" shape-rendering="crispEdges"><path fill="#ffdf00" d="M501.9 41.5H506.3V45.8H501.9ZM567.0 80.5H580.0V84.8H567.0ZM580.0 84.8H584.3V89.1H580.0ZM580.0 89.1H584.3V93.5H580.0ZM458.6 136.8H462.9V141.2H458.6ZM484.6 136.8H493.3V141.2H484.6ZM458.6 141.2H462.9V145.5H458.6ZM484.6 141.2H488.9V145.5H484.6ZM501.9 141.2H506.3V145.5H501.9ZM467.2 145.5H471.6V149.8H467.2ZM484.6 145.5H488.9V149.8H484.6ZM510.6 145.5H514.9V149.8H510.6ZM467.2 149.8H471.6V154.2H467.2ZM484.6 149.8H488.9V154.2H484.6ZM506.3 149.8H514.9V154.2H506.3ZM458.6 154.2H462.9V158.5H458.6ZM480.3 154.2H488.9V158.5H480.3ZM458.6 158.5H462.9V162.8H458.6ZM471.6 158.5H484.6V162.8H471.6ZM467.2 162.8H471.6V167.2H467.2ZM471.6 167.2H475.9V171.5H471.6Z"/><path fill="#ffca00" d="M554.0 54.5H558.3V58.8H554.0ZM588.6 54.5H597.3V58.8H588.6ZM606.0 54.5H610.3V58.8H606.0ZM601.6 58.8H606.0V63.1H601.6ZM514.9 63.1H523.6V67.5H514.9ZM588.6 63.1H593.0V67.5H588.6ZM601.6 63.1H606.0V67.5H601.6ZM523.6 67.5H532.3V71.8H523.6ZM536.6 67.5H540.9V71.8H536.6ZM593.0 67.5H601.6V71.8H593.0ZM514.9 71.8H519.3V76.1H514.9ZM527.9 71.8H540.9V76.1H527.9ZM597.3 71.8H606.0V76.1H597.3ZM519.3 76.1H527.9V80.5H519.3ZM536.6 76.1H540.9V80.5H536.6ZM554.0 76.1H558.3V80.5H554.0ZM567.0 76.1H580.0V80.5H567.0ZM601.6 76.1H610.3V80.5H601.6ZM523.6 80.5H532.3V84.8H523.6ZM536.6 80.5H545.3V84.8H536.6ZM562.6 80.5H567.0V84.8H562.6ZM580.0 80.5H584.3V84.8H580.0ZM601.6 80.5H606.0V84.8H601.6ZM527.9 84.8H532.3V89.1H527.9ZM536.6 84.8H540.9V89.1H536.6ZM597.3 84.8H601.6V89.1H597.3ZM536.6 89.1H545.3V93.5H536.6ZM549.6 89.1H558.3V93.5H549.6ZM562.6 89.1H571.3V93.5H562.6ZM588.6 89.1H593.0V93.5H588.6ZM554.0 102.1H558.3V106.5H554.0ZM554.0 119.5H558.3V123.8H554.0ZM458.6 132.5H467.2V136.8H458.6ZM462.9 136.8H471.6V141.2H462.9ZM462.9 141.2H471.6V145.5H462.9ZM471.6 145.5H480.3V149.8H471.6ZM506.3 145.5H510.6V149.8H506.3ZM471.6 149.8H484.6V154.2H471.6ZM471.6 154.2H480.3V158.5H471.6ZM358.9 162.8H367.5V167.2H358.9ZM350.2 167.2H354.5V171.5H350.2ZM363.2 167.2H367.5V171.5H363.2ZM376.2 167.2H380.6V171.5H376.2ZM384.9 167.2H389.2V171.5H384.9ZM354.5 171.5H358.9V175.8H354.5ZM363.2 171.5H367.5V175.8H363.2ZM380.6 171.5H384.9V175.8H380.6ZM354.5 175.8H358.9V180.2H354.5ZM363.2 175.8H367.5V180.2H363.2ZM371.9 175.8H380.6V180.2H371.9ZM380.6 180.2H393.6V184.5H380.6ZM367.5 184.5H371.9V188.8H367.5ZM380.6 184.5H389.2V188.8H380.6Z"/><path fill="#ffa100" d="M562.6 54.5H567.0V58.8H562.6ZM571.3 54.5H580.0V58.8H571.3ZM562.6 58.8H567.0V63.1H562.6ZM571.3 58.8H575.6V63.1H571.3ZM580.0 58.8H584.3V63.1H580.0ZM562.6 63.1H571.3V67.5H562.6ZM575.6 63.1H580.0V67.5H575.6ZM567.0 67.5H571.3V71.8H567.0ZM575.6 67.5H580.0V71.8H575.6ZM567.0 71.8H571.3V76.1H567.0ZM584.3 76.1H588.6V80.5H584.3ZM588.6 80.5H593.0V84.8H588.6ZM527.9 110.8H536.6V115.1H527.9ZM540.9 110.8H545.3V115.1H540.9ZM536.6 115.1H540.9V119.5H536.6ZM545.3 115.1H549.6V119.5H545.3ZM532.3 119.5H536.6V123.8H532.3ZM540.9 119.5H549.6V123.8H540.9ZM523.6 123.8H540.9V128.2H523.6ZM514.9 128.2H523.6V132.5H514.9ZM527.9 128.2H532.3V132.5H527.9ZM514.9 132.5H523.6V136.8H514.9ZM376.2 136.8H380.6V141.2H376.2ZM449.9 141.2H454.2V145.5H449.9ZM423.9 145.5H436.9V149.8H423.9ZM445.6 149.8H449.9V154.2H445.6ZM393.6 162.8H397.9V167.2H393.6ZM371.9 171.5H376.2V175.8H371.9ZM371.9 188.8H376.2V193.2H371.9Z"/><path fill="#ffb600" d="M580.0 54.5H588.6V58.8H580.0ZM597.3 54.5H606.0V58.8H597.3ZM584.3 58.8H601.6V63.1H584.3ZM606.0 58.8H610.3V63.1H606.0ZM540.9 63.1H562.6V67.5H540.9ZM580.0 63.1H588.6V67.5H580.0ZM593.0 63.1H601.6V67.5H593.0ZM606.0 63.1H610.3V67.5H606.0ZM514.9 67.5H523.6V71.8H514.9ZM532.3 67.5H536.6V71.8H532.3ZM549.6 67.5H562.6V71.8H549.6ZM580.0 67.5H593.0V71.8H580.0ZM601.6 67.5H610.3V71.8H601.6ZM519.3 71.8H527.9V76.1H519.3ZM549.6 71.8H567.0V76.1H549.6ZM575.6 71.8H580.0V76.1H575.6ZM584.3 71.8H597.3V76.1H584.3ZM606.0 71.8H610.3V76.1H606.0ZM514.9 76.1H519.3V80.5H514.9ZM527.9 76.1H536.6V80.5H527.9ZM540.9 76.1H554.0V80.5H540.9ZM558.3 76.1H567.0V80.5H558.3ZM588.6 76.1H601.6V80.5H588.6ZM532.3 80.5H536.6V84.8H532.3ZM545.3 80.5H562.6V84.8H545.3ZM584.3 80.5H588.6V84.8H584.3ZM593.0 80.5H601.6V84.8H593.0ZM606.0 80.5H610.3V84.8H606.0ZM523.6 84.8H527.9V89.1H523.6ZM532.3 84.8H536.6V89.1H532.3ZM540.9 84.8H567.0V89.1H540.9ZM588.6 84.8H597.3V89.1H588.6ZM601.6 84.8H610.3V89.1H601.6ZM519.3 89.1H523.6V93.5H519.3ZM532.3 89.1H536.6V93.5H532.3ZM545.3 89.1H549.6V93.5H545.3ZM558.3 89.1H562.6V93.5H558.3ZM593.0 89.1H610.3V93.5H593.0ZM545.3 93.5H562.6V97.8H545.3ZM545.3 97.8H562.6V102.1H545.3ZM549.6 102.1H554.0V106.5H549.6ZM558.3 102.1H562.6V106.5H558.3ZM549.6 106.5H562.6V110.8H549.6ZM545.3 110.8H562.6V115.1H545.3ZM549.6 115.1H562.6V119.5H549.6ZM549.6 119.5H554.0V123.8H549.6ZM558.3 119.5H562.6V123.8H558.3ZM545.3 123.8H562.6V128.2H545.3ZM484.6 128.2H488.9V132.5H484.6ZM540.9 128.2H554.0V132.5H540.9ZM467.2 132.5H493.3V136.8H467.2ZM523.6 132.5H527.9V136.8H523.6ZM371.9 136.8H376.2V141.2H371.9ZM380.6 136.8H384.9V141.2H380.6ZM454.2 136.8H458.6V141.2H454.2ZM471.6 136.8H484.6V141.2H471.6ZM380.6 141.2H384.9V145.5H380.6ZM454.2 141.2H458.6V145.5H454.2ZM471.6 141.2H484.6V145.5H471.6ZM480.3 145.5H484.6V149.8H480.3ZM449.9 149.8H454.2V154.2H449.9ZM367.5 162.8H371.9V167.2H367.5ZM354.5 167.2H363.2V171.5H354.5ZM367.5 167.2H376.2V171.5H367.5ZM380.6 167.2H384.9V171.5H380.6ZM358.9 171.5H363.2V175.8H358.9ZM367.5 171.5H371.9V175.8H367.5ZM376.2 171.5H380.6V175.8H376.2ZM358.9 175.8H363.2V180.2H358.9ZM367.5 175.8H371.9V180.2H367.5ZM380.6 175.8H384.9V180.2H380.6ZM363.2 180.2H380.6V184.5H363.2ZM371.9 184.5H376.2V188.8H371.9ZM389.2 184.5H393.6V188.8H389.2ZM384.9 188.8H393.6V193.2H384.9Z"/><path fill="#ff8c00" d="M567.0 58.8H571.3V63.1H567.0ZM575.6 58.8H580.0V63.1H575.6ZM523.6 110.8H527.9V115.1H523.6ZM536.6 110.8H540.9V115.1H536.6ZM523.6 115.1H527.9V119.5H523.6ZM532.3 115.1H536.6V119.5H532.3ZM540.9 115.1H545.3V119.5H540.9ZM527.9 119.5H532.3V123.8H527.9ZM536.6 119.5H540.9V123.8H536.6ZM480.3 123.8H484.6V128.2H480.3ZM441.2 141.2H449.9V145.5H441.2Z"/><path fill="#fff400" d="M567.0 84.8H571.3V89.1H567.0ZM575.6 84.8H580.0V89.1H575.6ZM571.3 89.1H580.0V93.5H571.3ZM562.6 93.5H567.0V97.8H562.6ZM497.6 136.8H501.9V141.2H497.6ZM514.9 141.2H519.3V145.5H514.9ZM514.9 145.5H519.3V149.8H514.9ZM501.9 149.8H506.3V154.2H501.9ZM467.2 154.2H471.6V158.5H467.2ZM484.6 158.5H488.9V162.8H484.6ZM471.6 162.8H480.3V167.2H471.6ZM475.9 167.2H480.3V171.5H475.9ZM475.9 171.5H480.3V175.8H475.9ZM397.9 180.2H402.2V184.5H397.9ZM389.2 206.2H393.6V210.5H389.2Z"/><path fill="#f3ff07" d="M571.3 84.8H575.6V89.1H571.3ZM567.0 93.5H580.0V97.8H567.0ZM562.6 97.8H571.3V102.1H562.6ZM601.6 110.8H606.0V115.1H601.6ZM606.0 119.5H610.3V123.8H606.0ZM597.3 123.8H601.6V128.2H597.3ZM567.0 132.5H571.3V136.8H567.0ZM597.3 132.5H606.0V136.8H597.3ZM493.3 136.8H497.6V141.2H493.3ZM501.9 136.8H506.3V141.2H501.9ZM593.0 136.8H610.3V141.2H593.0ZM488.9 141.2H493.3V145.5H488.9ZM527.9 141.2H532.3V145.5H527.9ZM584.3 141.2H606.0V145.5H584.3ZM501.9 145.5H506.3V149.8H501.9ZM519.3 145.5H527.9V149.8H519.3ZM571.3 145.5H575.6V149.8H571.3ZM588.6 145.5H597.3V149.8H588.6ZM601.6 145.5H610.3V149.8H601.6ZM514.9 149.8H523.6V154.2H514.9ZM580.0 149.8H584.3V154.2H580.0ZM588.6 149.8H593.0V154.2H588.6ZM597.3 149.8H601.6V154.2H597.3ZM606.0 149.8H610.3V154.2H606.0ZM488.9 154.2H493.3V158.5H488.9ZM510.6 154.2H519.3V158.5H510.6ZM584.3 154.2H597.3V158.5H584.3ZM601.6 154.2H610.3V158.5H601.6ZM488.9 158.5H493.3V162.8H488.9ZM510.6 158.5H514.9V162.8H510.6ZM588.6 158.5H601.6V162.8H588.6ZM606.0 158.5H610.3V162.8H606.0ZM480.3 162.8H488.9V167.2H480.3ZM571.3 162.8H580.0V167.2H571.3ZM584.3 162.8H601.6V167.2H584.3ZM480.3 167.2H484.6V171.5H480.3ZM514.9 167.2H519.3V171.5H514.9ZM562.6 167.2H575.6V171.5H562.6ZM580.0 167.2H593.0V171.5H580.0ZM601.6 167.2H610.3V171.5H601.6ZM480.3 171.5H484.6V175.8H480.3ZM514.9 171.5H523.6V175.8H514.9ZM567.0 171.5H571.3V175.8H567.0ZM580.0 171.5H584.3V175.8H580.0ZM588.6 171.5H601.6V175.8H588.6ZM606.0 171.5H610.3V175.8H606.0ZM475.9 175.8H484.6V180.2H475.9ZM567.0 175.8H580.0V180.2H567.0ZM584.3 175.8H601.6V180.2H584.3ZM606.0 175.8H610.3V180.2H606.0ZM402.2 180.2H410.9V184.5H402.2ZM567.0 180.2H593.0V184.5H567.0ZM597.3 180.2H610.3V184.5H597.3ZM562.6 184.5H575.6V188.8H562.6ZM584.3 184.5H588.6V188.8H584.3ZM593.0 184.5H597.3V188.8H593.0ZM601.6 184.5H610.3V188.8H601.6ZM562.6 188.8H597.3V193.2H562.6ZM606.0 188.8H610.3V193.2H606.0ZM562.6 193.2H567.0V197.5H562.6ZM571.3 193.2H580.0V197.5H571.3ZM584.3 193.2H597.3V197.5H584.3ZM601.6 193.2H610.3V197.5H601.6ZM562.6 197.5H567.0V201.8H562.6ZM571.3 197.5H575.6V201.8H571.3ZM588.6 197.5H597.3V201.8H588.6ZM606.0 197.5H610.3V201.8H606.0ZM567.0 201.8H571.3V206.2H567.0ZM575.6 201.8H588.6V206.2H575.6ZM593.0 201.8H601.6V206.2H593.0ZM363.2 206.2H367.5V210.5H363.2ZM562.6 206.2H588.6V210.5H562.6ZM593.0 206.2H606.0V210.5H593.0ZM567.0 210.5H580.0V214.8H567.0ZM584.3 210.5H593.0V214.8H584.3ZM601.6 210.5H610.3V214.8H601.6ZM562.6 214.8H567.0V219.2H562.6ZM571.3 214.8H580.0V219.2H571.3ZM584.3 214.8H597.3V219.2H584.3ZM601.6 214.8H610.3V219.2H601.6ZM562.6 219.2H597.3V223.5H562.6ZM601.6 219.2H610.3V223.5H601.6ZM493.3 223.5H497.6V227.9H493.3ZM562.6 223.5H571.3V227.9H562.6ZM575.6 223.5H593.0V227.9H575.6ZM597.3 223.5H601.6V227.9H597.3ZM606.0 223.5H610.3V227.9H606.0ZM493.3 227.9H497.6V232.2H493.3ZM562.6 227.9H575.6V232.2H562.6ZM580.0 227.9H610.3V232.2H580.0ZM493.3 232.2H497.6V236.5H493.3ZM562.6 232.2H567.0V236.5H562.6ZM571.3 232.2H580.0V236.5H571.3ZM584.3 232.2H610.3V236.5H584.3Z"/><path fill="#dbff16" d="M580.0 93.5H584.3V97.8H580.0ZM593.0 93.5H610.3V97.8H593.0ZM571.3 97.8H575.6V102.1H571.3ZM593.0 97.8H610.3V102.1H593.0ZM588.6 102.1H610.3V106.5H588.6ZM588.6 106.5H610.3V110.8H588.6ZM588.6 110.8H601.6V115.1H588.6ZM606.0 110.8H610.3V115.1H606.0ZM593.0 115.1H610.3V119.5H593.0ZM588.6 119.5H606.0V123.8H588.6ZM588.6 123.8H597.3V128.2H588.6ZM601.6 123.8H610.3V128.2H601.6ZM588.6 128.2H610.3V132.5H588.6ZM554.0 132.5H558.3V136.8H554.0ZM588.6 132.5H597.3V136.8H588.6ZM606.0 132.5H610.3V136.8H606.0ZM588.6 136.8H593.0V141.2H588.6ZM497.6 141.2H501.9V145.5H497.6ZM532.3 141.2H545.3V145.5H532.3ZM567.0 141.2H571.3V145.5H567.0ZM580.0 141.2H584.3V145.5H580.0ZM606.0 141.2H610.3V145.5H606.0ZM527.9 145.5H536.6V149.8H527.9ZM575.6 145.5H588.6V149.8H575.6ZM597.3 145.5H601.6V149.8H597.3ZM523.6 149.8H527.9V154.2H523.6ZM532.3 149.8H536.6V154.2H532.3ZM571.3 149.8H580.0V154.2H571.3ZM584.3 149.8H588.6V154.2H584.3ZM593.0 149.8H597.3V154.2H593.0ZM601.6 149.8H606.0V154.2H601.6ZM519.3 154.2H523.6V158.5H519.3ZM571.3 154.2H584.3V158.5H571.3ZM597.3 154.2H601.6V158.5H597.3ZM493.3 158.5H497.6V162.8H493.3ZM514.9 158.5H523.6V162.8H514.9ZM571.3 158.5H588.6V162.8H571.3ZM601.6 158.5H606.0V162.8H601.6ZM514.9 162.8H523.6V167.2H514.9ZM545.3 162.8H549.6V167.2H545.3ZM567.0 162.8H571.3V167.2H567.0ZM580.0 162.8H584.3V167.2H580.0ZM601.6 162.8H610.3V167.2H601.6ZM519.3 167.2H523.6V171.5H519.3ZM558.3 167.2H562.6V171.5H558.3ZM575.6 167.2H580.0V171.5H575.6ZM593.0 167.2H601.6V171.5H593.0ZM415.2 171.5H419.6V175.8H415.2ZM562.6 171.5H567.0V175.8H562.6ZM571.3 171.5H580.0V175.8H571.3ZM584.3 171.5H588.6V175.8H584.3ZM601.6 171.5H606.0V175.8H601.6ZM523.6 175.8H532.3V180.2H523.6ZM558.3 175.8H567.0V180.2H558.3ZM580.0 175.8H584.3V180.2H580.0ZM601.6 175.8H606.0V180.2H601.6ZM527.9 180.2H536.6V184.5H527.9ZM562.6 180.2H567.0V184.5H562.6ZM593.0 180.2H597.3V184.5H593.0ZM575.6 184.5H584.3V188.8H575.6ZM588.6 184.5H593.0V188.8H588.6ZM597.3 184.5H601.6V188.8H597.3ZM462.9 188.8H467.2V193.2H462.9ZM558.3 188.8H562.6V193.2H558.3ZM597.3 188.8H606.0V193.2H597.3ZM567.0 193.2H571.3V197.5H567.0ZM580.0 193.2H584.3V197.5H580.0ZM597.3 193.2H601.6V197.5H597.3ZM567.0 197.5H571.3V201.8H567.0ZM575.6 197.5H588.6V201.8H575.6ZM597.3 197.5H606.0V201.8H597.3ZM562.6 201.8H567.0V206.2H562.6ZM571.3 201.8H575.6V206.2H571.3ZM588.6 201.8H593.0V206.2H588.6ZM601.6 201.8H610.3V206.2H601.6ZM371.9 206.2H376.2V210.5H371.9ZM588.6 206.2H593.0V210.5H588.6ZM606.0 206.2H610.3V210.5H606.0ZM562.6 210.5H567.0V214.8H562.6ZM580.0 210.5H584.3V214.8H580.0ZM593.0 210.5H601.6V214.8H593.0ZM493.3 214.8H497.6V219.2H493.3ZM567.0 214.8H571.3V219.2H567.0ZM580.0 214.8H584.3V219.2H580.0ZM597.3 214.8H601.6V219.2H597.3ZM493.3 219.2H497.6V223.5H493.3ZM597.3 219.2H601.6V223.5H597.3ZM571.3 223.5H575.6V227.9H571.3ZM593.0 223.5H597.3V227.9H593.0ZM601.6 223.5H606.0V227.9H601.6ZM575.6 227.9H580.0V232.2H575.6ZM567.0 232.2H571.3V236.5H567.0ZM580.0 232.2H584.3V236.5H580.0Z"/><path fill="#c3ff24" d="M588.6 97.8H593.0V102.1H588.6ZM588.6 115.1H593.0V119.5H588.6ZM584.3 136.8H588.6V141.2H584.3ZM493.3 141.2H497.6V145.5H493.3ZM575.6 141.2H580.0V145.5H575.6ZM488.9 145.5H493.3V149.8H488.9ZM488.9 149.8H493.3V154.2H488.9ZM527.9 149.8H532.3V154.2H527.9ZM562.6 149.8H571.3V154.2H562.6ZM493.3 154.2H501.9V158.5H493.3ZM536.6 154.2H540.9V158.5H536.6ZM562.6 154.2H571.3V158.5H562.6ZM540.9 158.5H549.6V162.8H540.9ZM488.9 162.8H493.3V167.2H488.9ZM562.6 162.8H567.0V167.2H562.6ZM484.6 167.2H488.9V171.5H484.6ZM419.6 171.5H423.9V175.8H419.6ZM523.6 171.5H527.9V175.8H523.6ZM545.3 171.5H549.6V175.8H545.3ZM558.3 171.5H562.6V175.8H558.3ZM484.6 175.8H488.9V180.2H484.6ZM536.6 180.2H540.9V184.5H536.6ZM493.3 210.5H497.6V214.8H493.3Z"/><path fill="#aeff35" d="M575.6 128.2H580.0V132.5H575.6ZM584.3 128.2H588.6V132.5H584.3ZM571.3 132.5H575.6V136.8H571.3ZM584.3 132.5H588.6V136.8H584.3ZM571.3 136.8H575.6V141.2H571.3ZM580.0 136.8H584.3V141.2H580.0ZM545.3 141.2H549.6V145.5H545.3ZM558.3 141.2H562.6V145.5H558.3ZM536.6 145.5H540.9V149.8H536.6ZM567.0 145.5H571.3V149.8H567.0ZM523.6 154.2H527.9V158.5H523.6ZM497.6 158.5H501.9V162.8H497.6ZM562.6 158.5H571.3V162.8H562.6ZM558.3 162.8H562.6V167.2H558.3ZM536.6 175.8H540.9V180.2H536.6ZM519.3 180.2H523.6V184.5H519.3ZM549.6 180.2H554.0V184.5H549.6ZM558.3 180.2H562.6V184.5H558.3ZM545.3 184.5H554.0V188.8H545.3ZM558.3 184.5H562.6V188.8H558.3Z"/><path fill="#a4ff4e" d="M580.0 128.2H584.3V132.5H580.0ZM580.0 132.5H584.3V136.8H580.0ZM497.6 149.8H501.9V154.2H497.6ZM536.6 149.8H540.9V154.2H536.6ZM558.3 149.8H562.6V154.2H558.3ZM540.9 154.2H545.3V158.5H540.9ZM536.6 158.5H540.9V162.8H536.6ZM493.3 162.8H506.3V167.2H493.3ZM549.6 162.8H554.0V167.2H549.6ZM545.3 167.2H549.6V171.5H545.3ZM510.6 171.5H514.9V175.8H510.6ZM532.3 175.8H536.6V180.2H532.3ZM540.9 175.8H549.6V180.2H540.9ZM428.2 180.2H432.6V184.5H428.2ZM497.6 180.2H501.9V184.5H497.6ZM540.9 180.2H545.3V184.5H540.9ZM554.0 180.2H558.3V184.5H554.0ZM384.9 210.5H389.2V214.8H384.9Z"/><path fill="#90ff80" d="M575.6 132.5H580.0V136.8H575.6ZM493.3 145.5H497.6V149.8H493.3ZM545.3 145.5H549.6V149.8H545.3ZM554.0 145.5H558.3V149.8H554.0ZM540.9 149.8H545.3V154.2H540.9ZM532.3 154.2H536.6V158.5H532.3ZM549.6 158.5H558.3V162.8H549.6ZM540.9 162.8H545.3V167.2H540.9ZM419.6 175.8H423.9V180.2H419.6ZM510.6 175.8H514.9V180.2H510.6ZM423.9 180.2H428.2V184.5H423.9ZM406.6 193.2H410.9V197.5H406.6ZM402.2 197.5H406.6V201.8H402.2ZM454.2 197.5H458.6V201.8H454.2ZM467.2 206.2H471.6V210.5H467.2ZM493.3 206.2H497.6V210.5H493.3ZM406.6 223.5H410.9V227.9H406.6Z"/><path fill="#9aff67" d="M549.6 136.8H554.0V141.2H549.6ZM497.6 145.5H501.9V149.8H497.6ZM540.9 145.5H545.3V149.8H540.9ZM558.3 145.5H567.0V149.8H558.3ZM493.3 149.8H497.6V154.2H493.3ZM545.3 154.2H549.6V158.5H545.3ZM558.3 154.2H562.6V158.5H558.3ZM523.6 158.5H527.9V162.8H523.6ZM558.3 158.5H562.6V162.8H558.3ZM554.0 162.8H558.3V167.2H554.0ZM501.9 167.2H506.3V171.5H501.9ZM484.6 171.5H488.9V175.8H484.6ZM506.3 171.5H510.6V175.8H506.3ZM540.9 171.5H545.3V175.8H540.9ZM436.9 175.8H441.2V180.2H436.9ZM488.9 175.8H493.3V180.2H488.9ZM545.3 180.2H549.6V184.5H545.3ZM554.0 184.5H558.3V188.8H554.0ZM554.0 188.8H558.3V193.2H554.0ZM493.3 197.5H497.6V201.8H493.3ZM393.6 206.2H397.9V210.5H393.6Z"/><path fill="#7aff8d" d="M575.6 136.8H580.0V141.2H575.6ZM554.0 149.8H558.3V154.2H554.0ZM488.9 167.2H493.3V171.5H488.9ZM523.6 167.2H527.9V171.5H523.6ZM527.9 171.5H532.3V175.8H527.9ZM493.3 175.8H497.6V180.2H493.3ZM514.9 188.8H519.3V193.2H514.9ZM549.6 188.8H554.0V193.2H549.6ZM410.9 219.2H415.2V223.5H410.9Z"/><path fill="#1ef8b4" d="M549.6 145.5H554.0V149.8H549.6ZM493.3 167.2H501.9V171.5H493.3ZM488.9 171.5H493.3V175.8H488.9ZM514.9 184.5H523.6V188.8H514.9ZM493.3 201.8H497.6V206.2H493.3Z"/><path fill="#63ff9b" d="M545.3 149.8H549.6V154.2H545.3ZM527.9 154.2H532.3V158.5H527.9ZM549.6 154.2H558.3V158.5H549.6ZM501.9 175.8H510.6V180.2H501.9ZM410.9 188.8H415.2V193.2H410.9ZM397.9 197.5H402.2V201.8H397.9ZM389.2 210.5H393.6V214.8H389.2Z"/><path fill="#00f6c5" d="M549.6 149.8H554.0V154.2H549.6ZM493.3 171.5H497.6V175.8H493.3ZM536.6 171.5H540.9V175.8H536.6ZM445.6 184.5H449.9V188.8H445.6ZM497.6 197.5H501.9V201.8H497.6ZM397.9 201.8H402.2V206.2H397.9ZM554.0 206.2H558.3V210.5H554.0Z"/><path fill="#00fce8" d="M527.9 158.5H532.3V162.8H527.9ZM536.6 162.8H540.9V167.2H536.6ZM523.6 180.2H527.9V184.5H523.6ZM554.0 197.5H562.6V201.8H554.0ZM462.9 201.8H467.2V206.2H462.9ZM380.6 210.5H384.9V214.8H380.6Z"/><path fill="#44fca7" d="M532.3 158.5H536.6V162.8H532.3ZM523.6 162.8H527.9V167.2H523.6ZM501.9 171.5H506.3V175.8H501.9ZM497.6 175.8H501.9V180.2H497.6ZM419.6 184.5H423.9V188.8H419.6ZM415.2 214.8H419.6V219.2H415.2Z"/><path fill="#00a0ff" d="M527.9 162.8H532.3V167.2H527.9ZM536.6 167.2H540.9V171.5H536.6ZM510.6 184.5H514.9V188.8H510.6ZM523.6 193.2H527.9V197.5H523.6ZM554.0 210.5H558.3V214.8H554.0ZM380.6 214.8H384.9V219.2H380.6ZM540.9 214.8H554.0V219.2H540.9ZM501.9 219.2H506.3V223.5H501.9ZM532.3 219.2H536.6V223.5H532.3ZM523.6 227.9H532.3V232.2H523.6Z"/><path fill="#00c3ff" d="M532.3 162.8H536.6V167.2H532.3ZM510.6 188.8H514.9V193.2H510.6ZM410.9 193.2H415.2V197.5H410.9ZM549.6 193.2H554.0V197.5H549.6ZM558.3 193.2H562.6V197.5H558.3Z"/><path fill="#00b2ff" d="M527.9 167.2H532.3V171.5H527.9ZM523.6 184.5H527.9V188.8H523.6ZM514.9 193.2H519.3V197.5H514.9ZM532.3 214.8H540.9V219.2H532.3Z"/><path fill="#0040ff" d="M532.3 167.2H536.6V171.5H532.3ZM506.3 180.2H510.6V184.5H506.3ZM523.6 188.8H527.9V193.2H523.6ZM415.2 193.2H419.6V197.5H415.2ZM506.3 197.5H519.3V201.8H506.3ZM523.6 197.5H527.9V201.8H523.6ZM540.9 197.5H549.6V201.8H540.9ZM501.9 201.8H506.3V206.2H501.9ZM501.9 210.5H510.6V214.8H501.9ZM514.9 210.5H519.3V214.8H514.9ZM523.6 210.5H527.9V214.8H523.6ZM514.9 219.2H519.3V223.5H514.9ZM514.9 223.5H523.6V227.9H514.9Z"/><path fill="#00f9ff" d="M540.9 167.2H545.3V171.5H540.9ZM497.6 171.5H501.9V175.8H497.6ZM415.2 188.8H419.6V193.2H415.2ZM519.3 188.8H523.6V193.2H519.3ZM376.2 210.5H380.6V214.8H376.2Z"/><path fill="#00e7ff" d="M532.3 171.5H536.6V175.8H532.3ZM514.9 180.2H519.3V184.5H514.9ZM441.2 184.5H445.6V188.8H441.2ZM402.2 223.5H406.6V227.9H402.2Z"/><path fill="#0058ff" d="M501.9 180.2H506.3V184.5H501.9ZM519.3 197.5H523.6V201.8H519.3ZM532.3 206.2H536.6V210.5H532.3ZM540.9 206.2H545.3V210.5H540.9ZM549.6 206.2H554.0V210.5H549.6ZM506.3 214.8H514.9V219.2H506.3ZM523.6 214.8H527.9V219.2H523.6ZM510.6 219.2H514.9V223.5H510.6ZM523.6 219.2H527.9V223.5H523.6ZM554.0 219.2H558.3V223.5H554.0ZM497.6 223.5H501.9V227.9H497.6ZM554.0 223.5H558.3V227.9H554.0ZM506.3 227.9H510.6V232.2H506.3ZM514.9 227.9H519.3V232.2H514.9ZM558.3 227.9H562.6V232.2H558.3ZM497.6 232.2H501.9V236.5H497.6ZM514.9 232.2H519.3V236.5H514.9ZM545.3 232.2H549.6V236.5H545.3Z"/><path fill="#0088ff" d="M510.6 180.2H514.9V184.5H510.6ZM506.3 188.8H510.6V193.2H506.3ZM545.3 188.8H549.6V193.2H545.3ZM501.9 193.2H510.6V197.5H501.9ZM545.3 193.2H549.6V197.5H545.3ZM501.9 197.5H506.3V201.8H501.9ZM458.6 201.8H462.9V206.2H458.6ZM558.3 201.8H562.6V206.2H558.3ZM532.3 210.5H545.3V214.8H532.3ZM549.6 210.5H554.0V214.8H549.6ZM527.9 214.8H532.3V219.2H527.9ZM506.3 219.2H510.6V223.5H506.3ZM536.6 219.2H554.0V223.5H536.6ZM532.3 223.5H540.9V227.9H532.3ZM519.3 232.2H527.9V236.5H519.3Z"/><path fill="#0028ff" d="M501.9 184.5H510.6V188.8H501.9ZM527.9 188.8H532.3V193.2H527.9ZM536.6 188.8H540.9V193.2H536.6ZM540.9 201.8H545.3V206.2H540.9ZM549.6 201.8H554.0V206.2H549.6ZM501.9 206.2H506.3V210.5H501.9ZM545.3 206.2H549.6V210.5H545.3ZM510.6 210.5H514.9V214.8H510.6ZM519.3 210.5H523.6V214.8H519.3ZM519.3 214.8H523.6V219.2H519.3ZM519.3 219.2H523.6V223.5H519.3Z"/><path fill="#0070ff" d="M501.9 188.8H506.3V193.2H501.9ZM510.6 193.2H514.9V197.5H510.6ZM549.6 197.5H554.0V201.8H549.6ZM554.0 201.8H558.3V206.2H554.0ZM497.6 206.2H501.9V210.5H497.6ZM536.6 206.2H540.9V210.5H536.6ZM558.3 206.2H562.6V210.5H558.3ZM497.6 210.5H501.9V214.8H497.6ZM527.9 210.5H532.3V214.8H527.9ZM545.3 210.5H549.6V214.8H545.3ZM558.3 210.5H562.6V214.8H558.3ZM376.2 214.8H380.6V219.2H376.2ZM497.6 214.8H506.3V219.2H497.6ZM554.0 214.8H562.6V219.2H554.0ZM497.6 219.2H501.9V223.5H497.6ZM527.9 219.2H532.3V223.5H527.9ZM558.3 219.2H562.6V223.5H558.3ZM397.9 223.5H402.2V227.9H397.9ZM501.9 223.5H514.9V227.9H501.9ZM523.6 223.5H532.3V227.9H523.6ZM540.9 223.5H554.0V227.9H540.9ZM558.3 223.5H562.6V227.9H558.3ZM497.6 227.9H506.3V232.2H497.6ZM510.6 227.9H514.9V232.2H510.6ZM519.3 227.9H523.6V232.2H519.3ZM532.3 227.9H558.3V232.2H532.3ZM501.9 232.2H514.9V236.5H501.9ZM527.9 232.2H545.3V236.5H527.9ZM549.6 232.2H562.6V236.5H549.6Z"/><path fill="#0000ff" d="M532.3 188.8H536.6V193.2H532.3Z"/><path fill="#0008ff" d="M540.9 188.8H545.3V193.2H540.9ZM510.6 201.8H514.9V206.2H510.6ZM510.6 206.2H514.9V210.5H510.6Z"/><path fill="#00d5ff" d="M519.3 193.2H523.6V197.5H519.3ZM554.0 193.2H558.3V197.5H554.0ZM497.6 201.8H501.9V206.2H497.6ZM389.2 223.5H397.9V227.9H389.2Z"/><path fill="#0010ff" d="M506.3 201.8H510.6V206.2H506.3ZM514.9 201.8H527.9V206.2H514.9ZM545.3 201.8H549.6V206.2H545.3ZM506.3 206.2H510.6V210.5H506.3ZM514.9 206.2H527.9V210.5H514.9Z"/></g><rect x="345" y="83.8" width="1.2" height="1.2" fill="#5050ff"/>
<path d="M60.3 11.0L64.8 8.0L71.2 7.4L78.8 11.0L86.3 16.8L91.4 24.4L95.2 33.3L100.3 42.1L106.6 49.7L116.7 54.8L126.9 57.8L134.4 57.3L140.8 54.8L147.1 56.1L159.8 61.6L169.9 66.2L180.0 68.0L190.1 68.0L200.3 66.7L210.4 64.9L218.0 65.4L228.1 65.4L238.2 63.6L248.4 61.1L250.7 60.8L256.3 54.9L260.5 53.2L267.5 52.8L277.4 52.8L285.8 50.7L292.9 45.3L301.3 41.5L309.7 39.1L321.0 35.2L332.2 29.8L343.5 25.3L349.1 23.9L357.6 20.8L367.4 17.6L375.8 16.6L382.9 15.2L391.3 14.1L396.9 12.7L400.5 13.4L407.5 8.7L413.8 10.3L419.4 10.3L427.9 8.7L432.1 10.1L436.6 10.6L442.2 9.0L451.0 6.7L459.8 6.3L468.6 7.8L479.1 10.2L489.7 12.5L500.2 16.5L510.8 20.4L521.3 24.8L531.9 28.3L542.4 31.0L551.2 35.4L560.0 41.2L567.0 45.0L573.2 48.5L577.6 55.6L582.8 65.2L588.1 74.9L591.6 83.7L594.3 94.3L596.6 103.0L596.9 110.1L596.0 118.9L594.3 129.4L590.8 138.2L584.6 145.2L577.6 154.0L572.3 161.1L567.9 168.1L565.3 176.9L562.6 187.4L560.9 198.0L557.4 208.5L551.2 217.3L544.2 224.4L537.1 230.5L528.3 233.1L517.8 234.0L509.0 232.3L502.9 228.7L499.3 224.4L497.6 219.1L496.7 214.7L494.1 213.8L492.3 215.6L490.5 211.2L487.9 205.9L484.4 201.5L479.1 198.3L477.4 201.5L476.5 205.9L473.8 206.8L473.0 210.3L470.3 212.0L465.1 209.4L459.8 206.8L454.5 204.1L448.4 202.4L442.2 205.0L438.7 208.5L431.6 211.2L421.1 214.7L415.8 220.0L413.2 224.4L409.7 226.1L401.8 226.1L391.2 225.8L384.2 227.5L382.4 222.6L383.8 218.2L381.5 215.6L376.3 214.7L373.6 209.4L369.2 206.8L366.6 208.5L359.8 205.7L352.2 203.9L344.6 202.6L338.2 206.4L333.2 210.7L332.7 216.6L329.4 219.9L325.6 214.0L324.3 207.7L320.5 206.4L314.2 208.5L306.6 209.7L297.7 209.7L291.4 206.4L286.3 205.7L281.3 209.0L277.5 206.4L271.2 200.6L263.6 201.4L262.3 195.0L256.0 196.3L248.4 192.5L245.8 187.4L242.0 184.4L235.7 186.2L230.7 181.1L223.1 177.3L215.5 172.3L210.4 167.2L202.8 165.2L197.7 167.2L193.9 172.3L187.6 165.9L180.0 162.1L173.7 159.6L167.4 155.8L159.8 153.5L154.7 149.7L152.2 143.4L153.4 138.3L148.4 134.5L147.1 129.5L150.9 128.2L156.0 131.2L159.8 129.5L161.0 124.4L159.8 118.1L156.0 113.0L150.9 110.5L153.4 106.7L152.2 101.6L156.0 100.4L157.2 97.8L150.9 94.0L145.8 92.8L144.6 87.7L142.0 82.6L140.8 78.1L134.4 77.6L124.3 76.3L116.7 74.5L112.9 71.7L107.9 71.2L104.1 67.4L105.3 63.6L102.8 59.9L99.0 56.1L95.2 53.5L88.9 52.3L83.8 50.5L78.8 51.0L78.8 48.5L83.8 47.2L89.4 44.7L87.6 40.9L86.9 35.8L83.8 32.0L85.1 28.2L81.3 24.4L75.0 22.4L71.2 24.4L64.8 22.4L62.3 19.3L67.4 16.8L64.8 14.8L62.3 14.3Z" fill="none" stroke="#666" stroke-width="2.1" stroke-linejoin="round"/>
</g>
<rect x="99.9" y="1289.7" width="607.6" height="260.9" fill="none" stroke="#000" stroke-width="2.5"/>
<line x1="99.9" y1="1550.6" x2="99.9" y2="1555.8" stroke="#000" stroke-width="3" stroke-linecap="round"/>
<text x="100.7" y="1579.1" text-anchor="middle">70° E</text>
<line x1="273.5" y1="1550.6" x2="273.5" y2="1555.8" stroke="#000" stroke-width="3" stroke-linecap="round"/>
<text x="274.3" y="1579.1" text-anchor="middle">80° E</text>
<line x1="447.1" y1="1550.6" x2="447.1" y2="1555.8" stroke="#000" stroke-width="3" stroke-linecap="round"/>
<text x="447.9" y="1579.1" text-anchor="middle">90° E</text>
<line x1="620.7" y1="1550.6" x2="620.7" y2="1555.8" stroke="#000" stroke-width="3" stroke-linecap="round"/>
<text x="621.5" y="1579.1" text-anchor="middle">100° E</text>
<line x1="94.9" y1="1289.7" x2="99.9" y2="1289.7" stroke="#000" stroke-width="3" stroke-linecap="round"/>
<text transform="translate(88.1 1289.7) rotate(-90)" text-anchor="middle">40° N</text>
<line x1="94.9" y1="1463.0" x2="99.9" y2="1463.0" stroke="#000" stroke-width="3" stroke-linecap="round"/>
<text transform="translate(88.1 1463.0) rotate(-90)" text-anchor="middle">30° N</text>
<text x="395.7" y="1615.6" text-anchor="middle">Longitude</text>
<text transform="translate(53.9 1408.2) rotate(-90)" text-anchor="middle">Latitude</text>
<text x="101.4" y="1532.2">2014-12-31</text>
<text x="387.2" y="1264.7" text-anchor="middle" font-weight="bold" font-size="20">(g)</text>
</g>
<g id="panel-h">
<g transform="translate(790.8 1290.7)">
<g clip-path="url(#oc)"><rect x="0" y="0" width="608" height="260" fill="#ff9a10"/><g filter="url(#f-dorange)" fill="#ff7400"><path d="M160.5 120.0L171.2 107.2L192.6 100.8L214.0 111.5L231.1 120.0L226.8 132.8L214.0 139.2L201.1 141.4L188.3 137.1L171.2 132.8Z" fill-opacity="0.414"/><path d="M550.0 38.8L582.1 47.3L603.5 94.4L577.8 90.1L556.4 64.4Z" fill-opacity="0.565"/></g><g filter="url(#f-lorange)" fill="#ffb400"><path d="M0.2 0.3L608.2 0.3L608.2 260.2L0.2 260.2Z" fill-opacity="0.35"/><path d="M235.3 115.7L304.2 115.7L304.2 205.5L235.3 205.5Z" fill-opacity="0.475"/><path d="M509.4 70.8L550.0 64.4L577.8 92.2L603.5 111.5L603.5 184.1L453.8 184.1L453.8 128.6L509.4 124.3Z" fill-opacity="0.565"/><path d="M304.2 120.0L411.1 120.0L415.4 214.1L304.2 214.1Z" fill-opacity="0.475"/></g><g filter="url(#f-yellow)" fill="#fff200"><path d="M235.3 115.7L304.2 115.7L304.2 149.9L235.3 149.9Z" fill-opacity="0.457"/><path d="M509.4 70.8L539.3 64.4L582.1 85.8L603.5 107.2L594.9 139.2L573.5 169.2L539.3 167.0L518.0 149.9L518.0 107.2Z" fill-opacity="0.54"/><path d="M304.2 120.0L368.3 120.0L368.3 149.9L304.2 149.9Z" fill-opacity="0.436"/><path d="M385.4 162.8L415.4 162.8L415.4 192.7L385.4 192.7Z" fill-opacity="0.436"/><path d="M488.0 171.3L569.3 171.3L569.3 235.4L488.0 235.4Z" fill-opacity="0.621"/></g><g filter="url(#f-lgreen)" fill="#a8ff58"><ellipse cx="301.6" cy="128.6" rx="6.4" ry="8.6" fill-opacity="0.436"/><ellipse cx="556.4" cy="149.9" rx="21.4" ry="23.5" fill-opacity="0.436"/><ellipse cx="496.6" cy="184.1" rx="10.7" ry="21.4" fill-opacity="0.457"/><ellipse cx="575.7" cy="100.8" rx="10.7" ry="10.7" fill-opacity="0.436"/><ellipse cx="524.4" cy="49.5" rx="12.8" ry="8.6" fill-opacity="0.475"/><path d="M385.4 214.1L398.3 205.5L423.9 197.0L445.3 194.8L453.8 201.2L441.0 209.8L419.6 216.2L411.1 224.8L385.4 226.9Z" fill-opacity="0.621"/><path d="M406.8 184.1L453.8 184.1L453.8 201.2L406.8 201.2Z" fill-opacity="0.475"/><path d="M492.3 201.2L565.0 184.1L565.0 235.4L492.3 235.4Z" fill-opacity="0.515"/></g><g filter="url(#f-cyan)" fill="#00e4f4"><ellipse cx="550.0" cy="149.9" rx="10.7" ry="12.8" fill-opacity="0.414"/><ellipse cx="535.1" cy="162.8" rx="10.7" ry="6.4" fill-opacity="0.475"/><ellipse cx="573.5" cy="98.6" rx="8.6" ry="3.0" fill-opacity="0.436"/><ellipse cx="528.7" cy="53.7" rx="6.4" ry="5.3" fill-opacity="0.475"/><ellipse cx="496.6" cy="177.7" rx="6.4" ry="12.8" fill-opacity="0.388"/><ellipse cx="417.5" cy="210.9" rx="27.8" ry="7.5" fill-opacity="0.515" transform="rotate(-20 417.5 210.9)"/><ellipse cx="432.5" cy="192.7" rx="17.1" ry="6.4" fill-opacity="0.388"/><ellipse cx="530.8" cy="211.9" rx="32.1" ry="17.1" fill-opacity="0.475"/></g><g filter="url(#f-sky)" fill="#0090ff"><ellipse cx="415.4" cy="211.9" rx="23.5" ry="6.0" fill-opacity="0.475" transform="rotate(-20 415.4 211.9)"/><ellipse cx="530.8" cy="211.9" rx="27.8" ry="12.8" fill-opacity="0.436"/></g><g filter="url(#f-blue)" fill="#0028f0"><ellipse cx="522.2" cy="57.6" rx="4.3" ry="1.3" fill-opacity="0.475"/><ellipse cx="406.8" cy="214.1" rx="19.2" ry="4.3" fill-opacity="0.515" transform="rotate(-20 406.8 214.1)"/><ellipse cx="394.0" cy="222.6" rx="10.7" ry="2.6" fill-opacity="0.515"/><ellipse cx="530.8" cy="210.9" rx="29.9" ry="12.8" fill-opacity="0.515"/><ellipse cx="547.9" cy="192.7" rx="9.6" ry="9.6" fill-opacity="0.565"/></g><g filter="url(#f-whiteinv)" fill="#ffffff"><rect x="0" y="0" width="608" height="260" fill-opacity="0"/><path d="M160.5 120.0L171.2 107.2L192.6 100.8L214.0 107.2L256.7 111.5L299.5 120.0L299.5 141.4L235.3 137.1L214.0 139.2L201.1 141.4L188.3 137.1L171.2 132.8Z" fill-opacity="0.543"/><path d="M162.7 102.9L214.0 100.8L214.0 115.7L162.7 115.7Z" fill-opacity="0.435"/><path d="M205.4 94.4L256.7 96.5L304.2 102.9L304.2 132.8L256.7 128.6L224.7 124.3Z" fill-opacity="0.507"/><path d="M235.3 128.6L304.2 132.8L304.2 149.9L267.4 149.9L239.6 141.4Z" fill-opacity="0.485"/><path d="M239.6 147.8L278.1 154.2L304.2 154.2L304.2 175.6L278.1 171.3L252.4 162.8Z" fill-opacity="0.564"/><path d="M256.7 182.0L278.1 177.7L304.2 175.6L304.2 201.2L278.1 197.0Z" fill-opacity="0.564"/><path d="M128.5 55.9L304.2 43.1L304.2 92.2L149.8 92.2Z" fill-opacity="0.271"/><path d="M278.1 60.2L304.2 55.9L304.2 90.1L278.1 90.1Z" fill-opacity="0.435"/><path d="M214.0 70.8L246.0 70.8L246.0 81.5L214.0 81.5Z" fill-opacity="0.379"/><path d="M162.7 137.1L184.0 137.1L184.0 149.9L162.7 149.9Z" fill-opacity="0.435"/><path d="M214.0 141.4L231.1 141.4L231.1 149.9L214.0 149.9Z" fill-opacity="0.525"/><path d="M243.9 154.2L256.7 154.2L256.7 162.8L243.9 162.8Z" fill-opacity="0.435"/><path d="M353.4 32.4L374.7 21.7L400.4 13.1L432.5 13.1L441.0 21.7L432.5 34.5L436.7 47.3L453.8 43.1L488.0 47.3L496.6 62.3L488.0 73.0L453.8 73.0L423.9 70.8L402.5 64.4L376.9 60.2L357.6 49.5Z" fill-opacity="0.644"/><path d="M304.2 38.8L353.4 32.4L357.6 55.9L304.2 55.9Z" fill-opacity="0.485"/><path d="M304.2 55.9L394.0 60.2L394.0 90.1L304.2 90.1Z" fill-opacity="0.46"/><path d="M394.0 73.0L432.5 73.0L466.7 75.1L496.6 70.8L500.9 85.8L488.0 96.5L453.8 94.4L423.9 90.1L398.3 85.8Z" fill-opacity="0.564"/><path d="M441.0 90.1L458.1 85.8L470.9 107.2L458.1 111.5Z" fill-opacity="0.525"/><path d="M368.3 102.9L394.0 98.6L419.6 100.8L423.9 111.5L398.3 120.0L372.6 115.7Z" fill-opacity="0.612"/><path d="M304.2 90.1L368.3 94.4L368.3 149.9L304.2 149.9Z" fill-opacity="0.485"/><path d="M342.7 120.0L411.1 120.0L411.1 137.1L342.7 137.1Z" fill-opacity="0.507"/><path d="M488.0 30.2L509.4 28.1L518.0 43.1L513.7 70.8L496.6 73.0L490.2 53.7Z" fill-opacity="0.525"/><path d="M518.0 38.8L539.3 38.8L571.4 49.5L588.5 81.5L594.9 107.2L588.5 137.1L571.4 162.8L565.0 175.6L556.4 179.9L539.3 162.8L518.0 162.8L496.6 171.3L488.0 188.4L479.5 179.9L470.9 154.2L453.8 145.7L462.4 128.6L488.0 128.6L509.4 124.3L522.2 111.5L518.0 90.1L509.4 75.1Z" fill-opacity="0.788"/><path d="M453.8 132.8L475.2 128.6L492.3 137.1L496.6 162.8L488.0 184.1L475.2 175.6L466.7 154.2Z" fill-opacity="0.675"/><path d="M304.2 149.9L329.9 147.8L351.2 154.2L374.7 149.9L398.3 158.5L406.8 171.3L402.5 186.3L411.1 197.0L398.3 209.8L385.4 216.2L374.7 211.9L357.6 205.5L336.3 209.8L325.6 205.5L304.2 205.5Z" fill-opacity="0.75"/><path d="M347.0 137.1L406.8 137.1L406.8 154.2L347.0 154.2Z" fill-opacity="0.525"/><path d="M385.4 214.1L398.3 205.5L423.9 197.0L445.3 194.8L453.8 201.2L441.0 209.8L419.6 216.2L411.1 224.8L385.4 226.9Z" fill-opacity="0.708"/><path d="M406.8 184.1L453.8 184.1L453.8 197.0L406.8 197.0Z" fill-opacity="0.485"/><path d="M492.3 205.5L509.4 199.1L530.8 201.2L539.3 188.4L556.4 184.1L565.0 192.7L560.7 209.8L550.0 224.8L528.7 233.3L507.3 231.2L498.7 222.6Z" fill-opacity="0.708"/><path d="M488.0 175.6L509.4 175.6L509.4 205.5L488.0 205.5Z" fill-opacity="0.564"/><path d="M432.5 13.1L488.0 13.1L488.0 43.1L441.0 38.8Z" fill-opacity="0.41"/></g><g filter="url(#f-white)" fill="#ffffff"><ellipse cx="522.7" cy="52.2" rx="7.7" ry="4.7" fill-opacity="0.8" transform="rotate(15 522.7 52.2)"/></g></g>
<path d="M60.3 11.0L64.8 8.0L71.2 7.4L78.8 11.0L86.3 16.8L91.4 24.4L95.2 33.3L100.3 42.1L106.6 49.7L116.7 54.8L126.9 57.8L134.4 57.3L140.8 54.8L147.1 56.1L159.8 61.6L169.9 66.2L180.0 68.0L190.1 68.0L200.3 66.7L210.4 64.9L218.0 65.4L228.1 65.4L238.2 63.6L248.4 61.1L250.7 60.8L256.3 54.9L260.5 53.2L267.5 52.8L277.4 52.8L285.8 50.7L292.9 45.3L301.3 41.5L309.7 39.1L321.0 35.2L332.2 29.8L343.5 25.3L349.1 23.9L357.6 20.8L367.4 17.6L375.8 16.6L382.9 15.2L391.3 14.1L396.9 12.7L400.5 13.4L407.5 8.7L413.8 10.3L419.4 10.3L427.9 8.7L432.1 10.1L436.6 10.6L442.2 9.0L451.0 6.7L459.8 6.3L468.6 7.8L479.1 10.2L489.7 12.5L500.2 16.5L510.8 20.4L521.3 24.8L531.9 28.3L542.4 31.0L551.2 35.4L560.0 41.2L567.0 45.0L573.2 48.5L577.6 55.6L582.8 65.2L588.1 74.9L591.6 83.7L594.3 94.3L596.6 103.0L596.9 110.1L596.0 118.9L594.3 129.4L590.8 138.2L584.6 145.2L577.6 154.0L572.3 161.1L567.9 168.1L565.3 176.9L562.6 187.4L560.9 198.0L557.4 208.5L551.2 217.3L544.2 224.4L537.1 230.5L528.3 233.1L517.8 234.0L509.0 232.3L502.9 228.7L499.3 224.4L497.6 219.1L496.7 214.7L494.1 213.8L492.3 215.6L490.5 211.2L487.9 205.9L484.4 201.5L479.1 198.3L477.4 201.5L476.5 205.9L473.8 206.8L473.0 210.3L470.3 212.0L465.1 209.4L459.8 206.8L454.5 204.1L448.4 202.4L442.2 205.0L438.7 208.5L431.6 211.2L421.1 214.7L415.8 220.0L413.2 224.4L409.7 226.1L401.8 226.1L391.2 225.8L384.2 227.5L382.4 222.6L383.8 218.2L381.5 215.6L376.3 214.7L373.6 209.4L369.2 206.8L366.6 208.5L359.8 205.7L352.2 203.9L344.6 202.6L338.2 206.4L333.2 210.7L332.7 216.6L329.4 219.9L325.6 214.0L324.3 207.7L320.5 206.4L314.2 208.5L306.6 209.7L297.7 209.7L291.4 206.4L286.3 205.7L281.3 209.0L277.5 206.4L271.2 200.6L263.6 201.4L262.3 195.0L256.0 196.3L248.4 192.5L245.8 187.4L242.0 184.4L235.7 186.2L230.7 181.1L223.1 177.3L215.5 172.3L210.4 167.2L202.8 165.2L197.7 167.2L193.9 172.3L187.6 165.9L180.0 162.1L173.7 159.6L167.4 155.8L159.8 153.5L154.7 149.7L152.2 143.4L153.4 138.3L148.4 134.5L147.1 129.5L150.9 128.2L156.0 131.2L159.8 129.5L161.0 124.4L159.8 118.1L156.0 113.0L150.9 110.5L153.4 106.7L152.2 101.6L156.0 100.4L157.2 97.8L150.9 94.0L145.8 92.8L144.6 87.7L142.0 82.6L140.8 78.1L134.4 77.6L124.3 76.3L116.7 74.5L112.9 71.7L107.9 71.2L104.1 67.4L105.3 63.6L102.8 59.9L99.0 56.1L95.2 53.5L88.9 52.3L83.8 50.5L78.8 51.0L78.8 48.5L83.8 47.2L89.4 44.7L87.6 40.9L86.9 35.8L83.8 32.0L85.1 28.2L81.3 24.4L75.0 22.4L71.2 24.4L64.8 22.4L62.3 19.3L67.4 16.8L64.8 14.8L62.3 14.3Z" fill="none" stroke="#666" stroke-width="2.1" stroke-linejoin="round"/>
</g>
<rect x="790.8" y="1290.7" width="607.7" height="261.0" fill="none" stroke="#000" stroke-width="2.5"/>
<line x1="790.8" y1="1551.7" x2="790.8" y2="1556.9" stroke="#000" stroke-width="3" stroke-linecap="round"/>
<text x="791.6" y="1580.2" text-anchor="middle">70° E</text>
<line x1="964.4" y1="1551.7" x2="964.4" y2="1556.9" stroke="#000" stroke-width="3" stroke-linecap="round"/>
<text x="965.2" y="1580.2" text-anchor="middle">80° E</text>
<line x1="1138.0" y1="1551.7" x2="1138.0" y2="1556.9" stroke="#000" stroke-width="3" stroke-linecap="round"/>
<text x="1138.8" y="1580.2" text-anchor="middle">90° E</text>
<line x1="1311.6" y1="1551.7" x2="1311.6" y2="1556.9" stroke="#000" stroke-width="3" stroke-linecap="round"/>
<text x="1312.4" y="1580.2" text-anchor="middle">100° E</text>
<line x1="785.8" y1="1290.7" x2="790.8" y2="1290.7" stroke="#000" stroke-width="3" stroke-linecap="round"/>
<text transform="translate(779.0 1290.7) rotate(-90)" text-anchor="middle">40° N</text>
<line x1="785.8" y1="1464.0" x2="790.8" y2="1464.0" stroke="#000" stroke-width="3" stroke-linecap="round"/>
<text transform="translate(779.0 1464.0) rotate(-90)" text-anchor="middle">30° N</text>
<text x="1086.7" y="1616.7" text-anchor="middle">Longitude</text>
<text transform="translate(744.8 1409.2) rotate(-90)" text-anchor="middle">Latitude</text>
<text x="792.3" y="1533.3">2014-12-31</text>
<text x="1078.2" y="1265.7" text-anchor="middle" font-weight="bold" font-size="20">(h)</text>
</g>
<defs><linearGradient id="cb1" x1="0" x2="1" y1="0" y2="0"><stop offset="0" stop-color="#ff0000"/><stop offset="0.1" stop-color="#ff1800"/><stop offset="0.4" stop-color="#ff8c00"/><stop offset="0.68" stop-color="#ffff00"/><stop offset="0.8" stop-color="#a8ff20"/><stop offset="1" stop-color="#90ff80"/></linearGradient><linearGradient id="cb2" x1="0" x2="1" y1="0" y2="0"><stop offset="0" stop-color="#00ff50"/><stop offset="0.22" stop-color="#00ffc0"/><stop offset="0.32" stop-color="#00ffff"/><stop offset="0.6" stop-color="#00a0ff"/><stop offset="0.9" stop-color="#0010ff"/><stop offset="1" stop-color="#0000ff"/></linearGradient></defs>
<rect x="411.0" y="1649.0" width="284.6" height="45.5" fill="url(#cb1)"/>
<rect x="695.6" y="1649.0" width="274.9" height="45.5" fill="url(#cb2)"/>
<text x="415" y="1732" text-anchor="middle" font-size="24">0</text>
<text x="517" y="1732" text-anchor="middle" font-size="24">0.1</text>
<text x="629" y="1732" text-anchor="middle" font-size="24">0.2</text>
<text x="740" y="1732" text-anchor="middle" font-size="24">0.3</text>
<text x="850" y="1732" text-anchor="middle" font-size="24">0.4</text>
<text x="962" y="1732" text-anchor="middle" font-size="24">0.5</text>
</svg></body></html>
